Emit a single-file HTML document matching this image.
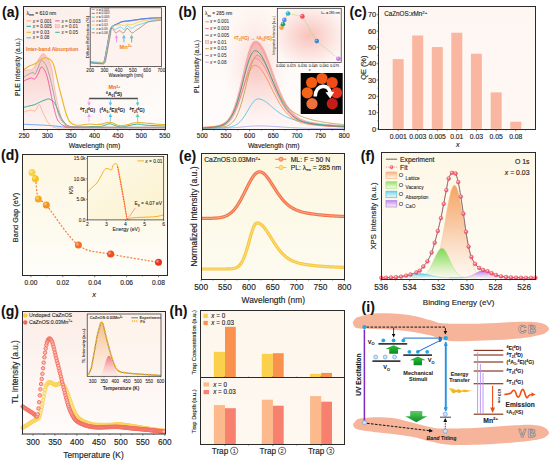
<!DOCTYPE html>
<html><head><meta charset="utf-8"><style>
html,body{margin:0;padding:0;background:#fff;width:550px;height:463px;overflow:hidden}
svg{display:block;font-family:"Liberation Sans", sans-serif}

</style></head><body>
<svg width="550" height="463" viewBox="0 0 550 463">
<defs><linearGradient id="ga_fill" x1="0" y1="0" x2="0" y2="1"><stop offset="0" stop-color="#f7b5b5" stop-opacity="0.75"/><stop offset="1" stop-color="#fbe3e0" stop-opacity="0.2"/></linearGradient><linearGradient id="ga_bg" x1="0" y1="0" x2="0.8" y2="1"><stop offset="0" stop-color="#fbece6"/><stop offset="0.55" stop-color="#fdf6f3"/><stop offset="1" stop-color="#fefbf9"/></linearGradient></defs>
<rect x="23.5" y="6.5" width="142" height="123" fill="url(#ga_bg)" stroke="none" stroke-width="1" />
<path d="M23.8,70.7 C24.5,70.58 26.47,70.3 28,70 C29.53,69.7 31.5,70.23 33,68.9 C34.5,67.57 35.47,64.45 37,62 C38.53,59.55 40.72,55.2 42.2,54.2 C43.68,53.2 44.37,53.87 45.9,56 C47.43,58.13 49.88,61.18 51.4,67 C52.92,72.82 53.48,82.95 55,90.9 C56.52,98.85 58.67,109.18 60.5,114.7 C62.33,120.22 64.08,122.03 66,124 C67.92,125.97 69.67,125.92 72,126.5 C74.33,127.08 78.67,127.33 80,127.5 L80,129 L23.8,129 Z" stroke="none" stroke-width="1" fill="url(#ga_fill)" />
<path d="M24,124.3 C26.67,124.42 35.43,124.77 40,125 C44.57,125.23 48.07,125.45 51.4,125.7 C54.73,125.95 56.65,126.15 60,126.5 C63.35,126.85 64.83,127.55 71.5,127.8 C78.17,128.05 84.42,127.97 100,128 C115.58,128.03 154.17,128 165,128" stroke="#6a9cf0" stroke-width="0.9" fill="none" />
<path d="M24,112 C24.58,111.8 26.3,111.12 27.5,110.8 C28.7,110.48 29.98,110.05 31.2,110.1 C32.42,110.15 33.83,111.45 34.8,111.1 C35.77,110.75 36.23,109.08 37,108 C37.77,106.92 38.53,104.08 39.4,104.6 C40.27,105.12 41.27,109.03 42.2,111.1 C43.13,113.17 44.08,115.17 45,117 C45.92,118.83 46.7,120.68 47.7,122.1 C48.7,123.52 49.78,124.58 51,125.5 C52.22,126.42 51.83,127.18 55,127.6 C58.17,128.02 51.67,127.93 70,128 C88.33,128.07 149.17,128 165,128" stroke="#f7ad85" stroke-width="0.8" fill="none" />
<path d="M24,107.4 C24.83,107.17 27.2,106.47 29,106 C30.8,105.53 32.92,105.28 34.8,104.6 C36.68,103.92 38.6,102.67 40.3,101.9 C42,101.13 43.47,100.47 45,100 C46.53,99.53 47.83,98.48 49.5,99.1 C51.17,99.72 53.17,100.78 55,103.7 C56.83,106.62 59,113.55 60.5,116.6 C62,119.65 62.77,120.48 64,122 C65.23,123.52 66.07,124.87 67.9,125.7 C69.73,126.53 72.15,126.78 75,127 C77.85,127.22 82.17,127.08 85,127 C87.83,126.92 89.5,126.57 92,126.5 C94.5,126.43 97.83,126.82 100,126.6 C102.17,126.38 103.33,125.67 105,125.2 C106.67,124.73 108.33,123.75 110,123.8 C111.67,123.85 113.17,124.97 115,125.5 C116.83,126.03 118.83,126.95 121,127 C123.17,127.05 125.83,126.22 128,125.8 C130.17,125.38 132.17,124.77 134,124.5 C135.83,124.23 137,124.08 139,124.2 C141,124.32 141.67,124.9 146,125.2 C150.33,125.5 161.83,125.87 165,126" stroke="#25a893" stroke-width="0.9" fill="none" />
<path d="M24,80.8 C24.5,80.58 25.8,79.97 27,79.5 C28.2,79.03 29.9,78.08 31.2,78 C32.5,77.92 33.67,79.67 34.8,79 C35.93,78.33 36.92,76 38,74 C39.08,72 40.15,67.55 41.3,67 C42.45,66.45 43.78,68.53 44.9,70.7 C46.02,72.87 46.92,75.72 48,80 C49.08,84.28 50.4,91.73 51.4,96.4 C52.4,101.07 53.08,104.33 54,108 C54.92,111.67 55.9,115.9 56.9,118.4 C57.9,120.9 58.78,121.78 60,123 C61.22,124.22 61.7,124.98 64.2,125.7 C66.7,126.42 58.2,127 75,127.3 C91.8,127.6 150,127.47 165,127.5" stroke="#f0559e" stroke-width="0.9" fill="none" />
<path d="M24,77.1 C24.67,76.67 26.5,75.27 28,74.5 C29.5,73.73 31.87,72.52 33,72.5 C34.13,72.48 33.97,75.15 34.8,74.4 C35.63,73.65 36.92,70.3 38,68 C39.08,65.7 39.98,61.07 41.3,60.6 C42.62,60.13 44.62,62.97 45.9,65.2 C47.18,67.43 47.93,70.33 49,74 C50.07,77.67 51.22,82.53 52.3,87.2 C53.38,91.87 54.43,97.42 55.5,102 C56.57,106.58 57.62,111.53 58.7,114.7 C59.78,117.87 60.78,119.32 62,121 C63.22,122.68 63.83,123.83 66,124.8 C68.17,125.77 58.5,126.4 75,126.8 C91.5,127.2 150,127.13 165,127.2" stroke="#9aa592" stroke-width="0.9" fill="none" />
<path d="M23.8,70.7 C24.5,70.58 26.47,70.3 28,70 C29.53,69.7 31.5,70.23 33,68.9 C34.5,67.57 35.47,64.45 37,62 C38.53,59.55 40.72,55.2 42.2,54.2 C43.68,53.2 44.37,53.87 45.9,56 C47.43,58.13 49.88,61.18 51.4,67 C52.92,72.82 53.48,82.95 55,90.9 C56.52,98.85 58.67,109.18 60.5,114.7 C62.33,120.22 63.58,121.95 66,124 C68.42,126.05 58.5,126.45 75,127 C91.5,127.55 150,127.25 165,127.3" stroke="#f28a8a" stroke-width="0.6" fill="none" opacity="0.8"/>
<path d="M23.8,69.8 C24.72,69.18 27.62,67.02 29.3,66.1 C30.98,65.18 32.62,64.9 33.9,64.3 C35.18,63.7 35.93,63.27 37,62.5 C38.07,61.73 38.82,60.48 40.3,59.7 C41.78,58.92 44.05,57.65 45.9,57.8 C47.75,57.95 50.05,59.23 51.4,60.6 C52.75,61.97 53.08,63.1 54,66 C54.92,68.9 55.98,74.17 56.9,78 C57.82,81.83 58.58,85.33 59.5,89 C60.42,92.67 61.48,96.5 62.4,100 C63.32,103.5 64.08,106.93 65,110 C65.92,113.07 66.9,116.23 67.9,118.4 C68.9,120.57 69.78,121.9 71,123 C72.22,124.1 73.37,124.67 75.2,125 C77.03,125.33 79.7,125.17 82,125 C84.3,124.83 86.83,124.08 89,124 C91.17,123.92 93.17,124.43 95,124.5 C96.83,124.57 98.5,124.55 100,124.4 C101.5,124.25 102.83,123.9 104,123.6 C105.17,123.3 106,122.82 107,122.6 C108,122.38 109,122.23 110,122.3 C111,122.37 111.83,122.55 113,123 C114.17,123.45 115.67,124.53 117,125 C118.33,125.47 119.33,125.83 121,125.8 C122.67,125.77 125,125.27 127,124.8 C129,124.33 131.17,123.38 133,123 C134.83,122.62 136,122.5 138,122.5 C140,122.5 142.17,122.75 145,123 C147.83,123.25 151.67,123.75 155,124 C158.33,124.25 163.33,124.42 165,124.5" stroke="#e8b626" stroke-width="1.1" fill="none" />
<rect x="23.5" y="6.5" width="142" height="123" fill="none" stroke="#2a2a2a" stroke-width="1" />
<line x1="24" y1="129.5" x2="24" y2="131.3" stroke="#333" stroke-width="0.6" />
<text x="24" y="137.8" font-size="6.6" text-anchor="middle" font-weight="normal" font-style="normal" fill="#222" stroke="#222" stroke-width="0.13" >250</text>
<line x1="47.47" y1="129.5" x2="47.47" y2="131.3" stroke="#333" stroke-width="0.6" />
<text x="47.47" y="137.8" font-size="6.6" text-anchor="middle" font-weight="normal" font-style="normal" fill="#222" stroke="#222" stroke-width="0.13" >300</text>
<line x1="70.93" y1="129.5" x2="70.93" y2="131.3" stroke="#333" stroke-width="0.6" />
<text x="70.93" y="137.8" font-size="6.6" text-anchor="middle" font-weight="normal" font-style="normal" fill="#222" stroke="#222" stroke-width="0.13" >350</text>
<line x1="94.4" y1="129.5" x2="94.4" y2="131.3" stroke="#333" stroke-width="0.6" />
<text x="94.4" y="137.8" font-size="6.6" text-anchor="middle" font-weight="normal" font-style="normal" fill="#222" stroke="#222" stroke-width="0.13" >400</text>
<line x1="117.87" y1="129.5" x2="117.87" y2="131.3" stroke="#333" stroke-width="0.6" />
<text x="117.87" y="137.8" font-size="6.6" text-anchor="middle" font-weight="normal" font-style="normal" fill="#222" stroke="#222" stroke-width="0.13" >450</text>
<line x1="141.33" y1="129.5" x2="141.33" y2="131.3" stroke="#333" stroke-width="0.6" />
<text x="141.33" y="137.8" font-size="6.6" text-anchor="middle" font-weight="normal" font-style="normal" fill="#222" stroke="#222" stroke-width="0.13" >500</text>
<line x1="164.8" y1="129.5" x2="164.8" y2="131.3" stroke="#333" stroke-width="0.6" />
<text x="164.8" y="137.8" font-size="6.6" text-anchor="middle" font-weight="normal" font-style="normal" fill="#222" stroke="#222" stroke-width="0.13" >550</text>
<line x1="35.73" y1="129.5" x2="35.73" y2="130.5" stroke="#333" stroke-width="0.6" />
<line x1="59.2" y1="129.5" x2="59.2" y2="130.5" stroke="#333" stroke-width="0.6" />
<line x1="82.67" y1="129.5" x2="82.67" y2="130.5" stroke="#333" stroke-width="0.6" />
<line x1="106.13" y1="129.5" x2="106.13" y2="130.5" stroke="#333" stroke-width="0.6" />
<line x1="129.6" y1="129.5" x2="129.6" y2="130.5" stroke="#333" stroke-width="0.6" />
<line x1="153.07" y1="129.5" x2="153.07" y2="130.5" stroke="#333" stroke-width="0.6" />
<text x="94.5" y="147.5" font-size="6.8" text-anchor="middle" font-weight="normal" font-style="normal" fill="#222" stroke="#222" stroke-width="0.13" >Wavelength (nm)</text>
<text x="19.8" y="67.2" font-size="6.8" text-anchor="middle" font-weight="normal" font-style="normal" fill="#222" stroke="#222" stroke-width="0.13" transform="rotate(-90 19.8 67.2)" >PLE Intensity (a.u.)</text>
<text x="2" y="16.5" font-size="14" text-anchor="start" font-weight="bold" font-style="normal" fill="#111" stroke="#111" stroke-width="0.1" >(a)</text>
<text x="26.5" y="14.8" font-size="5" text-anchor="start" font-weight="normal" font-style="normal" fill="#222" stroke="#222" stroke-width="0.07" >λ<tspan font-size="3.5" dy="1.2">em</tspan><tspan dy="-1.2"> = 610 nm</tspan></text>
<line x1="26.5" y1="20.9" x2="31" y2="20.9" stroke="#f7a878" stroke-width="1" />
<text x="32.8" y="22.5" font-size="4.6" text-anchor="start" font-weight="normal" font-style="normal" fill="#333" stroke="#333" stroke-width="0.06" ><tspan font-style="italic">x</tspan> = 0.001</text>
<line x1="55.2" y1="20.9" x2="59.7" y2="20.9" stroke="#ee4fa5" stroke-width="1" />
<text x="61.5" y="22.5" font-size="4.6" text-anchor="start" font-weight="normal" font-style="normal" fill="#333" stroke="#333" stroke-width="0.06" ><tspan font-style="italic">x</tspan> = 0.003</text>
<line x1="26.5" y1="26.3" x2="31" y2="26.3" stroke="#25a893" stroke-width="1" />
<text x="32.8" y="27.9" font-size="4.6" text-anchor="start" font-weight="normal" font-style="normal" fill="#333" stroke="#333" stroke-width="0.06" ><tspan font-style="italic">x</tspan> = 0.005</text>
<rect x="55.2" y="24.7" width="4.5" height="3.2" fill="#f9cfd0" stroke="#f4a0a8" stroke-width="0.4" />
<text x="61.5" y="27.9" font-size="4.6" text-anchor="start" font-weight="normal" font-style="normal" fill="#333" stroke="#333" stroke-width="0.06" ><tspan font-style="italic">x</tspan> = 0.01</text>
<line x1="26.5" y1="32.3" x2="31" y2="32.3" stroke="#e8b626" stroke-width="1" />
<text x="32.8" y="33.9" font-size="4.6" text-anchor="start" font-weight="normal" font-style="normal" fill="#333" stroke="#333" stroke-width="0.06" ><tspan font-style="italic">x</tspan> = 0.03</text>
<line x1="55.2" y1="32.3" x2="59.7" y2="32.3" stroke="#3fb0a0" stroke-width="1" />
<text x="61.5" y="33.9" font-size="4.6" text-anchor="start" font-weight="normal" font-style="normal" fill="#333" stroke="#333" stroke-width="0.06" ><tspan font-style="italic">x</tspan> = 0.05</text>
<line x1="26.5" y1="37.8" x2="31" y2="37.8" stroke="#6a9cf0" stroke-width="1" />
<text x="32.8" y="39.4" font-size="4.6" text-anchor="start" font-weight="normal" font-style="normal" fill="#333" stroke="#333" stroke-width="0.06" ><tspan font-style="italic">x</tspan> = 0.08</text>
<text x="26" y="51" font-size="5" text-anchor="start" font-weight="bold" font-style="normal" fill="#f07a28" stroke="#f07a28" stroke-width="0.05" >Inter-band Absorption</text>
<text x="114.5" y="89.3" font-size="5.4" text-anchor="middle" font-weight="bold" font-style="normal" fill="#f07020" stroke="#f07020" stroke-width="0.06" >Mn<tspan font-size="3.6" dy="-1.8">2+</tspan></text>
<text x="114" y="95.6" font-size="5" text-anchor="middle" font-weight="bold" font-style="normal" fill="#222" stroke="#222" stroke-width="0.05" ><tspan font-size="3.4" dy="-1.6">6</tspan><tspan dy="1.6">A</tspan><tspan font-size="3.4" dy="1">1</tspan><tspan dy="-1">(</tspan><tspan font-size="3.4" dy="-1.6">6</tspan><tspan dy="1.6">S)</tspan></text>
<line x1="89" y1="98.5" x2="138" y2="98.5" stroke="#505050" stroke-width="1.3" />
<line x1="89" y1="98.5" x2="89" y2="104.5" stroke="#f39af0" stroke-width="0.7" />
<path d="M89,106 L87.2,102.5 L90.8,102.5 Z" stroke="none" stroke-width="1" fill="#f39af0" />
<line x1="89" y1="121.8" x2="89" y2="115" stroke="#f39af0" stroke-width="0.7" />
<path d="M89,113.5 L87.2,117 L90.8,117 Z" stroke="none" stroke-width="1" fill="#f39af0" />
<line x1="110.4" y1="98.5" x2="110.4" y2="104.5" stroke="#52c3ef" stroke-width="0.7" />
<path d="M110.4,106 L108.6,102.5 L112.2,102.5 Z" stroke="none" stroke-width="1" fill="#52c3ef" />
<line x1="110.4" y1="121.8" x2="110.4" y2="115" stroke="#52c3ef" stroke-width="0.7" />
<path d="M110.4,113.5 L108.6,117 L112.2,117 Z" stroke="none" stroke-width="1" fill="#52c3ef" />
<line x1="137.6" y1="98.5" x2="137.6" y2="104.5" stroke="#4fd0b0" stroke-width="0.7" />
<path d="M137.6,106 L135.8,102.5 L139.4,102.5 Z" stroke="none" stroke-width="1" fill="#4fd0b0" />
<line x1="137.6" y1="121.8" x2="137.6" y2="115" stroke="#4fd0b0" stroke-width="0.7" />
<path d="M137.6,113.5 L135.8,117 L139.4,117 Z" stroke="none" stroke-width="1" fill="#4fd0b0" />
<text x="87.6" y="111.8" font-size="4.8" text-anchor="middle" font-weight="bold" font-style="normal" fill="#222" stroke="#222" stroke-width="0.04" ><tspan font-size="3.2" dy="-1.6">4</tspan><tspan dy="1.6">T</tspan><tspan font-size="3.2" dy="1">1</tspan><tspan dy="-1">(</tspan><tspan font-size="3.2" dy="-1.6">4</tspan><tspan dy="1.6">G)</tspan></text>
<text x="112.2" y="111.8" font-size="4.8" text-anchor="middle" font-weight="bold" font-style="normal" fill="#222" stroke="#222" stroke-width="0.04" >(<tspan font-size="3.2" dy="-1.6">4</tspan><tspan dy="1.6">A</tspan><tspan font-size="3.2" dy="1">1</tspan><tspan dy="-1">,</tspan><tspan font-size="3.2" dy="-1.6">4</tspan><tspan dy="1.6">E)(</tspan><tspan font-size="3.2" dy="-1.6">4</tspan><tspan dy="1.6">G)</tspan></text>
<text x="137" y="111.8" font-size="4.8" text-anchor="middle" font-weight="bold" font-style="normal" fill="#222" stroke="#222" stroke-width="0.04" ><tspan font-size="3.2" dy="-1.6">4</tspan><tspan dy="1.6">T</tspan><tspan font-size="3.2" dy="1">2</tspan><tspan dy="-1">(</tspan><tspan font-size="3.2" dy="-1.6">4</tspan><tspan dy="1.6">G)</tspan></text>
<rect x="90.2" y="7.8" width="71.2" height="58.7" fill="#fdf2ee" stroke="none" stroke-width="1" />
<path d="M90.5,62.5 C91.42,62.58 94.25,62.87 96,63 C97.75,63.13 99.67,63.38 101,63.3 C102.33,63.22 103.17,64.05 104,62.5 C104.83,60.95 105.33,57.25 106,54 C106.67,50.75 107.33,46.67 108,43 C108.67,39.33 109.27,34.75 110,32 C110.73,29.25 111.12,27.83 112.4,26.5 C113.68,25.17 116.12,24.75 117.7,24 C119.28,23.25 120.32,22.43 121.9,22 C123.48,21.57 125.33,21.63 127.2,21.4 C129.07,21.17 130.73,20.93 133.1,20.6 C135.47,20.27 138.45,19.75 141.4,19.4 C144.35,19.05 147.45,18.7 150.8,18.5 C154.15,18.3 159.72,18.25 161.5,18.2" stroke="#f08a8a" stroke-width="0.8" fill="none" />
<path d="M90.5,62 C91.42,62.08 94.25,62.37 96,62.5 C97.75,62.63 99.67,62.88 101,62.8 C102.33,62.72 103.17,63.55 104,62 C104.83,60.45 105.33,56.75 106,53.5 C106.67,50.25 107.33,46.17 108,42.5 C108.67,38.83 109.27,34.2 110,31.5 C110.73,28.8 111.12,27.62 112.4,26.3 C113.68,24.98 116.12,24.38 117.7,23.6 C119.28,22.82 120.32,22.03 121.9,21.6 C123.48,21.17 125.33,21.23 127.2,21 C129.07,20.77 130.73,20.53 133.1,20.2 C135.47,19.87 138.45,19.33 141.4,19 C144.35,18.67 147.45,18.38 150.8,18.2 C154.15,18.02 159.72,17.95 161.5,17.9" stroke="#30d090" stroke-width="0.8" fill="none" />
<path d="M90.5,62.5 C91.42,62.58 94.25,62.88 96,63 C97.75,63.12 99.67,63.32 101,63.2 C102.33,63.08 103.17,63.83 104,62.3 C104.83,60.77 105.33,57.22 106,54 C106.67,50.78 107.33,46.67 108,43 C108.67,39.33 109.27,34.75 110,32 C110.73,29.25 111.12,27.87 112.4,26.5 C113.68,25.13 116.12,24.58 117.7,23.8 C119.28,23.02 120.32,22.23 121.9,21.8 C123.48,21.37 125.33,21.43 127.2,21.2 C129.07,20.97 130.73,20.73 133.1,20.4 C135.47,20.07 138.45,19.55 141.4,19.2 C144.35,18.85 147.45,18.5 150.8,18.3 C154.15,18.1 159.72,18.05 161.5,18" stroke="#b58ef0" stroke-width="0.8" fill="none" />
<path d="M90.5,62 C91.42,62.1 94.25,62.43 96,62.6 C97.75,62.77 99.7,63.1 101,63 C102.3,62.9 103,63.67 103.8,62 C104.6,60.33 105.13,56.33 105.8,53 C106.47,49.67 107.13,45.67 107.8,42 C108.47,38.33 109.07,33.62 109.8,31 C110.53,28.38 110.88,27.5 112.2,26.3 C113.52,25.1 116.08,24.58 117.7,23.8 C119.32,23.02 120.32,22.07 121.9,21.6 C123.48,21.13 125.33,21.23 127.2,21 C129.07,20.77 130.73,20.53 133.1,20.2 C135.47,19.87 138.45,19.35 141.4,19 C144.35,18.65 147.45,18.3 150.8,18.1 C154.15,17.9 159.72,17.85 161.5,17.8" stroke="#3f7ef0" stroke-width="0.8" fill="none" />
<path d="M90.5,61.5 C91.42,61.58 94.25,61.87 96,62 C97.75,62.13 99.63,62.3 101,62.3 C102.37,62.3 103.37,63.38 104.2,62 C105.03,60.62 105.37,57.17 106,54 C106.63,50.83 107.33,46.67 108,43 C108.67,39.33 109.17,34.75 110,32 C110.83,29.25 111.52,27.7 113,26.5 C114.48,25.3 116.93,24.98 118.9,24.8 C120.87,24.62 123.42,25.53 124.8,25.4 C126.18,25.27 126.12,24.1 127.2,24 C128.28,23.9 129.53,25.07 131.3,24.8 C133.07,24.53 135.13,23.2 137.8,22.4 C140.47,21.6 143.35,20.65 147.3,20 C151.25,19.35 159.13,18.75 161.5,18.5" stroke="#f7c845" stroke-width="0.8" fill="none" />
<path d="M90.5,62.5 C91.42,62.58 94.25,62.87 96,63 C97.75,63.13 99.6,63.33 101,63.3 C102.4,63.27 103.52,64.18 104.4,62.8 C105.28,61.42 105.65,58.13 106.3,55 C106.95,51.87 107.63,47.67 108.3,44 C108.97,40.33 109.72,35.92 110.3,33 C110.88,30.08 111.05,27.08 111.8,26.5 C112.55,25.92 113.85,29.22 114.8,29.5 C115.75,29.78 116.52,28.6 117.5,28.2 C118.48,27.8 119.58,26.88 120.7,27.1 C121.82,27.32 123.12,29.78 124.2,29.5 C125.28,29.22 126.02,25.6 127.2,25.4 C128.38,25.2 129.73,28.3 131.3,28.3 C132.87,28.3 134.72,26.18 136.6,25.4 C138.48,24.62 140.43,24.3 142.6,23.6 C144.77,22.9 146.45,21.97 149.6,21.2 C152.75,20.43 159.52,19.37 161.5,19" stroke="#45d8f0" stroke-width="0.8" fill="none" />
<path d="M90.5,63 C91.42,63.08 94.25,63.37 96,63.5 C97.75,63.63 99.57,63.85 101,63.8 C102.43,63.75 103.68,64.5 104.6,63.2 C105.52,61.9 105.85,59.03 106.5,56 C107.15,52.97 107.83,48.67 108.5,45 C109.17,41.33 110.02,36.83 110.5,34 C110.98,31.17 110.78,28.55 111.4,28 C112.02,27.45 113.43,29.87 114.2,30.7 C114.97,31.53 115.12,33 116,33 C116.88,33 118.23,30.7 119.5,30.7 C120.77,30.7 122.32,33.4 123.6,33 C124.88,32.6 125.82,28.3 127.2,28.3 C128.58,28.3 130.52,32.6 131.9,33 C133.28,33.4 134.12,31.58 135.5,30.7 C136.88,29.82 138.23,29.08 140.2,27.7 C142.17,26.32 145.13,23.48 147.3,22.4 C149.47,21.32 150.83,21.6 153.2,21.2 C155.57,20.8 160.12,20.2 161.5,20" stroke="#b07a70" stroke-width="0.8" fill="none" />
<rect x="90.2" y="7.8" width="71.2" height="58.7" fill="none" stroke="#2a2a2a" stroke-width="0.7" />
<line x1="90.2" y1="66.5" x2="90.2" y2="67.7" stroke="#333" stroke-width="0.5" />
<text x="90.2" y="71.5" font-size="4.6" text-anchor="middle" font-weight="normal" font-style="normal" fill="#222" stroke="#222" stroke-width="0.06" >200</text>
<line x1="104.44" y1="66.5" x2="104.44" y2="67.7" stroke="#333" stroke-width="0.5" />
<text x="104.44" y="71.5" font-size="4.6" text-anchor="middle" font-weight="normal" font-style="normal" fill="#222" stroke="#222" stroke-width="0.06" >300</text>
<line x1="118.68" y1="66.5" x2="118.68" y2="67.7" stroke="#333" stroke-width="0.5" />
<text x="118.68" y="71.5" font-size="4.6" text-anchor="middle" font-weight="normal" font-style="normal" fill="#222" stroke="#222" stroke-width="0.06" >400</text>
<line x1="132.92" y1="66.5" x2="132.92" y2="67.7" stroke="#333" stroke-width="0.5" />
<text x="132.92" y="71.5" font-size="4.6" text-anchor="middle" font-weight="normal" font-style="normal" fill="#222" stroke="#222" stroke-width="0.06" >500</text>
<line x1="147.16" y1="66.5" x2="147.16" y2="67.7" stroke="#333" stroke-width="0.5" />
<text x="147.16" y="71.5" font-size="4.6" text-anchor="middle" font-weight="normal" font-style="normal" fill="#222" stroke="#222" stroke-width="0.06" >600</text>
<line x1="161.4" y1="66.5" x2="161.4" y2="67.7" stroke="#333" stroke-width="0.5" />
<text x="161.4" y="71.5" font-size="4.6" text-anchor="middle" font-weight="normal" font-style="normal" fill="#222" stroke="#222" stroke-width="0.06" >700</text>
<line x1="97.32" y1="66.5" x2="97.32" y2="67.2" stroke="#333" stroke-width="0.5" />
<line x1="111.56" y1="66.5" x2="111.56" y2="67.2" stroke="#333" stroke-width="0.5" />
<line x1="125.8" y1="66.5" x2="125.8" y2="67.2" stroke="#333" stroke-width="0.5" />
<line x1="140.04" y1="66.5" x2="140.04" y2="67.2" stroke="#333" stroke-width="0.5" />
<line x1="154.28" y1="66.5" x2="154.28" y2="67.2" stroke="#333" stroke-width="0.5" />
<text x="126" y="77" font-size="4.6" text-anchor="middle" font-weight="normal" font-style="normal" fill="#222" stroke="#222" stroke-width="0.06" >Wavelength (nm)</text>
<text x="88.8" y="37" font-size="4.4" text-anchor="middle" font-weight="normal" font-style="normal" fill="#222" stroke="#222" stroke-width="0.05" transform="rotate(-90 88.8 37)" >Diffuse Reflection (%)</text>
<line x1="91.8" y1="9.5" x2="94.8" y2="9.5" stroke="#f08a8a" stroke-width="0.9" />
<text x="96.3" y="10.6" font-size="3.2" text-anchor="start" font-weight="normal" font-style="normal" fill="#444" stroke="#444" stroke-width="0.03" ><tspan font-style="italic">x</tspan> = 0.001</text>
<line x1="91.8" y1="13.38" x2="94.8" y2="13.38" stroke="#3f7ef0" stroke-width="0.9" />
<text x="96.3" y="14.48" font-size="3.2" text-anchor="start" font-weight="normal" font-style="normal" fill="#444" stroke="#444" stroke-width="0.03" ><tspan font-style="italic">x</tspan> = 0.003</text>
<line x1="91.8" y1="17.26" x2="94.8" y2="17.26" stroke="#30d090" stroke-width="0.9" />
<text x="96.3" y="18.36" font-size="3.2" text-anchor="start" font-weight="normal" font-style="normal" fill="#444" stroke="#444" stroke-width="0.03" ><tspan font-style="italic">x</tspan> = 0.005</text>
<line x1="91.8" y1="21.14" x2="94.8" y2="21.14" stroke="#b58ef0" stroke-width="0.9" />
<text x="96.3" y="22.24" font-size="3.2" text-anchor="start" font-weight="normal" font-style="normal" fill="#444" stroke="#444" stroke-width="0.03" ><tspan font-style="italic">x</tspan> = 0.01</text>
<line x1="91.8" y1="25.02" x2="94.8" y2="25.02" stroke="#f7c845" stroke-width="0.9" />
<text x="96.3" y="26.12" font-size="3.2" text-anchor="start" font-weight="normal" font-style="normal" fill="#444" stroke="#444" stroke-width="0.03" ><tspan font-style="italic">x</tspan> = 0.03</text>
<line x1="91.8" y1="28.9" x2="94.8" y2="28.9" stroke="#45d8f0" stroke-width="0.9" />
<text x="96.3" y="30" font-size="3.2" text-anchor="start" font-weight="normal" font-style="normal" fill="#444" stroke="#444" stroke-width="0.03" ><tspan font-style="italic">x</tspan> = 0.05</text>
<line x1="91.8" y1="32.78" x2="94.8" y2="32.78" stroke="#b07a70" stroke-width="0.9" />
<text x="96.3" y="33.88" font-size="3.2" text-anchor="start" font-weight="normal" font-style="normal" fill="#444" stroke="#444" stroke-width="0.03" ><tspan font-style="italic">x</tspan> = 0.08</text>
<path d="M116.5,34.5 L114.7,38.2 L118.3,38.2 Z" stroke="none" stroke-width="1" fill="#ea9cf5" />
<line x1="116.5" y1="37.5" x2="116.5" y2="42.3" stroke="#ea9cf5" stroke-width="1.1" />
<path d="M123.9,34.5 L122.1,38.2 L125.7,38.2 Z" stroke="none" stroke-width="1" fill="#5bc3f0" />
<line x1="123.9" y1="37.5" x2="123.9" y2="42.3" stroke="#5bc3f0" stroke-width="1.1" />
<path d="M131.6,34.5 L129.8,38.2 L133.4,38.2 Z" stroke="none" stroke-width="1" fill="#4fcfb0" />
<line x1="131.6" y1="37.5" x2="131.6" y2="42.3" stroke="#4fcfb0" stroke-width="1.1" />
<text x="125.8" y="48.5" font-size="5.6" text-anchor="middle" font-weight="bold" font-style="normal" fill="#f08a2a" stroke="#f08a2a" stroke-width="0.06" >Mn<tspan font-size="3.8" dy="-1.9">2+</tspan></text>
<defs><linearGradient id="gb_bg" x1="0" y1="0" x2="0" y2="1"><stop offset="0" stop-color="#fef8f5"/><stop offset="1" stop-color="#fefcfb"/></linearGradient><radialGradient id="gb_glow" cx="0.5" cy="0.5" r="0.5"><stop offset="0" stop-color="#f9c8c0" stop-opacity="0.7"/><stop offset="1" stop-color="#fde8e4" stop-opacity="0"/></radialGradient><linearGradient id="gb_fill" x1="0" y1="0" x2="0" y2="1"><stop offset="0" stop-color="#f6a0a0" stop-opacity="0.75"/><stop offset="0.5" stop-color="#f9c8c4" stop-opacity="0.5"/><stop offset="1" stop-color="#fde8e4" stop-opacity="0.2"/></linearGradient><radialGradient id="gb_ins" cx="0.5" cy="0.5" r="0.6"><stop offset="0" stop-color="#f9c2bc"/><stop offset="0.6" stop-color="#fce4e0"/><stop offset="1" stop-color="#fef8f6"/></radialGradient></defs>
<rect x="202.5" y="6.5" width="142" height="123" fill="url(#gb_bg)" stroke="none" stroke-width="1" />
<ellipse cx="256" cy="62" rx="34" ry="62" fill="url(#gb_glow)"/>
<path d="M202.3,127.94 L203.25,127.89 L204.19,127.84 L205.14,127.79 L206.08,127.73 L207.03,127.67 L207.98,127.6 L208.92,127.53 L209.87,127.46 L210.81,127.38 L211.76,127.29 L212.71,127.2 L213.65,127.09 L214.6,126.97 L215.54,126.83 L216.49,126.68 L217.44,126.5 L218.38,126.3 L219.33,126.06 L220.27,125.78 L221.22,125.46 L222.17,125.07 L223.11,124.62 L224.06,124.09 L225,123.46 L225.95,122.73 L226.9,121.88 L227.84,120.9 L228.79,119.76 L229.73,118.46 L230.68,116.97 L231.63,115.28 L232.57,113.38 L233.52,111.26 L234.46,108.9 L235.41,106.31 L236.36,103.48 L237.3,100.42 L238.25,97.13 L239.19,93.63 L240.14,89.95 L241.09,86.1 L242.03,82.13 L242.98,78.08 L243.92,73.98 L244.87,69.9 L245.82,65.89 L246.76,62.01 L247.71,58.31 L248.65,54.86 L249.6,51.72 L250.55,48.93 L251.49,46.56 L252.44,44.64 L253.38,43.2 L254.33,42.29 L255.28,41.91 L256.22,41.98 L257.17,42.32 L258.11,42.92 L259.06,43.76 L260.01,44.84 L260.95,46.15 L261.9,47.67 L262.84,49.4 L263.79,51.3 L264.74,53.36 L265.68,55.56 L266.63,57.89 L267.57,60.32 L268.52,62.83 L269.47,65.4 L270.41,68.02 L271.36,70.66 L272.3,73.31 L273.25,75.95 L274.2,78.56 L275.14,81.14 L276.09,83.67 L277.03,86.14 L277.98,88.54 L278.93,90.86 L279.87,93.09 L280.82,95.24 L281.76,97.29 L282.71,99.25 L283.66,101.1 L284.6,102.86 L285.55,104.51 L286.49,106.07 L287.44,107.53 L288.39,108.89 L289.33,110.17 L290.28,111.35 L291.22,112.45 L292.17,113.47 L293.12,114.41 L294.06,115.28 L295.01,116.08 L295.95,116.81 L296.9,117.49 L297.85,118.11 L298.79,118.68 L299.74,119.21 L300.68,119.69 L301.63,120.13 L302.58,120.53 L303.52,120.91 L304.47,121.25 L305.41,121.57 L306.36,121.86 L307.31,122.13 L308.25,122.38 L309.2,122.61 L310.14,122.82 L311.09,123.02 L312.04,123.21 L312.98,123.39 L313.93,123.55 L314.87,123.71 L315.82,123.86 L316.77,124 L317.71,124.13 L318.66,124.25 L319.6,124.37 L320.55,124.49 L321.5,124.59 L322.44,124.7 L323.39,124.8 L324.33,124.89 L325.28,124.99 L326.23,125.08 L327.17,125.16 L328.12,125.24 L329.06,125.32 L330.01,125.4 L330.96,125.47 L331.9,125.54 L332.85,125.61 L333.79,125.68 L334.74,125.75 L335.69,125.81 L336.63,125.87 L337.58,125.93 L338.52,125.99 L339.47,126.04 L340.42,126.1 L341.36,126.15 L342.31,126.2 L343.25,126.25 L344.2,126.3 L344.2,128.7 L202.3,128.7 Z" stroke="none" stroke-width="1" fill="url(#gb_fill)" />
<path d="M202.3,127.94 L203.25,127.89 L204.19,127.84 L205.14,127.79 L206.08,127.73 L207.03,127.67 L207.98,127.6 L208.92,127.53 L209.87,127.46 L210.81,127.38 L211.76,127.29 L212.71,127.2 L213.65,127.09 L214.6,126.97 L215.54,126.83 L216.49,126.68 L217.44,126.5 L218.38,126.3 L219.33,126.06 L220.27,125.78 L221.22,125.46 L222.17,125.07 L223.11,124.62 L224.06,124.09 L225,123.46 L225.95,122.73 L226.9,121.88 L227.84,120.9 L228.79,119.76 L229.73,118.46 L230.68,116.97 L231.63,115.28 L232.57,113.38 L233.52,111.26 L234.46,108.9 L235.41,106.31 L236.36,103.48 L237.3,100.42 L238.25,97.13 L239.19,93.63 L240.14,89.95 L241.09,86.1 L242.03,82.13 L242.98,78.08 L243.92,73.98 L244.87,69.9 L245.82,65.89 L246.76,62.01 L247.71,58.31 L248.65,54.86 L249.6,51.72 L250.55,48.93 L251.49,46.56 L252.44,44.64 L253.38,43.2 L254.33,42.29 L255.28,41.91 L256.22,41.98 L257.17,42.32 L258.11,42.92 L259.06,43.76 L260.01,44.84 L260.95,46.15 L261.9,47.67 L262.84,49.4 L263.79,51.3 L264.74,53.36 L265.68,55.56 L266.63,57.89 L267.57,60.32 L268.52,62.83 L269.47,65.4 L270.41,68.02 L271.36,70.66 L272.3,73.31 L273.25,75.95 L274.2,78.56 L275.14,81.14 L276.09,83.67 L277.03,86.14 L277.98,88.54 L278.93,90.86 L279.87,93.09 L280.82,95.24 L281.76,97.29 L282.71,99.25 L283.66,101.1 L284.6,102.86 L285.55,104.51 L286.49,106.07 L287.44,107.53 L288.39,108.89 L289.33,110.17 L290.28,111.35 L291.22,112.45 L292.17,113.47 L293.12,114.41 L294.06,115.28 L295.01,116.08 L295.95,116.81 L296.9,117.49 L297.85,118.11 L298.79,118.68 L299.74,119.21 L300.68,119.69 L301.63,120.13 L302.58,120.53 L303.52,120.91 L304.47,121.25 L305.41,121.57 L306.36,121.86 L307.31,122.13 L308.25,122.38 L309.2,122.61 L310.14,122.82 L311.09,123.02 L312.04,123.21 L312.98,123.39 L313.93,123.55 L314.87,123.71 L315.82,123.86 L316.77,124 L317.71,124.13 L318.66,124.25 L319.6,124.37 L320.55,124.49 L321.5,124.59 L322.44,124.7 L323.39,124.8 L324.33,124.89 L325.28,124.99 L326.23,125.08 L327.17,125.16 L328.12,125.24 L329.06,125.32 L330.01,125.4 L330.96,125.47 L331.9,125.54 L332.85,125.61 L333.79,125.68 L334.74,125.75 L335.69,125.81 L336.63,125.87 L337.58,125.93 L338.52,125.99 L339.47,126.04 L340.42,126.1 L341.36,126.15 L342.31,126.2 L343.25,126.25 L344.2,126.3" stroke="#f4a0a0" stroke-width="2.4" fill="none" stroke-linejoin="round" opacity="0.85"/>
<path d="M202.3,128.58 L203.25,128.58 L204.19,128.57 L205.14,128.56 L206.08,128.55 L207.03,128.54 L207.98,128.53 L208.92,128.51 L209.87,128.5 L210.81,128.49 L211.76,128.48 L212.71,128.46 L213.65,128.44 L214.6,128.43 L215.54,128.41 L216.49,128.39 L217.44,128.37 L218.38,128.35 L219.33,128.32 L220.27,128.3 L221.22,128.27 L222.17,128.24 L223.11,128.21 L224.06,128.18 L225,128.14 L225.95,128.1 L226.9,128.06 L227.84,128.01 L228.79,127.96 L229.73,127.91 L230.68,127.86 L231.63,127.8 L232.57,127.74 L233.52,127.67 L234.46,127.61 L235.41,127.54 L236.36,127.46 L237.3,127.38 L238.25,127.3 L239.19,127.22 L240.14,127.14 L241.09,127.05 L242.03,126.96 L242.98,126.88 L243.92,126.79 L244.87,126.7 L245.82,126.62 L246.76,126.53 L247.71,126.45 L248.65,126.37 L249.6,126.3 L250.55,126.23 L251.49,126.16 L252.44,126.1 L253.38,126.05 L254.33,126.01 L255.28,125.97 L256.22,125.94 L257.17,125.92 L258.11,125.9 L259.06,125.9 L260.01,125.9 L260.95,125.91 L261.9,125.92 L262.84,125.94 L263.79,125.97 L264.74,126 L265.68,126.03 L266.63,126.07 L267.57,126.11 L268.52,126.16 L269.47,126.21 L270.41,126.26 L271.36,126.31 L272.3,126.37 L273.25,126.43 L274.2,126.49 L275.14,126.55 L276.09,126.62 L277.03,126.68 L277.98,126.75 L278.93,126.81 L279.87,126.88 L280.82,126.94 L281.76,127.01 L282.71,127.07 L283.66,127.13 L284.6,127.2 L285.55,127.26 L286.49,127.32 L287.44,127.38 L288.39,127.44 L289.33,127.49 L290.28,127.55 L291.22,127.6 L292.17,127.66 L293.12,127.71 L294.06,127.76 L295.01,127.8 L295.95,127.85 L296.9,127.89 L297.85,127.93 L298.79,127.97 L299.74,128.01 L300.68,128.05 L301.63,128.09 L302.58,128.12 L303.52,128.15 L304.47,128.18 L305.41,128.21 L306.36,128.24 L307.31,128.26 L308.25,128.29 L309.2,128.31 L310.14,128.33 L311.09,128.35 L312.04,128.37 L312.98,128.39 L313.93,128.4 L314.87,128.42 L315.82,128.43 L316.77,128.45 L317.71,128.46 L318.66,128.47 L319.6,128.48 L320.55,128.49 L321.5,128.5 L322.44,128.51 L323.39,128.52 L324.33,128.53 L325.28,128.54 L326.23,128.54 L327.17,128.55 L328.12,128.55 L329.06,128.56 L330.01,128.57 L330.96,128.57 L331.9,128.57 L332.85,128.58 L333.79,128.58 L334.74,128.59 L335.69,128.59 L336.63,128.59 L337.58,128.6 L338.52,128.6 L339.47,128.6 L340.42,128.6 L341.36,128.61 L342.31,128.61 L343.25,128.61 L344.2,128.61" stroke="#a9a3ef" stroke-width="0.8" fill="none" />
<path d="M202.3,128.44 L203.25,128.42 L204.19,128.4 L205.14,128.38 L206.08,128.36 L207.03,128.34 L207.98,128.32 L208.92,128.3 L209.87,128.28 L210.81,128.25 L211.76,128.23 L212.71,128.2 L213.65,128.17 L214.6,128.14 L215.54,128.11 L216.49,128.08 L217.44,128.05 L218.38,128.02 L219.33,127.98 L220.27,127.94 L221.22,127.9 L222.17,127.85 L223.11,127.8 L224.06,127.74 L225,127.67 L225.95,127.59 L226.9,127.5 L227.84,127.39 L228.79,127.26 L229.73,127.1 L230.68,126.91 L231.63,126.68 L232.57,126.41 L233.52,126.08 L234.46,125.69 L235.41,125.23 L236.36,124.7 L237.3,124.07 L238.25,123.35 L239.19,122.53 L240.14,121.61 L241.09,120.57 L242.03,119.42 L242.98,118.17 L243.92,116.82 L244.87,115.37 L245.82,113.85 L246.76,112.28 L247.71,110.67 L248.65,109.05 L249.6,107.45 L250.55,105.9 L251.49,104.43 L252.44,103.08 L253.38,101.87 L254.33,100.84 L255.28,100.01 L256.22,99.4 L257.17,99.03 L258.11,98.9 L259.06,98.95 L260.01,99.09 L260.95,99.33 L261.9,99.65 L262.84,100.06 L263.79,100.55 L264.74,101.11 L265.68,101.73 L266.63,102.41 L267.57,103.13 L268.52,103.89 L269.47,104.68 L270.41,105.49 L271.36,106.31 L272.3,107.13 L273.25,107.95 L274.2,108.75 L275.14,109.54 L276.09,110.32 L277.03,111.06 L277.98,111.78 L278.93,112.47 L279.87,113.13 L280.82,113.76 L281.76,114.36 L282.71,114.92 L283.66,115.46 L284.6,115.96 L285.55,116.44 L286.49,116.89 L287.44,117.31 L288.39,117.71 L289.33,118.08 L290.28,118.44 L291.22,118.78 L292.17,119.1 L293.12,119.4 L294.06,119.69 L295.01,119.96 L295.95,120.23 L296.9,120.48 L297.85,120.72 L298.79,120.95 L299.74,121.17 L300.68,121.38 L301.63,121.58 L302.58,121.78 L303.52,121.97 L304.47,122.15 L305.41,122.33 L306.36,122.49 L307.31,122.66 L308.25,122.82 L309.2,122.97 L310.14,123.12 L311.09,123.26 L312.04,123.4 L312.98,123.53 L313.93,123.66 L314.87,123.78 L315.82,123.9 L316.77,124.02 L317.71,124.13 L318.66,124.24 L319.6,124.35 L320.55,124.45 L321.5,124.55 L322.44,124.64 L323.39,124.74 L324.33,124.83 L325.28,124.91 L326.23,125 L327.17,125.08 L328.12,125.16 L329.06,125.24 L330.01,125.31 L330.96,125.38 L331.9,125.45 L332.85,125.52 L333.79,125.59 L334.74,125.65 L335.69,125.71 L336.63,125.78 L337.58,125.83 L338.52,125.89 L339.47,125.95 L340.42,126 L341.36,126.05 L342.31,126.11 L343.25,126.16 L344.2,126.2" stroke="#48c6e6" stroke-width="0.9" fill="none" />
<path d="M202.3,127.66 L203.25,127.6 L204.19,127.53 L205.14,127.45 L206.08,127.38 L207.03,127.3 L207.98,127.21 L208.92,127.12 L209.87,127.03 L210.81,126.93 L211.76,126.82 L212.71,126.71 L213.65,126.58 L214.6,126.45 L215.54,126.3 L216.49,126.13 L217.44,125.95 L218.38,125.74 L219.33,125.5 L220.27,125.23 L221.22,124.92 L222.17,124.57 L223.11,124.16 L224.06,123.69 L225,123.15 L225.95,122.53 L226.9,121.82 L227.84,121.01 L228.79,120.08 L229.73,119.02 L230.68,117.83 L231.63,116.5 L232.57,115.01 L233.52,113.37 L234.46,111.56 L235.41,109.58 L236.36,107.44 L237.3,105.15 L238.25,102.7 L239.19,100.12 L240.14,97.43 L241.09,94.64 L242.03,91.78 L242.98,88.89 L243.92,86 L244.87,83.15 L245.82,80.38 L246.76,77.73 L247.71,75.24 L248.65,72.95 L249.6,70.91 L250.55,69.15 L251.49,67.7 L252.44,66.58 L253.38,65.83 L254.33,65.45 L255.28,65.42 L256.22,65.61 L257.17,65.99 L258.11,66.55 L259.06,67.29 L260.01,68.2 L260.95,69.26 L261.9,70.48 L262.84,71.82 L263.79,73.29 L264.74,74.87 L265.68,76.54 L266.63,78.29 L267.57,80.11 L268.52,81.97 L269.47,83.87 L270.41,85.79 L271.36,87.72 L272.3,89.65 L273.25,91.57 L274.2,93.46 L275.14,95.31 L276.09,97.13 L277.03,98.89 L277.98,100.6 L278.93,102.25 L279.87,103.84 L280.82,105.35 L281.76,106.8 L282.71,108.18 L283.66,109.48 L284.6,110.71 L285.55,111.86 L286.49,112.95 L287.44,113.97 L288.39,114.91 L289.33,115.8 L290.28,116.62 L291.22,117.38 L292.17,118.08 L293.12,118.73 L294.06,119.32 L295.01,119.87 L295.95,120.38 L296.9,120.85 L297.85,121.27 L298.79,121.67 L299.74,122.03 L300.68,122.36 L301.63,122.66 L302.58,122.94 L303.52,123.19 L304.47,123.43 L305.41,123.65 L306.36,123.85 L307.31,124.04 L308.25,124.21 L309.2,124.37 L310.14,124.52 L311.09,124.66 L312.04,124.79 L312.98,124.91 L313.93,125.03 L314.87,125.14 L315.82,125.24 L316.77,125.34 L317.71,125.43 L318.66,125.52 L319.6,125.6 L320.55,125.68 L321.5,125.76 L322.44,125.83 L323.39,125.9 L324.33,125.97 L325.28,126.04 L326.23,126.1 L327.17,126.16 L328.12,126.22 L329.06,126.28 L330.01,126.33 L330.96,126.38 L331.9,126.43 L332.85,126.48 L333.79,126.53 L334.74,126.58 L335.69,126.62 L336.63,126.67 L337.58,126.71 L338.52,126.75 L339.47,126.79 L340.42,126.83 L341.36,126.86 L342.31,126.9 L343.25,126.94 L344.2,126.97" stroke="#f5903e" stroke-width="0.9" fill="none" />
<path d="M202.3,128.09 L203.25,128.05 L204.19,128 L205.14,127.96 L206.08,127.91 L207.03,127.87 L207.98,127.82 L208.92,127.76 L209.87,127.7 L210.81,127.64 L211.76,127.58 L212.71,127.51 L213.65,127.43 L214.6,127.34 L215.54,127.24 L216.49,127.13 L217.44,127.01 L218.38,126.87 L219.33,126.7 L220.27,126.5 L221.22,126.27 L222.17,126 L223.11,125.69 L224.06,125.31 L225,124.86 L225.95,124.34 L226.9,123.72 L227.84,123 L228.79,122.16 L229.73,121.18 L230.68,120.06 L231.63,118.78 L232.57,117.32 L233.52,115.68 L234.46,113.85 L235.41,111.81 L236.36,109.57 L237.3,107.12 L238.25,104.48 L239.19,101.65 L240.14,98.64 L241.09,95.49 L242.03,92.21 L242.98,88.85 L243.92,85.44 L244.87,82.02 L245.82,78.65 L246.76,75.37 L247.71,72.23 L248.65,69.3 L249.6,66.62 L250.55,64.23 L251.49,62.2 L252.44,60.55 L253.38,59.32 L254.33,58.54 L255.28,58.21 L256.22,58.27 L257.17,58.54 L258.11,59.02 L259.06,59.71 L260.01,60.59 L260.95,61.65 L261.9,62.89 L262.84,64.29 L263.79,65.83 L264.74,67.51 L265.68,69.3 L266.63,71.19 L267.57,73.16 L268.52,75.2 L269.47,77.29 L270.41,79.41 L271.36,81.56 L272.3,83.71 L273.25,85.85 L274.2,87.98 L275.14,90.07 L276.09,92.12 L277.03,94.13 L277.98,96.08 L278.93,97.96 L279.87,99.78 L280.82,101.52 L281.76,103.19 L282.71,104.78 L283.66,106.28 L284.6,107.71 L285.55,109.06 L286.49,110.32 L287.44,111.51 L288.39,112.61 L289.33,113.65 L290.28,114.61 L291.22,115.5 L292.17,116.33 L293.12,117.09 L294.06,117.8 L295.01,118.45 L295.95,119.05 L296.9,119.6 L297.85,120.1 L298.79,120.56 L299.74,120.99 L300.68,121.38 L301.63,121.74 L302.58,122.07 L303.52,122.37 L304.47,122.65 L305.41,122.91 L306.36,123.14 L307.31,123.36 L308.25,123.56 L309.2,123.75 L310.14,123.93 L311.09,124.09 L312.04,124.24 L312.98,124.39 L313.93,124.52 L314.87,124.65 L315.82,124.77 L316.77,124.88 L317.71,124.99 L318.66,125.09 L319.6,125.18 L320.55,125.28 L321.5,125.37 L322.44,125.45 L323.39,125.53 L324.33,125.61 L325.28,125.68 L326.23,125.76 L327.17,125.83 L328.12,125.89 L329.06,125.96 L330.01,126.02 L330.96,126.08 L331.9,126.14 L332.85,126.19 L333.79,126.25 L334.74,126.3 L335.69,126.35 L336.63,126.4 L337.58,126.45 L338.52,126.5 L339.47,126.54 L340.42,126.58 L341.36,126.63 L342.31,126.67 L343.25,126.71 L344.2,126.75" stroke="#f07aa6" stroke-width="0.8" fill="none" />
<path d="M202.3,128.24 L203.25,128.21 L204.19,128.18 L205.14,128.14 L206.08,128.11 L207.03,128.07 L207.98,128.04 L208.92,128 L209.87,127.96 L210.81,127.91 L211.76,127.87 L212.71,127.82 L213.65,127.77 L214.6,127.72 L215.54,127.66 L216.49,127.6 L217.44,127.54 L218.38,127.47 L219.33,127.39 L220.27,127.29 L221.22,127.19 L222.17,127.07 L223.11,126.92 L224.06,126.75 L225,126.54 L225.95,126.29 L226.9,125.98 L227.84,125.61 L228.79,125.17 L229.73,124.62 L230.68,123.97 L231.63,123.2 L232.57,122.27 L233.52,121.18 L234.46,119.91 L235.41,118.43 L236.36,116.73 L237.3,114.79 L238.25,112.6 L239.19,110.15 L240.14,107.45 L241.09,104.49 L242.03,101.29 L242.98,97.87 L243.92,94.26 L244.87,90.49 L245.82,86.63 L246.76,82.71 L247.71,78.81 L248.65,74.99 L249.6,71.32 L250.55,67.88 L251.49,64.74 L252.44,61.96 L253.38,59.62 L254.33,57.77 L255.28,56.45 L256.22,55.69 L257.17,55.5 L258.11,55.68 L259.06,56.1 L260.01,56.76 L260.95,57.65 L261.9,58.75 L262.84,60.07 L263.79,61.56 L264.74,63.23 L265.68,65.04 L266.63,66.98 L267.57,69.02 L268.52,71.13 L269.47,73.31 L270.41,75.53 L271.36,77.76 L272.3,79.98 L273.25,82.19 L274.2,84.37 L275.14,86.5 L276.09,88.56 L277.03,90.56 L277.98,92.48 L278.93,94.32 L279.87,96.07 L280.82,97.73 L281.76,99.29 L282.71,100.77 L283.66,102.16 L284.6,103.46 L285.55,104.67 L286.49,105.81 L287.44,106.87 L288.39,107.85 L289.33,108.77 L290.28,109.63 L291.22,110.42 L292.17,111.16 L293.12,111.86 L294.06,112.5 L295.01,113.11 L295.95,113.67 L296.9,114.21 L297.85,114.71 L298.79,115.18 L299.74,115.62 L300.68,116.04 L301.63,116.44 L302.58,116.82 L303.52,117.18 L304.47,117.53 L305.41,117.85 L306.36,118.17 L307.31,118.47 L308.25,118.75 L309.2,119.03 L310.14,119.3 L311.09,119.55 L312.04,119.8 L312.98,120.03 L313.93,120.26 L314.87,120.48 L315.82,120.69 L316.77,120.89 L317.71,121.09 L318.66,121.28 L319.6,121.46 L320.55,121.64 L321.5,121.81 L322.44,121.97 L323.39,122.13 L324.33,122.28 L325.28,122.43 L326.23,122.58 L327.17,122.72 L328.12,122.85 L329.06,122.98 L330.01,123.11 L330.96,123.23 L331.9,123.35 L332.85,123.47 L333.79,123.58 L334.74,123.69 L335.69,123.79 L336.63,123.89 L337.58,123.99 L338.52,124.09 L339.47,124.18 L340.42,124.27 L341.36,124.36 L342.31,124.45 L343.25,124.53 L344.2,124.61" stroke="#b8a848" stroke-width="0.9" fill="none" />
<path d="M202.3,128 L203.25,127.96 L204.19,127.91 L205.14,127.86 L206.08,127.81 L207.03,127.75 L207.98,127.69 L208.92,127.63 L209.87,127.56 L210.81,127.48 L211.76,127.4 L212.71,127.31 L213.65,127.21 L214.6,127.1 L215.54,126.97 L216.49,126.83 L217.44,126.66 L218.38,126.46 L219.33,126.23 L220.27,125.97 L221.22,125.65 L222.17,125.28 L223.11,124.85 L224.06,124.34 L225,123.74 L225.95,123.05 L226.9,122.24 L227.84,121.3 L228.79,120.22 L229.73,118.98 L230.68,117.57 L231.63,115.98 L232.57,114.19 L233.52,112.2 L234.46,110 L235.41,107.59 L236.36,104.96 L237.3,102.13 L238.25,99.09 L239.19,95.88 L240.14,92.51 L241.09,89 L242.03,85.4 L242.98,81.74 L243.92,78.06 L244.87,74.41 L245.82,70.85 L246.76,67.42 L247.71,64.18 L248.65,61.18 L249.6,58.48 L250.55,56.12 L251.49,54.14 L252.44,52.59 L253.38,51.49 L254.33,50.86 L255.28,50.7 L256.22,50.87 L257.17,51.26 L258.11,51.89 L259.06,52.73 L260.01,53.79 L260.95,55.04 L261.9,56.49 L262.84,58.1 L263.79,59.87 L264.74,61.78 L265.68,63.8 L266.63,65.93 L267.57,68.15 L268.52,70.43 L269.47,72.76 L270.41,75.12 L271.36,77.49 L272.3,79.87 L273.25,82.24 L274.2,84.58 L275.14,86.88 L276.09,89.13 L277.03,91.32 L277.98,93.45 L278.93,95.51 L279.87,97.48 L280.82,99.38 L281.76,101.19 L282.71,102.91 L283.66,104.54 L284.6,106.08 L285.55,107.54 L286.49,108.9 L287.44,110.18 L288.39,111.37 L289.33,112.48 L290.28,113.51 L291.22,114.47 L292.17,115.36 L293.12,116.18 L294.06,116.93 L295.01,117.63 L295.95,118.27 L296.9,118.86 L297.85,119.4 L298.79,119.89 L299.74,120.35 L300.68,120.76 L301.63,121.15 L302.58,121.5 L303.52,121.82 L304.47,122.12 L305.41,122.4 L306.36,122.65 L307.31,122.88 L308.25,123.1 L309.2,123.3 L310.14,123.49 L311.09,123.67 L312.04,123.83 L312.98,123.99 L313.93,124.13 L314.87,124.27 L315.82,124.4 L316.77,124.52 L317.71,124.64 L318.66,124.75 L319.6,124.85 L320.55,124.95 L321.5,125.05 L322.44,125.14 L323.39,125.23 L324.33,125.31 L325.28,125.4 L326.23,125.47 L327.17,125.55 L328.12,125.62 L329.06,125.69 L330.01,125.76 L330.96,125.83 L331.9,125.89 L332.85,125.95 L333.79,126.01 L334.74,126.07 L335.69,126.12 L336.63,126.18 L337.58,126.23 L338.52,126.28 L339.47,126.33 L340.42,126.38 L341.36,126.42 L342.31,126.47 L343.25,126.51 L344.2,126.56" stroke="#3a9a7e" stroke-width="0.9" fill="none" />
<rect x="202.5" y="6.5" width="142" height="123" fill="none" stroke="#2a2a2a" stroke-width="1" />
<line x1="202.3" y1="129.5" x2="202.3" y2="131.3" stroke="#333" stroke-width="0.6" />
<text x="202.3" y="137.8" font-size="6.6" text-anchor="middle" font-weight="normal" font-style="normal" fill="#222" stroke="#222" stroke-width="0.13" >500</text>
<line x1="225.95" y1="129.5" x2="225.95" y2="131.3" stroke="#333" stroke-width="0.6" />
<text x="225.95" y="137.8" font-size="6.6" text-anchor="middle" font-weight="normal" font-style="normal" fill="#222" stroke="#222" stroke-width="0.13" >550</text>
<line x1="249.6" y1="129.5" x2="249.6" y2="131.3" stroke="#333" stroke-width="0.6" />
<text x="249.6" y="137.8" font-size="6.6" text-anchor="middle" font-weight="normal" font-style="normal" fill="#222" stroke="#222" stroke-width="0.13" >600</text>
<line x1="273.25" y1="129.5" x2="273.25" y2="131.3" stroke="#333" stroke-width="0.6" />
<text x="273.25" y="137.8" font-size="6.6" text-anchor="middle" font-weight="normal" font-style="normal" fill="#222" stroke="#222" stroke-width="0.13" >650</text>
<line x1="296.9" y1="129.5" x2="296.9" y2="131.3" stroke="#333" stroke-width="0.6" />
<text x="296.9" y="137.8" font-size="6.6" text-anchor="middle" font-weight="normal" font-style="normal" fill="#222" stroke="#222" stroke-width="0.13" >700</text>
<line x1="320.55" y1="129.5" x2="320.55" y2="131.3" stroke="#333" stroke-width="0.6" />
<text x="320.55" y="137.8" font-size="6.6" text-anchor="middle" font-weight="normal" font-style="normal" fill="#222" stroke="#222" stroke-width="0.13" >750</text>
<line x1="344.2" y1="129.5" x2="344.2" y2="131.3" stroke="#333" stroke-width="0.6" />
<text x="344.2" y="137.8" font-size="6.6" text-anchor="middle" font-weight="normal" font-style="normal" fill="#222" stroke="#222" stroke-width="0.13" >800</text>
<line x1="214.12" y1="129.5" x2="214.12" y2="130.5" stroke="#333" stroke-width="0.6" />
<line x1="237.78" y1="129.5" x2="237.78" y2="130.5" stroke="#333" stroke-width="0.6" />
<line x1="261.43" y1="129.5" x2="261.43" y2="130.5" stroke="#333" stroke-width="0.6" />
<line x1="285.07" y1="129.5" x2="285.07" y2="130.5" stroke="#333" stroke-width="0.6" />
<line x1="308.72" y1="129.5" x2="308.72" y2="130.5" stroke="#333" stroke-width="0.6" />
<line x1="332.38" y1="129.5" x2="332.38" y2="130.5" stroke="#333" stroke-width="0.6" />
<text x="273.7" y="148" font-size="6.8" text-anchor="middle" font-weight="normal" font-style="normal" fill="#222" stroke="#222" stroke-width="0.13" >Wavelength (nm)</text>
<text x="199" y="66.4" font-size="6.8" text-anchor="middle" font-weight="normal" font-style="normal" fill="#222" stroke="#222" stroke-width="0.13" transform="rotate(-90 199 66.4)" >PL Intensity (a.u.)</text>
<text x="178.6" y="17.3" font-size="14" text-anchor="start" font-weight="bold" font-style="normal" fill="#111" stroke="#111" stroke-width="0.1" >(b)</text>
<text x="205" y="15.4" font-size="4.8" text-anchor="start" font-weight="normal" font-style="normal" fill="#222" stroke="#222" stroke-width="0.06" >λ<tspan font-size="3.3" dy="1.2">ex</tspan><tspan dy="-1.2"> = 285 nm</tspan></text>
<line x1="205.3" y1="21.8" x2="208.8" y2="21.8" stroke="#f5903e" stroke-width="1" />
<text x="210" y="23.45" font-size="4.6" text-anchor="start" font-weight="normal" font-style="normal" fill="#333" stroke="#333" stroke-width="0.06" ><tspan font-style="italic">x</tspan> = 0.001</text>
<line x1="205.3" y1="28.53" x2="208.8" y2="28.53" stroke="#f07aa6" stroke-width="1" />
<text x="210" y="30.18" font-size="4.6" text-anchor="start" font-weight="normal" font-style="normal" fill="#333" stroke="#333" stroke-width="0.06" ><tspan font-style="italic">x</tspan> = 0.003</text>
<line x1="205.3" y1="35.26" x2="208.8" y2="35.26" stroke="#3a9a7e" stroke-width="1" />
<text x="210" y="36.91" font-size="4.6" text-anchor="start" font-weight="normal" font-style="normal" fill="#333" stroke="#333" stroke-width="0.06" ><tspan font-style="italic">x</tspan> = 0.005</text>
<rect x="205.3" y="40.49" width="3.5" height="3" fill="#fbd0d0" stroke="#f08a8a" stroke-width="0.4" />
<text x="210" y="43.64" font-size="4.6" text-anchor="start" font-weight="normal" font-style="normal" fill="#333" stroke="#333" stroke-width="0.06" ><tspan font-style="italic">x</tspan> = 0.01</text>
<line x1="205.3" y1="48.72" x2="208.8" y2="48.72" stroke="#b8a848" stroke-width="1" />
<text x="210" y="50.37" font-size="4.6" text-anchor="start" font-weight="normal" font-style="normal" fill="#333" stroke="#333" stroke-width="0.06" ><tspan font-style="italic">x</tspan> = 0.03</text>
<line x1="205.3" y1="55.45" x2="208.8" y2="55.45" stroke="#48c6e6" stroke-width="1" />
<text x="210" y="57.1" font-size="4.6" text-anchor="start" font-weight="normal" font-style="normal" fill="#333" stroke="#333" stroke-width="0.06" ><tspan font-style="italic">x</tspan> = 0.05</text>
<line x1="205.3" y1="62.18" x2="208.8" y2="62.18" stroke="#a9a3ef" stroke-width="1" />
<text x="210" y="63.83" font-size="4.6" text-anchor="start" font-weight="normal" font-style="normal" fill="#333" stroke="#333" stroke-width="0.06" ><tspan font-style="italic">x</tspan> = 0.08</text>
<text x="234" y="40.2" font-size="4.8" text-anchor="start" font-weight="bold" font-style="normal" fill="#f08a30" stroke="#f08a30" stroke-width="0.04" ><tspan font-size="3.2" dy="-1.5">4</tspan><tspan dy="1.5">T</tspan><tspan font-size="3.2" dy="1">1</tspan><tspan dy="-1">(</tspan><tspan font-size="3.2" dy="-1.5">4</tspan><tspan dy="1.5">G) → </tspan><tspan font-size="3.2" dy="-1.5">6</tspan><tspan dy="1.5">A</tspan><tspan font-size="3.2" dy="1">1</tspan><tspan dy="-1">(</tspan><tspan font-size="3.2" dy="-1.5">6</tspan><tspan dy="1.5">S)</tspan></text>
<rect x="277.3" y="8.3" width="63.9" height="54.2" fill="url(#gb_ins)" stroke="none" stroke-width="1" />
<path d="M281.52,27.6 L282.96,24.2 L284.4,19.9 L288,13.5 L302.4,16.4 L316.8,41.1 L338.4,58.7" stroke="#9ad66a" stroke-width="0.7" fill="none" stroke-dasharray="1.2,1"/>
<circle cx="281.52" cy="27.6" r="2.3" fill="#f4a040" stroke="none" stroke-width="1" />
<circle cx="280.82" cy="26.8" r="0.8" fill="#fff" stroke="none" stroke-width="1" opacity="0.55"/>
<circle cx="282.96" cy="24.2" r="2.3" fill="#1fa070" stroke="none" stroke-width="1" />
<circle cx="282.26" cy="23.4" r="0.8" fill="#fff" stroke="none" stroke-width="1" opacity="0.55"/>
<circle cx="284.4" cy="19.9" r="2.3" fill="#5a86f0" stroke="none" stroke-width="1" />
<circle cx="283.7" cy="19.1" r="0.8" fill="#fff" stroke="none" stroke-width="1" opacity="0.55"/>
<circle cx="288" cy="13.5" r="2.3" fill="#25b5d0" stroke="none" stroke-width="1" />
<circle cx="287.3" cy="12.7" r="0.8" fill="#fff" stroke="none" stroke-width="1" opacity="0.55"/>
<circle cx="302.4" cy="16.4" r="2.3" fill="#f04a5a" stroke="none" stroke-width="1" />
<circle cx="301.7" cy="15.6" r="0.8" fill="#fff" stroke="none" stroke-width="1" opacity="0.55"/>
<circle cx="316.8" cy="41.1" r="2.3" fill="#3a88d8" stroke="none" stroke-width="1" />
<circle cx="316.1" cy="40.3" r="0.8" fill="#fff" stroke="none" stroke-width="1" opacity="0.55"/>
<circle cx="338.4" cy="58.7" r="2.3" fill="#c878e8" stroke="none" stroke-width="1" />
<circle cx="337.7" cy="57.9" r="0.8" fill="#fff" stroke="none" stroke-width="1" opacity="0.55"/>
<rect x="277.3" y="8.3" width="63.9" height="54.2" fill="none" stroke="#2a2a2a" stroke-width="0.7" />
<line x1="280.8" y1="62.5" x2="280.8" y2="63.5" stroke="#333" stroke-width="0.5" />
<text x="280.8" y="66.9" font-size="3.6" text-anchor="middle" font-weight="normal" font-style="normal" fill="#222" stroke="#222" stroke-width="0.03" >0.000</text>
<line x1="291.6" y1="62.5" x2="291.6" y2="63.5" stroke="#333" stroke-width="0.5" />
<text x="291.6" y="66.9" font-size="3.6" text-anchor="middle" font-weight="normal" font-style="normal" fill="#222" stroke="#222" stroke-width="0.03" >0.015</text>
<line x1="302.4" y1="62.5" x2="302.4" y2="63.5" stroke="#333" stroke-width="0.5" />
<text x="302.4" y="66.9" font-size="3.6" text-anchor="middle" font-weight="normal" font-style="normal" fill="#222" stroke="#222" stroke-width="0.03" >0.030</text>
<line x1="313.2" y1="62.5" x2="313.2" y2="63.5" stroke="#333" stroke-width="0.5" />
<text x="313.2" y="66.9" font-size="3.6" text-anchor="middle" font-weight="normal" font-style="normal" fill="#222" stroke="#222" stroke-width="0.03" >0.045</text>
<line x1="324" y1="62.5" x2="324" y2="63.5" stroke="#333" stroke-width="0.5" />
<text x="324" y="66.9" font-size="3.6" text-anchor="middle" font-weight="normal" font-style="normal" fill="#222" stroke="#222" stroke-width="0.03" >0.060</text>
<line x1="334.8" y1="62.5" x2="334.8" y2="63.5" stroke="#333" stroke-width="0.5" />
<text x="334.8" y="66.9" font-size="3.6" text-anchor="middle" font-weight="normal" font-style="normal" fill="#222" stroke="#222" stroke-width="0.03" >0.075</text>
<text x="309.7" y="70.5" font-size="3.8" text-anchor="middle" font-weight="normal" font-style="italic" fill="#222" stroke="#222" stroke-width="0.03" >x</text>
<text x="275.3" y="35.5" font-size="3.5" text-anchor="middle" font-weight="normal" font-style="normal" fill="#222" stroke="#222" stroke-width="0.03" transform="rotate(-90 275.3 35.5)" >Integrated Intensity (a.u.)</text>
<text x="340" y="13.5" font-size="3.3" text-anchor="end" font-weight="normal" font-style="normal" fill="#222" stroke="#222" stroke-width="0.03" >λ<tspan font-size="2.4" dy="0.8">ex</tspan><tspan dy="-0.8"> = 285 nm</tspan></text>
<rect x="300.7" y="73" width="42" height="41" fill="#050505" stroke="none" stroke-width="1" />
<circle cx="312" cy="103.7" r="5.6" fill="#f2703a" stroke="none" stroke-width="1" />
<circle cx="307.3" cy="92.8" r="5.6" fill="#f56418" stroke="none" stroke-width="1" />
<circle cx="311.6" cy="82.5" r="5.6" fill="#f55c14" stroke="none" stroke-width="1" />
<circle cx="322" cy="78.5" r="5.6" fill="#f25a18" stroke="none" stroke-width="1" />
<circle cx="332.2" cy="82.5" r="5.6" fill="#f24c16" stroke="none" stroke-width="1" />
<circle cx="336.5" cy="92.8" r="5.6" fill="#e83418" stroke="none" stroke-width="1" />
<circle cx="332.3" cy="103.7" r="5.6" fill="#c41c16" stroke="none" stroke-width="1" />
<path d="M315.2,96.5 C315.3,83.5 330,83.5 330,93.5" stroke="#fff" stroke-width="3.6" fill="none" stroke-linecap="butt"/>
<path d="M325.5,92.2 L334.3,91.8 L330.2,98.5 Z" stroke="none" stroke-width="1" fill="#fff" />
<defs><linearGradient id="gc_bg" x1="0" y1="0" x2="0" y2="1"><stop offset="0" stop-color="#fef6f2"/><stop offset="1" stop-color="#fef8f5"/></linearGradient></defs>
<rect x="378.5" y="6.5" width="157" height="123" fill="url(#gc_bg)" stroke="none" stroke-width="1" />
<rect x="392.7" y="59.14" width="11" height="69.76" fill="#f9b6a0" stroke="none" stroke-width="1" />
<rect x="412.2" y="35.5" width="11" height="93.4" fill="#f9b6a0" stroke="none" stroke-width="1" />
<rect x="431.8" y="47.07" width="11" height="81.83" fill="#f9b6a0" stroke="none" stroke-width="1" />
<rect x="451.3" y="32.73" width="11" height="96.17" fill="#f9b6a0" stroke="none" stroke-width="1" />
<rect x="470.9" y="53.76" width="11" height="75.14" fill="#f9b6a0" stroke="none" stroke-width="1" />
<rect x="490.7" y="92.39" width="11" height="36.51" fill="#f9b6a0" stroke="none" stroke-width="1" />
<rect x="510.3" y="121.73" width="11" height="7.17" fill="#f9b6a0" stroke="none" stroke-width="1" />
<rect x="378.5" y="6.5" width="157" height="123" fill="none" stroke="#2a2a2a" stroke-width="1" />
<line x1="378.5" y1="128.9" x2="376.7" y2="128.9" stroke="#333" stroke-width="0.6" />
<text x="376.2" y="131.56" font-size="7.4" text-anchor="end" font-weight="normal" font-style="normal" fill="#222" stroke="#222" stroke-width="0.14" >0</text>
<line x1="378.5" y1="112.6" x2="376.7" y2="112.6" stroke="#333" stroke-width="0.6" />
<text x="376.2" y="115.26" font-size="7.4" text-anchor="end" font-weight="normal" font-style="normal" fill="#222" stroke="#222" stroke-width="0.14" >10</text>
<line x1="378.5" y1="96.3" x2="376.7" y2="96.3" stroke="#333" stroke-width="0.6" />
<text x="376.2" y="98.96" font-size="7.4" text-anchor="end" font-weight="normal" font-style="normal" fill="#222" stroke="#222" stroke-width="0.14" >20</text>
<line x1="378.5" y1="80" x2="376.7" y2="80" stroke="#333" stroke-width="0.6" />
<text x="376.2" y="82.66" font-size="7.4" text-anchor="end" font-weight="normal" font-style="normal" fill="#222" stroke="#222" stroke-width="0.14" >30</text>
<line x1="378.5" y1="63.7" x2="376.7" y2="63.7" stroke="#333" stroke-width="0.6" />
<text x="376.2" y="66.36" font-size="7.4" text-anchor="end" font-weight="normal" font-style="normal" fill="#222" stroke="#222" stroke-width="0.14" >40</text>
<line x1="378.5" y1="47.4" x2="376.7" y2="47.4" stroke="#333" stroke-width="0.6" />
<text x="376.2" y="50.06" font-size="7.4" text-anchor="end" font-weight="normal" font-style="normal" fill="#222" stroke="#222" stroke-width="0.14" >50</text>
<line x1="378.5" y1="31.1" x2="376.7" y2="31.1" stroke="#333" stroke-width="0.6" />
<text x="376.2" y="33.76" font-size="7.4" text-anchor="end" font-weight="normal" font-style="normal" fill="#222" stroke="#222" stroke-width="0.14" >60</text>
<line x1="378.5" y1="14.8" x2="376.7" y2="14.8" stroke="#333" stroke-width="0.6" />
<text x="376.2" y="17.46" font-size="7.4" text-anchor="end" font-weight="normal" font-style="normal" fill="#222" stroke="#222" stroke-width="0.14" >70</text>
<line x1="378.5" y1="120.75" x2="377.5" y2="120.75" stroke="#333" stroke-width="0.6" />
<line x1="378.5" y1="104.45" x2="377.5" y2="104.45" stroke="#333" stroke-width="0.6" />
<line x1="378.5" y1="88.15" x2="377.5" y2="88.15" stroke="#333" stroke-width="0.6" />
<line x1="378.5" y1="71.85" x2="377.5" y2="71.85" stroke="#333" stroke-width="0.6" />
<line x1="378.5" y1="55.55" x2="377.5" y2="55.55" stroke="#333" stroke-width="0.6" />
<line x1="378.5" y1="39.25" x2="377.5" y2="39.25" stroke="#333" stroke-width="0.6" />
<line x1="378.5" y1="22.95" x2="377.5" y2="22.95" stroke="#333" stroke-width="0.6" />
<line x1="398.2" y1="129.5" x2="398.2" y2="131.3" stroke="#333" stroke-width="0.6" />
<text x="398.2" y="139.1" font-size="6.8" text-anchor="middle" font-weight="normal" font-style="normal" fill="#222" stroke="#222" stroke-width="0.13" >0.001</text>
<line x1="417.7" y1="129.5" x2="417.7" y2="131.3" stroke="#333" stroke-width="0.6" />
<text x="417.7" y="139.1" font-size="6.8" text-anchor="middle" font-weight="normal" font-style="normal" fill="#222" stroke="#222" stroke-width="0.13" >0.003</text>
<line x1="437.3" y1="129.5" x2="437.3" y2="131.3" stroke="#333" stroke-width="0.6" />
<text x="437.3" y="139.1" font-size="6.8" text-anchor="middle" font-weight="normal" font-style="normal" fill="#222" stroke="#222" stroke-width="0.13" >0.005</text>
<line x1="456.8" y1="129.5" x2="456.8" y2="131.3" stroke="#333" stroke-width="0.6" />
<text x="456.8" y="139.1" font-size="6.8" text-anchor="middle" font-weight="normal" font-style="normal" fill="#222" stroke="#222" stroke-width="0.13" >0.01</text>
<line x1="476.4" y1="129.5" x2="476.4" y2="131.3" stroke="#333" stroke-width="0.6" />
<text x="476.4" y="139.1" font-size="6.8" text-anchor="middle" font-weight="normal" font-style="normal" fill="#222" stroke="#222" stroke-width="0.13" >0.03</text>
<line x1="496.2" y1="129.5" x2="496.2" y2="131.3" stroke="#333" stroke-width="0.6" />
<text x="496.2" y="139.1" font-size="6.8" text-anchor="middle" font-weight="normal" font-style="normal" fill="#222" stroke="#222" stroke-width="0.13" >0.05</text>
<line x1="515.8" y1="129.5" x2="515.8" y2="131.3" stroke="#333" stroke-width="0.6" />
<text x="515.8" y="139.1" font-size="6.8" text-anchor="middle" font-weight="normal" font-style="normal" fill="#222" stroke="#222" stroke-width="0.13" >0.08</text>
<line x1="408" y1="129.5" x2="408" y2="130.5" stroke="#333" stroke-width="0.6" />
<line x1="427.5" y1="129.5" x2="427.5" y2="130.5" stroke="#333" stroke-width="0.6" />
<line x1="447.1" y1="129.5" x2="447.1" y2="130.5" stroke="#333" stroke-width="0.6" />
<line x1="466.6" y1="129.5" x2="466.6" y2="130.5" stroke="#333" stroke-width="0.6" />
<line x1="486.2" y1="129.5" x2="486.2" y2="130.5" stroke="#333" stroke-width="0.6" />
<line x1="506" y1="129.5" x2="506" y2="130.5" stroke="#333" stroke-width="0.6" />
<line x1="525.6" y1="129.5" x2="525.6" y2="130.5" stroke="#333" stroke-width="0.6" />
<text x="457.7" y="147" font-size="7.2" text-anchor="middle" font-weight="normal" font-style="italic" fill="#222" stroke="#222" stroke-width="0.14" >x</text>
<text x="366.2" y="67.7" font-size="7.4" text-anchor="middle" font-weight="normal" font-style="normal" fill="#222" stroke="#222" stroke-width="0.14" transform="rotate(-90 366.2 67.7)" >QE (%)</text>
<text x="349.5" y="16.5" font-size="14" text-anchor="start" font-weight="bold" font-style="normal" fill="#111" stroke="#111" stroke-width="0.1" >(c)</text>
<text x="384.2" y="16" font-size="6.3" text-anchor="start" font-weight="normal" font-style="normal" fill="#222" stroke="#222" stroke-width="0.12" >CaZnOS:<tspan font-style="italic">x</tspan>Mn<tspan font-size="4.2" dy="-2.3">2+</tspan></text>
<defs><linearGradient id="gd_bg" x1="0" y1="0" x2="0" y2="1"><stop offset="0" stop-color="#fdf7e2"/><stop offset="0.6" stop-color="#fdfaee"/><stop offset="1" stop-color="#fefdf9"/></linearGradient><linearGradient id="gd_ins" x1="0" y1="0" x2="1" y2="1"><stop offset="0" stop-color="#fdfaec"/><stop offset="1" stop-color="#fcf1cc"/></linearGradient><radialGradient id="ball" cx="0.35" cy="0.35" r="0.65"><stop offset="0" stop-color="#fff" stop-opacity="0.55"/><stop offset="0.5" stop-color="#fff" stop-opacity="0"/></radialGradient></defs>
<rect x="22.5" y="154.5" width="145" height="121" fill="url(#gd_bg)" stroke="none" stroke-width="1" />
<path d="M32,172.6 C32.57,173.62 34.35,174.3 35.4,178.7 C36.45,183.1 36.48,194.62 38.3,199 C40.12,203.38 39.62,197.32 46.3,205 C52.98,212.68 67.68,236.92 78.4,245.1 C89.12,253.28 97.25,251.23 110.6,254.1 C123.95,256.97 150.52,260.93 158.5,262.3" stroke="#f5823a" stroke-width="1.2" fill="none" stroke-dasharray="2,1.5"/>
<circle cx="32" cy="172.6" r="3.5" fill="#f8d048" stroke="none" stroke-width="1" />
<circle cx="32" cy="172.6" r="3.5" fill="url(#ball)" stroke="none" stroke-width="1" />
<circle cx="35.4" cy="178.7" r="3.5" fill="#f5c41a" stroke="none" stroke-width="1" />
<circle cx="35.4" cy="178.7" r="3.5" fill="url(#ball)" stroke="none" stroke-width="1" />
<circle cx="38.3" cy="199" r="3.5" fill="#f5a81a" stroke="none" stroke-width="1" />
<circle cx="38.3" cy="199" r="3.5" fill="url(#ball)" stroke="none" stroke-width="1" />
<circle cx="46.3" cy="205" r="3.5" fill="#f4901e" stroke="none" stroke-width="1" />
<circle cx="46.3" cy="205" r="3.5" fill="url(#ball)" stroke="none" stroke-width="1" />
<circle cx="78.4" cy="245.1" r="3.5" fill="#f07020" stroke="none" stroke-width="1" />
<circle cx="78.4" cy="245.1" r="3.5" fill="url(#ball)" stroke="none" stroke-width="1" />
<circle cx="110.6" cy="254.1" r="3.5" fill="#ee4a1e" stroke="none" stroke-width="1" />
<circle cx="110.6" cy="254.1" r="3.5" fill="url(#ball)" stroke="none" stroke-width="1" />
<circle cx="158.5" cy="262.3" r="3.5" fill="#e8301e" stroke="none" stroke-width="1" />
<circle cx="158.5" cy="262.3" r="3.5" fill="url(#ball)" stroke="none" stroke-width="1" />
<rect x="22.5" y="154.5" width="145" height="121" fill="none" stroke="#2a2a2a" stroke-width="1" />
<line x1="30.9" y1="275.5" x2="30.9" y2="277.3" stroke="#333" stroke-width="0.6" />
<text x="30.9" y="284.5" font-size="6.6" text-anchor="middle" font-weight="normal" font-style="normal" fill="#222" stroke="#222" stroke-width="0.13" >0.00</text>
<line x1="62.8" y1="275.5" x2="62.8" y2="277.3" stroke="#333" stroke-width="0.6" />
<text x="62.8" y="284.5" font-size="6.6" text-anchor="middle" font-weight="normal" font-style="normal" fill="#222" stroke="#222" stroke-width="0.13" >0.02</text>
<line x1="94.7" y1="275.5" x2="94.7" y2="277.3" stroke="#333" stroke-width="0.6" />
<text x="94.7" y="284.5" font-size="6.6" text-anchor="middle" font-weight="normal" font-style="normal" fill="#222" stroke="#222" stroke-width="0.13" >0.04</text>
<line x1="126.6" y1="275.5" x2="126.6" y2="277.3" stroke="#333" stroke-width="0.6" />
<text x="126.6" y="284.5" font-size="6.6" text-anchor="middle" font-weight="normal" font-style="normal" fill="#222" stroke="#222" stroke-width="0.13" >0.06</text>
<line x1="158.5" y1="275.5" x2="158.5" y2="277.3" stroke="#333" stroke-width="0.6" />
<text x="158.5" y="284.5" font-size="6.6" text-anchor="middle" font-weight="normal" font-style="normal" fill="#222" stroke="#222" stroke-width="0.13" >0.08</text>
<line x1="46.85" y1="275.5" x2="46.85" y2="276.5" stroke="#333" stroke-width="0.6" />
<line x1="78.75" y1="275.5" x2="78.75" y2="276.5" stroke="#333" stroke-width="0.6" />
<line x1="110.65" y1="275.5" x2="110.65" y2="276.5" stroke="#333" stroke-width="0.6" />
<line x1="142.55" y1="275.5" x2="142.55" y2="276.5" stroke="#333" stroke-width="0.6" />
<text x="94" y="297" font-size="7.4" text-anchor="middle" font-weight="normal" font-style="italic" fill="#222" stroke="#222" stroke-width="0.14" >x</text>
<text x="17.5" y="217.5" font-size="7.4" text-anchor="middle" font-weight="normal" font-style="normal" fill="#222" stroke="#222" stroke-width="0.14" transform="rotate(-90 17.5 217.5)" >Band Gap (eV)</text>
<text x="1" y="159.8" font-size="14" text-anchor="start" font-weight="bold" font-style="normal" fill="#111" stroke="#111" stroke-width="0.1" >(d)</text>
<rect x="87.3" y="156.5" width="76.4" height="63.4" fill="url(#gd_ins)" stroke="none" stroke-width="1" />
<path d="M87.5,192.6 C88.25,191.75 90.4,189.13 92,187.5 C93.6,185.87 95.6,184.72 97.1,182.8 C98.6,180.88 99.85,178.05 101,176 C102.15,173.95 103.18,171.73 104,170.5 C104.82,169.27 105.15,168.88 105.9,168.6 C106.65,168.32 107.6,168.57 108.5,168.8 C109.4,169.03 110.63,170.3 111.3,170 C111.97,169.7 112.13,167.87 112.5,167 C112.87,166.13 112.97,165.38 113.5,164.8 C114.03,164.22 115.08,163.47 115.7,163.5 C116.32,163.53 116.73,163.92 117.2,165 C117.67,166.08 117.87,167 118.5,170 C119.13,173 120.08,178 121,183 C121.92,188 122.97,193.95 124,200 C125.03,206.05 126.2,216.25 127.2,219.3 C128.2,222.35 128.83,218.57 130,218.3 C131.17,218.03 131.7,217.88 134.2,217.7 C136.7,217.52 141.37,217.38 145,217.2 C148.63,217.02 152.92,216.97 156,216.6 C159.08,216.23 162.25,215.27 163.5,215" stroke="#f5b020" stroke-width="1" fill="none" />
<line x1="117.5" y1="166.5" x2="127.2" y2="219.5" stroke="#f0405a" stroke-width="0.9" stroke-dasharray="1.5,1"/>
<line x1="127.4" y1="219.3" x2="135.3" y2="207.9" stroke="#f0607a" stroke-width="0.6" />
<rect x="87.3" y="156.5" width="76.4" height="63.4" fill="none" stroke="#2a2a2a" stroke-width="0.7" />
<line x1="87.3" y1="219.9" x2="87.3" y2="221.1" stroke="#333" stroke-width="0.5" />
<text x="87.3" y="225.7" font-size="5" text-anchor="middle" font-weight="normal" font-style="normal" fill="#222" stroke="#222" stroke-width="0.07" >2</text>
<line x1="106.4" y1="219.9" x2="106.4" y2="221.1" stroke="#333" stroke-width="0.5" />
<text x="106.4" y="225.7" font-size="5" text-anchor="middle" font-weight="normal" font-style="normal" fill="#222" stroke="#222" stroke-width="0.07" >3</text>
<line x1="125.5" y1="219.9" x2="125.5" y2="221.1" stroke="#333" stroke-width="0.5" />
<text x="125.5" y="225.7" font-size="5" text-anchor="middle" font-weight="normal" font-style="normal" fill="#222" stroke="#222" stroke-width="0.07" >4</text>
<line x1="144.6" y1="219.9" x2="144.6" y2="221.1" stroke="#333" stroke-width="0.5" />
<text x="144.6" y="225.7" font-size="5" text-anchor="middle" font-weight="normal" font-style="normal" fill="#222" stroke="#222" stroke-width="0.07" >5</text>
<line x1="163.7" y1="219.9" x2="163.7" y2="221.1" stroke="#333" stroke-width="0.5" />
<text x="163.7" y="225.7" font-size="5" text-anchor="middle" font-weight="normal" font-style="normal" fill="#222" stroke="#222" stroke-width="0.07" >6</text>
<line x1="87.3" y1="219.9" x2="86.1" y2="219.9" stroke="#333" stroke-width="0.5" />
<text x="85.5" y="221.6" font-size="4.8" text-anchor="end" font-weight="normal" font-style="normal" fill="#222" stroke="#222" stroke-width="0.06" >0.0</text>
<line x1="87.3" y1="199.43" x2="86.1" y2="199.43" stroke="#333" stroke-width="0.5" />
<text x="85.5" y="201.13" font-size="4.8" text-anchor="end" font-weight="normal" font-style="normal" fill="#222" stroke="#222" stroke-width="0.06" >5.0k</text>
<line x1="87.3" y1="178.97" x2="86.1" y2="178.97" stroke="#333" stroke-width="0.5" />
<text x="85.5" y="180.67" font-size="4.8" text-anchor="end" font-weight="normal" font-style="normal" fill="#222" stroke="#222" stroke-width="0.06" >10.0k</text>
<line x1="87.3" y1="158.5" x2="86.1" y2="158.5" stroke="#333" stroke-width="0.5" />
<text x="85.5" y="160.2" font-size="4.8" text-anchor="end" font-weight="normal" font-style="normal" fill="#222" stroke="#222" stroke-width="0.06" >15.0k</text>
<text x="126" y="231.2" font-size="5.1" text-anchor="middle" font-weight="normal" font-style="normal" fill="#222" stroke="#222" stroke-width="0.07" >Energy (eV)</text>
<text x="72.5" y="190" font-size="5" text-anchor="middle" font-weight="normal" font-style="normal" fill="#222" stroke="#222" stroke-width="0.07" transform="rotate(-90 72.5 190)" >K/S</text>
<line x1="137.5" y1="160.9" x2="144" y2="160.9" stroke="#f5b020" stroke-width="1" />
<text x="145.3" y="162.6" font-size="4.8" text-anchor="start" font-weight="normal" font-style="normal" fill="#222" stroke="#222" stroke-width="0.06" ><tspan font-style="italic">x</tspan> = 0.01</text>
<text x="134.5" y="205.3" font-size="4.9" text-anchor="start" font-weight="normal" font-style="normal" fill="#222" stroke="#222" stroke-width="0.07" >E<tspan font-size="3.3" dy="1.1">g</tspan><tspan dy="-1.1"> = 4.07 eV</tspan></text>
<defs><linearGradient id="ge_bg" x1="0" y1="0" x2="0" y2="1"><stop offset="0" stop-color="#fcf7e0"/><stop offset="1" stop-color="#fdfbf0"/></linearGradient></defs>
<rect x="201.5" y="153.5" width="143" height="126" fill="url(#ge_bg)" stroke="none" stroke-width="1" />
<path d="M201.1,218.39 L202.06,218.39 L203.01,218.39 L203.97,218.39 L204.92,218.38 L205.88,218.37 L206.83,218.37 L207.79,218.36 L208.74,218.34 L209.7,218.33 L210.65,218.31 L211.61,218.28 L212.56,218.25 L213.52,218.21 L214.47,218.17 L215.43,218.11 L216.39,218.04 L217.34,217.95 L218.3,217.85 L219.25,217.72 L220.21,217.57 L221.16,217.39 L222.12,217.19 L223.07,216.94 L224.03,216.65 L224.98,216.32 L225.94,215.94 L226.89,215.49 L227.85,214.99 L228.8,214.42 L229.76,213.77 L230.72,213.04 L231.67,212.23 L232.63,211.33 L233.58,210.33 L234.54,209.24 L235.49,208.06 L236.45,206.77 L237.4,205.38 L238.36,203.9 L239.31,202.33 L240.27,200.67 L241.22,198.93 L242.18,197.12 L243.13,195.26 L244.09,193.35 L245.05,191.41 L246,189.46 L246.96,187.52 L247.91,185.6 L248.87,183.73 L249.82,181.93 L250.78,180.22 L251.73,178.61 L252.69,177.14 L253.64,175.81 L254.6,174.65 L255.55,173.67 L256.51,172.89 L257.46,172.31 L258.42,171.95 L259.38,171.8 L260.33,171.87 L261.29,172.11 L262.24,172.53 L263.2,173.12 L264.15,173.87 L265.11,174.76 L266.06,175.79 L267.02,176.93 L267.97,178.18 L268.93,179.51 L269.88,180.91 L270.84,182.36 L271.79,183.85 L272.75,185.36 L273.71,186.88 L274.66,188.39 L275.62,189.88 L276.57,191.35 L277.53,192.78 L278.48,194.17 L279.44,195.51 L280.39,196.8 L281.35,198.03 L282.3,199.2 L283.26,200.31 L284.21,201.36 L285.17,202.35 L286.12,203.27 L287.08,204.14 L288.04,204.95 L288.99,205.7 L289.95,206.41 L290.9,207.06 L291.86,207.66 L292.81,208.22 L293.77,208.74 L294.72,209.22 L295.68,209.66 L296.63,210.07 L297.59,210.45 L298.54,210.8 L299.5,211.13 L300.45,211.43 L301.41,211.72 L302.37,211.98 L303.32,212.23 L304.28,212.46 L305.23,212.68 L306.19,212.88 L307.14,213.07 L308.1,213.25 L309.05,213.42 L310.01,213.59 L310.96,213.74 L311.92,213.89 L312.87,214.03 L313.83,214.16 L314.78,214.28 L315.74,214.41 L316.7,214.52 L317.65,214.63 L318.61,214.74 L319.56,214.84 L320.52,214.94 L321.47,215.03 L322.43,215.12 L323.38,215.21 L324.34,215.29 L325.29,215.37 L326.25,215.45 L327.2,215.52 L328.16,215.59 L329.11,215.66 L330.07,215.73 L331.03,215.79 L331.98,215.86 L332.94,215.92 L333.89,215.97 L334.85,216.03 L335.8,216.08 L336.76,216.14 L337.71,216.19 L338.67,216.24 L339.62,216.28 L340.58,216.33 L341.53,216.37 L342.49,216.42 L343.44,216.46 L344.4,216.5" stroke="#f4744a" stroke-width="3.2" fill="none" stroke-linejoin="round"/>
<path d="M201.1,218.39 L202.06,218.39 L203.01,218.39 L203.97,218.39 L204.92,218.38 L205.88,218.37 L206.83,218.37 L207.79,218.36 L208.74,218.34 L209.7,218.33 L210.65,218.31 L211.61,218.28 L212.56,218.25 L213.52,218.21 L214.47,218.17 L215.43,218.11 L216.39,218.04 L217.34,217.95 L218.3,217.85 L219.25,217.72 L220.21,217.57 L221.16,217.39 L222.12,217.19 L223.07,216.94 L224.03,216.65 L224.98,216.32 L225.94,215.94 L226.89,215.49 L227.85,214.99 L228.8,214.42 L229.76,213.77 L230.72,213.04 L231.67,212.23 L232.63,211.33 L233.58,210.33 L234.54,209.24 L235.49,208.06 L236.45,206.77 L237.4,205.38 L238.36,203.9 L239.31,202.33 L240.27,200.67 L241.22,198.93 L242.18,197.12 L243.13,195.26 L244.09,193.35 L245.05,191.41 L246,189.46 L246.96,187.52 L247.91,185.6 L248.87,183.73 L249.82,181.93 L250.78,180.22 L251.73,178.61 L252.69,177.14 L253.64,175.81 L254.6,174.65 L255.55,173.67 L256.51,172.89 L257.46,172.31 L258.42,171.95 L259.38,171.8 L260.33,171.87 L261.29,172.11 L262.24,172.53 L263.2,173.12 L264.15,173.87 L265.11,174.76 L266.06,175.79 L267.02,176.93 L267.97,178.18 L268.93,179.51 L269.88,180.91 L270.84,182.36 L271.79,183.85 L272.75,185.36 L273.71,186.88 L274.66,188.39 L275.62,189.88 L276.57,191.35 L277.53,192.78 L278.48,194.17 L279.44,195.51 L280.39,196.8 L281.35,198.03 L282.3,199.2 L283.26,200.31 L284.21,201.36 L285.17,202.35 L286.12,203.27 L287.08,204.14 L288.04,204.95 L288.99,205.7 L289.95,206.41 L290.9,207.06 L291.86,207.66 L292.81,208.22 L293.77,208.74 L294.72,209.22 L295.68,209.66 L296.63,210.07 L297.59,210.45 L298.54,210.8 L299.5,211.13 L300.45,211.43 L301.41,211.72 L302.37,211.98 L303.32,212.23 L304.28,212.46 L305.23,212.68 L306.19,212.88 L307.14,213.07 L308.1,213.25 L309.05,213.42 L310.01,213.59 L310.96,213.74 L311.92,213.89 L312.87,214.03 L313.83,214.16 L314.78,214.28 L315.74,214.41 L316.7,214.52 L317.65,214.63 L318.61,214.74 L319.56,214.84 L320.52,214.94 L321.47,215.03 L322.43,215.12 L323.38,215.21 L324.34,215.29 L325.29,215.37 L326.25,215.45 L327.2,215.52 L328.16,215.59 L329.11,215.66 L330.07,215.73 L331.03,215.79 L331.98,215.86 L332.94,215.92 L333.89,215.97 L334.85,216.03 L335.8,216.08 L336.76,216.14 L337.71,216.19 L338.67,216.24 L339.62,216.28 L340.58,216.33 L341.53,216.37 L342.49,216.42 L343.44,216.46 L344.4,216.5" stroke="#fcd8c4" stroke-width="1" fill="none" opacity="0.55"/>
<path d="M201.1,269 L202.06,269 L203.01,269 L203.97,269 L204.92,269 L205.88,269 L206.83,269 L207.79,269 L208.74,269 L209.7,269 L210.65,269 L211.61,269 L212.56,269 L213.52,269 L214.47,269 L215.43,269 L216.39,269 L217.34,269 L218.3,269 L219.25,269 L220.21,269 L221.16,269 L222.12,269 L223.07,269 L224.03,268.99 L224.98,268.99 L225.94,268.98 L226.89,268.97 L227.85,268.96 L228.8,268.94 L229.76,268.9 L230.72,268.85 L231.67,268.77 L232.63,268.66 L233.58,268.51 L234.54,268.29 L235.49,268 L236.45,267.6 L237.4,267.08 L238.36,266.4 L239.31,265.53 L240.27,264.45 L241.22,263.12 L242.18,261.51 L243.13,259.6 L244.09,257.38 L245.05,254.86 L246,252.04 L246.96,248.97 L247.91,245.7 L248.87,242.3 L249.82,238.87 L250.78,235.51 L251.73,232.33 L252.69,229.44 L253.64,226.98 L254.6,225.03 L255.55,223.68 L256.51,222.99 L257.46,222.92 L258.42,223.1 L259.38,223.45 L260.33,223.97 L261.29,224.66 L262.24,225.49 L263.2,226.47 L264.15,227.56 L265.11,228.77 L266.06,230.07 L267.02,231.45 L267.97,232.9 L268.93,234.39 L269.88,235.91 L270.84,237.44 L271.79,238.98 L272.75,240.51 L273.71,242.02 L274.66,243.5 L275.62,244.94 L276.57,246.33 L277.53,247.67 L278.48,248.95 L279.44,250.17 L280.39,251.33 L281.35,252.43 L282.3,253.46 L283.26,254.42 L284.21,255.32 L285.17,256.16 L286.12,256.94 L287.08,257.66 L288.04,258.33 L288.99,258.95 L289.95,259.51 L290.9,260.04 L291.86,260.52 L292.81,260.96 L293.77,261.36 L294.72,261.74 L295.68,262.08 L296.63,262.4 L297.59,262.69 L298.54,262.96 L299.5,263.21 L300.45,263.44 L301.41,263.66 L302.37,263.86 L303.32,264.05 L304.28,264.23 L305.23,264.39 L306.19,264.55 L307.14,264.69 L308.1,264.83 L309.05,264.97 L310.01,265.09 L310.96,265.21 L311.92,265.32 L312.87,265.43 L313.83,265.53 L314.78,265.63 L315.74,265.73 L316.7,265.82 L317.65,265.9 L318.61,265.99 L319.56,266.07 L320.52,266.14 L321.47,266.22 L322.43,266.29 L323.38,266.36 L324.34,266.42 L325.29,266.49 L326.25,266.55 L327.2,266.61 L328.16,266.67 L329.11,266.72 L330.07,266.78 L331.03,266.83 L331.98,266.88 L332.94,266.93 L333.89,266.97 L334.85,267.02 L335.8,267.06 L336.76,267.1 L337.71,267.14 L338.67,267.18 L339.62,267.22 L340.58,267.26 L341.53,267.3 L342.49,267.33 L343.44,267.37 L344.4,267.4" stroke="#f7c840" stroke-width="3.2" fill="none" stroke-linejoin="round"/>
<path d="M201.1,269 L202.06,269 L203.01,269 L203.97,269 L204.92,269 L205.88,269 L206.83,269 L207.79,269 L208.74,269 L209.7,269 L210.65,269 L211.61,269 L212.56,269 L213.52,269 L214.47,269 L215.43,269 L216.39,269 L217.34,269 L218.3,269 L219.25,269 L220.21,269 L221.16,269 L222.12,269 L223.07,269 L224.03,268.99 L224.98,268.99 L225.94,268.98 L226.89,268.97 L227.85,268.96 L228.8,268.94 L229.76,268.9 L230.72,268.85 L231.67,268.77 L232.63,268.66 L233.58,268.51 L234.54,268.29 L235.49,268 L236.45,267.6 L237.4,267.08 L238.36,266.4 L239.31,265.53 L240.27,264.45 L241.22,263.12 L242.18,261.51 L243.13,259.6 L244.09,257.38 L245.05,254.86 L246,252.04 L246.96,248.97 L247.91,245.7 L248.87,242.3 L249.82,238.87 L250.78,235.51 L251.73,232.33 L252.69,229.44 L253.64,226.98 L254.6,225.03 L255.55,223.68 L256.51,222.99 L257.46,222.92 L258.42,223.1 L259.38,223.45 L260.33,223.97 L261.29,224.66 L262.24,225.49 L263.2,226.47 L264.15,227.56 L265.11,228.77 L266.06,230.07 L267.02,231.45 L267.97,232.9 L268.93,234.39 L269.88,235.91 L270.84,237.44 L271.79,238.98 L272.75,240.51 L273.71,242.02 L274.66,243.5 L275.62,244.94 L276.57,246.33 L277.53,247.67 L278.48,248.95 L279.44,250.17 L280.39,251.33 L281.35,252.43 L282.3,253.46 L283.26,254.42 L284.21,255.32 L285.17,256.16 L286.12,256.94 L287.08,257.66 L288.04,258.33 L288.99,258.95 L289.95,259.51 L290.9,260.04 L291.86,260.52 L292.81,260.96 L293.77,261.36 L294.72,261.74 L295.68,262.08 L296.63,262.4 L297.59,262.69 L298.54,262.96 L299.5,263.21 L300.45,263.44 L301.41,263.66 L302.37,263.86 L303.32,264.05 L304.28,264.23 L305.23,264.39 L306.19,264.55 L307.14,264.69 L308.1,264.83 L309.05,264.97 L310.01,265.09 L310.96,265.21 L311.92,265.32 L312.87,265.43 L313.83,265.53 L314.78,265.63 L315.74,265.73 L316.7,265.82 L317.65,265.9 L318.61,265.99 L319.56,266.07 L320.52,266.14 L321.47,266.22 L322.43,266.29 L323.38,266.36 L324.34,266.42 L325.29,266.49 L326.25,266.55 L327.2,266.61 L328.16,266.67 L329.11,266.72 L330.07,266.78 L331.03,266.83 L331.98,266.88 L332.94,266.93 L333.89,266.97 L334.85,267.02 L335.8,267.06 L336.76,267.1 L337.71,267.14 L338.67,267.18 L339.62,267.22 L340.58,267.26 L341.53,267.3 L342.49,267.33 L343.44,267.37 L344.4,267.4" stroke="#fdf0c0" stroke-width="1" fill="none" opacity="0.55"/>
<rect x="201.5" y="153.5" width="143" height="126" fill="none" stroke="#2a2a2a" stroke-width="1" />
<line x1="201.1" y1="279.5" x2="201.1" y2="281.3" stroke="#333" stroke-width="0.6" />
<text x="201.1" y="290.1" font-size="8.3" text-anchor="middle" font-weight="normal" font-style="normal" fill="#222" stroke="#222" stroke-width="0.14" >500</text>
<line x1="224.98" y1="279.5" x2="224.98" y2="281.3" stroke="#333" stroke-width="0.6" />
<text x="224.98" y="290.1" font-size="8.3" text-anchor="middle" font-weight="normal" font-style="normal" fill="#222" stroke="#222" stroke-width="0.14" >550</text>
<line x1="248.87" y1="279.5" x2="248.87" y2="281.3" stroke="#333" stroke-width="0.6" />
<text x="248.87" y="290.1" font-size="8.3" text-anchor="middle" font-weight="normal" font-style="normal" fill="#222" stroke="#222" stroke-width="0.14" >600</text>
<line x1="272.75" y1="279.5" x2="272.75" y2="281.3" stroke="#333" stroke-width="0.6" />
<text x="272.75" y="290.1" font-size="8.3" text-anchor="middle" font-weight="normal" font-style="normal" fill="#222" stroke="#222" stroke-width="0.14" >650</text>
<line x1="296.63" y1="279.5" x2="296.63" y2="281.3" stroke="#333" stroke-width="0.6" />
<text x="296.63" y="290.1" font-size="8.3" text-anchor="middle" font-weight="normal" font-style="normal" fill="#222" stroke="#222" stroke-width="0.14" >700</text>
<line x1="320.52" y1="279.5" x2="320.52" y2="281.3" stroke="#333" stroke-width="0.6" />
<text x="320.52" y="290.1" font-size="8.3" text-anchor="middle" font-weight="normal" font-style="normal" fill="#222" stroke="#222" stroke-width="0.14" >750</text>
<line x1="344.4" y1="279.5" x2="344.4" y2="281.3" stroke="#333" stroke-width="0.6" />
<text x="344.4" y="290.1" font-size="8.3" text-anchor="middle" font-weight="normal" font-style="normal" fill="#222" stroke="#222" stroke-width="0.14" >800</text>
<line x1="213.04" y1="279.5" x2="213.04" y2="280.5" stroke="#333" stroke-width="0.6" />
<line x1="236.92" y1="279.5" x2="236.92" y2="280.5" stroke="#333" stroke-width="0.6" />
<line x1="260.81" y1="279.5" x2="260.81" y2="280.5" stroke="#333" stroke-width="0.6" />
<line x1="284.69" y1="279.5" x2="284.69" y2="280.5" stroke="#333" stroke-width="0.6" />
<line x1="308.57" y1="279.5" x2="308.57" y2="280.5" stroke="#333" stroke-width="0.6" />
<line x1="332.46" y1="279.5" x2="332.46" y2="280.5" stroke="#333" stroke-width="0.6" />
<text x="273.3" y="302.5" font-size="8.4" text-anchor="middle" font-weight="normal" font-style="normal" fill="#222" stroke="#222" stroke-width="0.14" >Wavelength (nm)</text>
<text x="197.2" y="216.5" font-size="8.6" text-anchor="middle" font-weight="normal" font-style="normal" fill="#222" stroke="#222" stroke-width="0.14" transform="rotate(-90 197.2 216.5)" >Normalized Intensity (a.u.)</text>
<text x="179" y="160.7" font-size="14" text-anchor="start" font-weight="bold" font-style="normal" fill="#111" stroke="#111" stroke-width="0.1" >(e)</text>
<text x="204.2" y="162.3" font-size="6.8" text-anchor="start" font-weight="normal" font-style="normal" fill="#222" stroke="#222" stroke-width="0.13" >CaZnOS:0.03Mn<tspan font-size="4.4" dy="-2.4">2+</tspan></text>
<line x1="275.2" y1="159.2" x2="286.4" y2="159.2" stroke="#f47040" stroke-width="1" />
<circle cx="281" cy="159.2" r="2" fill="#fab090" stroke="#f47040" stroke-width="0.9" />
<text x="290.7" y="161.7" font-size="6.8" text-anchor="start" font-weight="normal" font-style="normal" fill="#222" stroke="#222" stroke-width="0.13" >ML: F = 50 N</text>
<line x1="275.2" y1="167.5" x2="286.4" y2="167.5" stroke="#f6c23c" stroke-width="1" />
<circle cx="281" cy="167.5" r="2" fill="#fde49a" stroke="#f6c23c" stroke-width="0.9" />
<text x="290.7" y="170" font-size="6.8" text-anchor="start" font-weight="normal" font-style="normal" fill="#222" stroke="#222" stroke-width="0.13" >PL: λ<tspan font-size="4.4" dy="1.4">ex</tspan><tspan dy="-1.4"> = 285 nm</tspan></text>
<defs><linearGradient id="gf_bg" x1="0" y1="0" x2="0" y2="1"><stop offset="0" stop-color="#fdf7e6"/><stop offset="1" stop-color="#fefcf6"/></linearGradient><linearGradient id="gf_lat" x1="0" y1="0" x2="0" y2="1"><stop offset="0" stop-color="#f5a462"/><stop offset="0.45" stop-color="#f9cba8"/><stop offset="1" stop-color="#fff6ee" stop-opacity="0.7"/></linearGradient><linearGradient id="gf_vac" x1="0" y1="0" x2="0" y2="1"><stop offset="0" stop-color="#80d858"/><stop offset="0.5" stop-color="#c0eaa0"/><stop offset="1" stop-color="#f4fbe8" stop-opacity="0.6"/></linearGradient><linearGradient id="gf_abs" x1="0" y1="0" x2="0" y2="1"><stop offset="0" stop-color="#50c8f0"/><stop offset="1" stop-color="#d0f0fa" stop-opacity="0.5"/></linearGradient><linearGradient id="gf_cao" x1="0" y1="0" x2="0" y2="1"><stop offset="0" stop-color="#b070e8"/><stop offset="1" stop-color="#ecd8fa" stop-opacity="0.5"/></linearGradient><radialGradient id="gf_dot" cx="0.4" cy="0.35" r="0.7"><stop offset="0" stop-color="#fde0e4"/><stop offset="0.5" stop-color="#f46a7a"/><stop offset="1" stop-color="#e0405a"/></radialGradient></defs>
<rect x="381.5" y="152.5" width="154" height="127" fill="url(#gf_bg)" stroke="none" stroke-width="1" />
<path d="M412.56,277.8 L413.28,277.79 L413.99,277.79 L414.71,277.79 L415.42,277.79 L416.14,277.78 L416.85,277.77 L417.56,277.76 L418.28,277.75 L418.99,277.74 L419.71,277.71 L420.43,277.69 L421.14,277.65 L421.86,277.6 L422.57,277.54 L423.29,277.46 L424,277.36 L424.71,277.24 L425.43,277.09 L426.14,276.9 L426.86,276.66 L427.57,276.38 L428.29,276.03 L429.01,275.61 L429.72,275.1 L430.44,274.5 L431.15,273.79 L431.86,272.95 L432.58,271.97 L433.29,270.84 L434.01,269.53 L434.73,268.04 L435.44,266.35 L436.16,264.44 L436.87,262.3 L437.59,259.93 L438.3,257.32 L439.01,254.46 L439.73,251.36 L440.44,248.03 L441.16,244.47 L441.88,240.71 L442.59,236.77 L443.31,232.67 L444.02,228.46 L444.74,224.18 L445.45,219.86 L446.16,215.57 L446.88,211.35 L447.59,207.27 L448.31,203.37 L449.02,199.72 L449.74,196.38 L450.46,193.39 L451.17,190.81 L451.89,188.68 L452.6,187.03 L453.31,185.9 L454.03,185.3 L454.74,185.24 L455.46,185.73 L456.18,186.76 L456.89,188.31 L457.61,190.35 L458.32,192.84 L459.04,195.75 L459.75,199.03 L460.46,202.62 L461.18,206.47 L461.89,210.52 L462.61,214.72 L463.32,219 L464.04,223.32 L464.76,227.61 L465.47,231.84 L466.19,235.96 L466.9,239.93 L467.61,243.73 L468.33,247.33 L469.04,250.71 L469.76,253.86 L470.48,256.76 L471.19,259.43 L471.91,261.84 L472.62,264.03 L473.34,265.98 L474.05,267.72 L474.76,269.25 L475.48,270.59 L476.19,271.76 L476.91,272.77 L477.62,273.63 L478.34,274.37 L479.06,274.99 L479.77,275.51 L480.49,275.95 L481.2,276.31 L481.91,276.61 L482.63,276.86 L483.34,277.05 L484.06,277.21 L484.77,277.34 L485.49,277.44 L486.21,277.53 L486.92,277.59 L487.64,277.64 L488.35,277.68 L489.06,277.71 L489.78,277.73 L490.49,277.75 L491.21,277.76 L491.92,277.77 L492.64,277.78 L493.36,277.79 L494.07,277.79 L494.79,277.79 L495.5,277.79 L496.21,277.8 L496.21,277.8 L412.56,277.8 Z" stroke="none" stroke-width="1" fill="url(#gf_lat)" />
<path d="M412.56,277.8 L413.28,277.79 L413.99,277.79 L414.71,277.79 L415.42,277.79 L416.14,277.78 L416.85,277.77 L417.56,277.76 L418.28,277.75 L418.99,277.74 L419.71,277.71 L420.43,277.69 L421.14,277.65 L421.86,277.6 L422.57,277.54 L423.29,277.46 L424,277.36 L424.71,277.24 L425.43,277.09 L426.14,276.9 L426.86,276.66 L427.57,276.38 L428.29,276.03 L429.01,275.61 L429.72,275.1 L430.44,274.5 L431.15,273.79 L431.86,272.95 L432.58,271.97 L433.29,270.84 L434.01,269.53 L434.73,268.04 L435.44,266.35 L436.16,264.44 L436.87,262.3 L437.59,259.93 L438.3,257.32 L439.01,254.46 L439.73,251.36 L440.44,248.03 L441.16,244.47 L441.88,240.71 L442.59,236.77 L443.31,232.67 L444.02,228.46 L444.74,224.18 L445.45,219.86 L446.16,215.57 L446.88,211.35 L447.59,207.27 L448.31,203.37 L449.02,199.72 L449.74,196.38 L450.46,193.39 L451.17,190.81 L451.89,188.68 L452.6,187.03 L453.31,185.9 L454.03,185.3 L454.74,185.24 L455.46,185.73 L456.18,186.76 L456.89,188.31 L457.61,190.35 L458.32,192.84 L459.04,195.75 L459.75,199.03 L460.46,202.62 L461.18,206.47 L461.89,210.52 L462.61,214.72 L463.32,219 L464.04,223.32 L464.76,227.61 L465.47,231.84 L466.19,235.96 L466.9,239.93 L467.61,243.73 L468.33,247.33 L469.04,250.71 L469.76,253.86 L470.48,256.76 L471.19,259.43 L471.91,261.84 L472.62,264.03 L473.34,265.98 L474.05,267.72 L474.76,269.25 L475.48,270.59 L476.19,271.76 L476.91,272.77 L477.62,273.63 L478.34,274.37 L479.06,274.99 L479.77,275.51 L480.49,275.95 L481.2,276.31 L481.91,276.61 L482.63,276.86 L483.34,277.05 L484.06,277.21 L484.77,277.34 L485.49,277.44 L486.21,277.53 L486.92,277.59 L487.64,277.64 L488.35,277.68 L489.06,277.71 L489.78,277.73 L490.49,277.75 L491.21,277.76 L491.92,277.77 L492.64,277.78 L493.36,277.79 L494.07,277.79 L494.79,277.79 L495.5,277.79 L496.21,277.8" stroke="#f0b888" stroke-width="0.4" fill="none" />
<path d="M406.84,277.8 L407.56,277.8 L408.27,277.8 L408.99,277.8 L409.7,277.79 L410.41,277.79 L411.13,277.79 L411.84,277.78 L412.56,277.77 L413.28,277.76 L413.99,277.74 L414.71,277.72 L415.42,277.69 L416.14,277.66 L416.85,277.61 L417.56,277.54 L418.28,277.46 L418.99,277.36 L419.71,277.23 L420.43,277.07 L421.14,276.87 L421.86,276.62 L422.57,276.32 L423.29,275.97 L424,275.54 L424.71,275.03 L425.43,274.44 L426.14,273.76 L426.86,272.98 L427.57,272.1 L428.29,271.11 L429.01,270.01 L429.72,268.8 L430.44,267.5 L431.15,266.1 L431.86,264.62 L432.58,263.07 L433.29,261.48 L434.01,259.86 L434.73,258.24 L435.44,256.65 L436.16,255.12 L436.87,253.68 L437.59,252.36 L438.3,251.18 L439.01,250.18 L439.73,249.37 L440.44,248.78 L441.16,248.42 L441.88,248.3 L442.59,248.42 L443.31,248.78 L444.02,249.37 L444.74,250.18 L445.45,251.18 L446.16,252.36 L446.88,253.68 L447.59,255.12 L448.31,256.65 L449.02,258.24 L449.74,259.86 L450.46,261.48 L451.17,263.07 L451.89,264.62 L452.6,266.1 L453.31,267.5 L454.03,268.8 L454.74,270.01 L455.46,271.11 L456.18,272.1 L456.89,272.98 L457.61,273.76 L458.32,274.44 L459.04,275.03 L459.75,275.54 L460.46,275.97 L461.18,276.32 L461.89,276.62 L462.61,276.87 L463.32,277.07 L464.04,277.23 L464.76,277.36 L465.47,277.46 L466.19,277.54 L466.9,277.61 L467.61,277.66 L468.33,277.69 L469.04,277.72 L469.76,277.74 L470.48,277.76 L471.19,277.77 L471.91,277.78 L472.62,277.79 L473.34,277.79 L474.05,277.79 L474.76,277.8 L475.48,277.8 L476.19,277.8 L476.91,277.8 L476.91,277.8 L406.84,277.8 Z" stroke="none" stroke-width="1" fill="url(#gf_vac)" />
<path d="M406.84,277.8 L407.56,277.8 L408.27,277.8 L408.99,277.8 L409.7,277.79 L410.41,277.79 L411.13,277.79 L411.84,277.78 L412.56,277.77 L413.28,277.76 L413.99,277.74 L414.71,277.72 L415.42,277.69 L416.14,277.66 L416.85,277.61 L417.56,277.54 L418.28,277.46 L418.99,277.36 L419.71,277.23 L420.43,277.07 L421.14,276.87 L421.86,276.62 L422.57,276.32 L423.29,275.97 L424,275.54 L424.71,275.03 L425.43,274.44 L426.14,273.76 L426.86,272.98 L427.57,272.1 L428.29,271.11 L429.01,270.01 L429.72,268.8 L430.44,267.5 L431.15,266.1 L431.86,264.62 L432.58,263.07 L433.29,261.48 L434.01,259.86 L434.73,258.24 L435.44,256.65 L436.16,255.12 L436.87,253.68 L437.59,252.36 L438.3,251.18 L439.01,250.18 L439.73,249.37 L440.44,248.78 L441.16,248.42 L441.88,248.3 L442.59,248.42 L443.31,248.78 L444.02,249.37 L444.74,250.18 L445.45,251.18 L446.16,252.36 L446.88,253.68 L447.59,255.12 L448.31,256.65 L449.02,258.24 L449.74,259.86 L450.46,261.48 L451.17,263.07 L451.89,264.62 L452.6,266.1 L453.31,267.5 L454.03,268.8 L454.74,270.01 L455.46,271.11 L456.18,272.1 L456.89,272.98 L457.61,273.76 L458.32,274.44 L459.04,275.03 L459.75,275.54 L460.46,275.97 L461.18,276.32 L461.89,276.62 L462.61,276.87 L463.32,277.07 L464.04,277.23 L464.76,277.36 L465.47,277.46 L466.19,277.54 L466.9,277.61 L467.61,277.66 L468.33,277.69 L469.04,277.72 L469.76,277.74 L470.48,277.76 L471.19,277.77 L471.91,277.78 L472.62,277.79 L473.34,277.79 L474.05,277.79 L474.76,277.8 L475.48,277.8 L476.19,277.8 L476.91,277.8" stroke="#a8d878" stroke-width="0.4" fill="none" />
<path d="M381.1,277.8 L381.81,277.8 L382.53,277.8 L383.24,277.8 L383.96,277.8 L384.68,277.8 L385.39,277.79 L386.11,277.79 L386.82,277.79 L387.54,277.79 L388.25,277.78 L388.96,277.78 L389.68,277.77 L390.39,277.77 L391.11,277.76 L391.83,277.75 L392.54,277.74 L393.26,277.72 L393.97,277.71 L394.69,277.68 L395.4,277.66 L396.11,277.63 L396.83,277.59 L397.54,277.55 L398.26,277.51 L398.98,277.45 L399.69,277.39 L400.41,277.32 L401.12,277.24 L401.84,277.15 L402.55,277.06 L403.26,276.95 L403.98,276.83 L404.69,276.7 L405.41,276.56 L406.12,276.41 L406.84,276.25 L407.56,276.09 L408.27,275.91 L408.99,275.73 L409.7,275.55 L410.41,275.36 L411.13,275.17 L411.84,274.98 L412.56,274.8 L413.28,274.62 L413.99,274.44 L414.71,274.28 L415.42,274.13 L416.14,274 L416.85,273.88 L417.56,273.78 L418.28,273.7 L418.99,273.65 L419.71,273.61 L420.43,273.6 L421.14,273.61 L421.86,273.65 L422.57,273.7 L423.29,273.78 L424,273.88 L424.71,274 L425.43,274.13 L426.14,274.28 L426.86,274.44 L427.57,274.62 L428.29,274.8 L429.01,274.98 L429.72,275.17 L430.44,275.36 L431.15,275.55 L431.86,275.73 L432.58,275.91 L433.29,276.09 L434.01,276.25 L434.73,276.41 L435.44,276.56 L436.16,276.7 L436.87,276.83 L437.59,276.95 L438.3,277.06 L439.01,277.15 L439.73,277.24 L440.44,277.32 L441.16,277.39 L441.88,277.45 L442.59,277.51 L443.31,277.55 L444.02,277.59 L444.74,277.63 L445.45,277.66 L446.16,277.68 L446.88,277.71 L447.59,277.72 L448.31,277.74 L449.02,277.75 L449.74,277.76 L450.46,277.77 L451.17,277.77 L451.89,277.78 L452.6,277.78 L453.31,277.79 L454.03,277.79 L454.74,277.79 L455.46,277.79 L456.18,277.8 L456.89,277.8 L457.61,277.8 L458.32,277.8 L459.04,277.8 L459.75,277.8 L460.46,277.8 L461.18,277.8 L461.89,277.8 L462.61,277.8 L463.32,277.8 L463.32,277.8 L381.1,277.8 Z" stroke="none" stroke-width="1" fill="url(#gf_abs)" />
<path d="M381.1,277.8 L381.81,277.8 L382.53,277.8 L383.24,277.8 L383.96,277.8 L384.68,277.8 L385.39,277.79 L386.11,277.79 L386.82,277.79 L387.54,277.79 L388.25,277.78 L388.96,277.78 L389.68,277.77 L390.39,277.77 L391.11,277.76 L391.83,277.75 L392.54,277.74 L393.26,277.72 L393.97,277.71 L394.69,277.68 L395.4,277.66 L396.11,277.63 L396.83,277.59 L397.54,277.55 L398.26,277.51 L398.98,277.45 L399.69,277.39 L400.41,277.32 L401.12,277.24 L401.84,277.15 L402.55,277.06 L403.26,276.95 L403.98,276.83 L404.69,276.7 L405.41,276.56 L406.12,276.41 L406.84,276.25 L407.56,276.09 L408.27,275.91 L408.99,275.73 L409.7,275.55 L410.41,275.36 L411.13,275.17 L411.84,274.98 L412.56,274.8 L413.28,274.62 L413.99,274.44 L414.71,274.28 L415.42,274.13 L416.14,274 L416.85,273.88 L417.56,273.78 L418.28,273.7 L418.99,273.65 L419.71,273.61 L420.43,273.6 L421.14,273.61 L421.86,273.65 L422.57,273.7 L423.29,273.78 L424,273.88 L424.71,274 L425.43,274.13 L426.14,274.28 L426.86,274.44 L427.57,274.62 L428.29,274.8 L429.01,274.98 L429.72,275.17 L430.44,275.36 L431.15,275.55 L431.86,275.73 L432.58,275.91 L433.29,276.09 L434.01,276.25 L434.73,276.41 L435.44,276.56 L436.16,276.7 L436.87,276.83 L437.59,276.95 L438.3,277.06 L439.01,277.15 L439.73,277.24 L440.44,277.32 L441.16,277.39 L441.88,277.45 L442.59,277.51 L443.31,277.55 L444.02,277.59 L444.74,277.63 L445.45,277.66 L446.16,277.68 L446.88,277.71 L447.59,277.72 L448.31,277.74 L449.02,277.75 L449.74,277.76 L450.46,277.77 L451.17,277.77 L451.89,277.78 L452.6,277.78 L453.31,277.79 L454.03,277.79 L454.74,277.79 L455.46,277.79 L456.18,277.8 L456.89,277.8 L457.61,277.8 L458.32,277.8 L459.04,277.8 L459.75,277.8 L460.46,277.8 L461.18,277.8 L461.89,277.8 L462.61,277.8 L463.32,277.8" stroke="#40c0e8" stroke-width="0.4" fill="none" />
<path d="M449.02,277.8 L449.74,277.8 L450.46,277.8 L451.17,277.8 L451.89,277.8 L452.6,277.8 L453.31,277.8 L454.03,277.8 L454.74,277.79 L455.46,277.79 L456.18,277.79 L456.89,277.78 L457.61,277.78 L458.32,277.77 L459.04,277.76 L459.75,277.74 L460.46,277.72 L461.18,277.69 L461.89,277.66 L462.61,277.62 L463.32,277.57 L464.04,277.5 L464.76,277.43 L465.47,277.33 L466.19,277.22 L466.9,277.09 L467.61,276.93 L468.33,276.75 L469.04,276.54 L469.76,276.3 L470.48,276.04 L471.19,275.75 L471.91,275.43 L472.62,275.08 L473.34,274.71 L474.05,274.32 L474.76,273.92 L475.48,273.51 L476.19,273.1 L476.91,272.7 L477.62,272.31 L478.34,271.94 L479.06,271.6 L479.77,271.3 L480.49,271.05 L481.2,270.85 L481.91,270.7 L482.63,270.62 L483.34,270.6 L484.06,270.65 L484.77,270.75 L485.49,270.92 L486.21,271.14 L486.92,271.42 L487.64,271.73 L488.35,272.08 L489.06,272.46 L489.78,272.86 L490.49,273.27 L491.21,273.68 L491.92,274.08 L492.64,274.48 L493.36,274.86 L494.07,275.22 L494.79,275.56 L495.5,275.87 L496.21,276.15 L496.93,276.4 L497.64,276.63 L498.36,276.82 L499.07,276.99 L499.79,277.14 L500.51,277.27 L501.22,277.37 L501.94,277.46 L502.65,277.53 L503.36,277.59 L504.08,277.64 L504.79,277.67 L505.51,277.7 L506.22,277.73 L506.94,277.75 L507.66,277.76 L508.37,277.77 L509.09,277.78 L509.8,277.78 L510.51,277.79 L511.23,277.79 L511.94,277.79 L512.66,277.8 L513.38,277.8 L514.09,277.8 L514.81,277.8 L515.52,277.8 L516.24,277.8 L516.95,277.8 L516.95,277.8 L449.02,277.8 Z" stroke="none" stroke-width="1" fill="url(#gf_cao)" />
<path d="M449.02,277.8 L449.74,277.8 L450.46,277.8 L451.17,277.8 L451.89,277.8 L452.6,277.8 L453.31,277.8 L454.03,277.8 L454.74,277.79 L455.46,277.79 L456.18,277.79 L456.89,277.78 L457.61,277.78 L458.32,277.77 L459.04,277.76 L459.75,277.74 L460.46,277.72 L461.18,277.69 L461.89,277.66 L462.61,277.62 L463.32,277.57 L464.04,277.5 L464.76,277.43 L465.47,277.33 L466.19,277.22 L466.9,277.09 L467.61,276.93 L468.33,276.75 L469.04,276.54 L469.76,276.3 L470.48,276.04 L471.19,275.75 L471.91,275.43 L472.62,275.08 L473.34,274.71 L474.05,274.32 L474.76,273.92 L475.48,273.51 L476.19,273.1 L476.91,272.7 L477.62,272.31 L478.34,271.94 L479.06,271.6 L479.77,271.3 L480.49,271.05 L481.2,270.85 L481.91,270.7 L482.63,270.62 L483.34,270.6 L484.06,270.65 L484.77,270.75 L485.49,270.92 L486.21,271.14 L486.92,271.42 L487.64,271.73 L488.35,272.08 L489.06,272.46 L489.78,272.86 L490.49,273.27 L491.21,273.68 L491.92,274.08 L492.64,274.48 L493.36,274.86 L494.07,275.22 L494.79,275.56 L495.5,275.87 L496.21,276.15 L496.93,276.4 L497.64,276.63 L498.36,276.82 L499.07,276.99 L499.79,277.14 L500.51,277.27 L501.22,277.37 L501.94,277.46 L502.65,277.53 L503.36,277.59 L504.08,277.64 L504.79,277.67 L505.51,277.7 L506.22,277.73 L506.94,277.75 L507.66,277.76 L508.37,277.77 L509.09,277.78 L509.8,277.78 L510.51,277.79 L511.23,277.79 L511.94,277.79 L512.66,277.8 L513.38,277.8 L514.09,277.8 L514.81,277.8 L515.52,277.8 L516.24,277.8 L516.95,277.8" stroke="#b080e0" stroke-width="0.4" fill="none" />
<path d="M381.3,277.8 C382.08,277.78 384.38,277.75 386,277.7 C387.62,277.65 389.33,277.58 391,277.5 C392.67,277.42 394.33,277.35 396,277.2 C397.67,277.05 399.33,276.87 401,276.6 C402.67,276.33 404.42,275.95 406,275.6 C407.58,275.25 408.78,275.03 410.5,274.5 C412.22,273.97 414.77,273.05 416.3,272.4 C417.83,271.75 418.53,271.58 419.7,270.6 C420.87,269.62 422.02,268.05 423.3,266.5 C424.58,264.95 426.02,263.63 427.4,261.3 C428.78,258.97 430.38,255.6 431.6,252.5 C432.82,249.4 433.67,246.28 434.7,242.7 C435.73,239.12 436.77,235.1 437.8,231 C438.83,226.9 439.92,222.63 440.9,218.1 C441.88,213.57 442.8,208.47 443.7,203.8 C444.6,199.13 445.47,194.32 446.3,190.1 C447.13,185.88 447.75,181.38 448.7,178.5 C449.65,175.62 450.85,173.63 452,172.8 C453.15,171.97 454.57,171.95 455.6,173.5 C456.63,175.05 457.33,178.25 458.2,182.1 C459.07,185.95 459.93,191.33 460.8,196.6 C461.67,201.87 462.53,207.83 463.4,213.7 C464.27,219.57 465.13,226.32 466,231.8 C466.87,237.28 467.7,242.42 468.6,246.6 C469.5,250.78 470.32,254.02 471.4,256.9 C472.48,259.78 473.8,262.05 475.1,263.9 C476.4,265.75 477.87,267 479.2,268 C480.53,269 481.72,269.38 483.1,269.9 C484.48,270.42 486.08,270.55 487.5,271.1 C488.92,271.65 490.18,272.55 491.6,273.2 C493.02,273.85 494.43,274.48 496,275 C497.57,275.52 499.33,275.97 501,276.3 C502.67,276.63 504.33,276.82 506,277 C507.67,277.18 509.33,277.3 511,277.4 C512.67,277.5 514.33,277.55 516,277.6 C517.67,277.65 519.33,277.67 521,277.7 C522.67,277.73 524.33,277.78 526,277.8 C527.67,277.82 529.42,277.8 531,277.8 C532.58,277.8 534.75,277.8 535.5,277.8" stroke="#555" stroke-width="0.8" fill="none" />
<path d="M381.3,277.8 C382.08,277.78 384.38,277.75 386,277.7 C387.62,277.65 389.33,277.58 391,277.5 C392.67,277.42 394.33,277.35 396,277.2 C397.67,277.05 399.33,276.87 401,276.6 C402.67,276.33 404.42,275.95 406,275.6 C407.58,275.25 408.78,275.03 410.5,274.5 C412.22,273.97 414.77,273.05 416.3,272.4 C417.83,271.75 418.53,271.58 419.7,270.6 C420.87,269.62 422.02,268.05 423.3,266.5 C424.58,264.95 426.02,263.63 427.4,261.3 C428.78,258.97 430.38,255.6 431.6,252.5 C432.82,249.4 433.67,246.28 434.7,242.7 C435.73,239.12 436.77,235.1 437.8,231 C438.83,226.9 439.92,222.63 440.9,218.1 C441.88,213.57 442.8,208.47 443.7,203.8 C444.6,199.13 445.47,194.32 446.3,190.1 C447.13,185.88 447.75,181.38 448.7,178.5 C449.65,175.62 450.85,173.63 452,172.8 C453.15,171.97 454.57,171.95 455.6,173.5 C456.63,175.05 457.33,178.25 458.2,182.1 C459.07,185.95 459.93,191.33 460.8,196.6 C461.67,201.87 462.53,207.83 463.4,213.7 C464.27,219.57 465.13,226.32 466,231.8 C466.87,237.28 467.7,242.42 468.6,246.6 C469.5,250.78 470.32,254.02 471.4,256.9 C472.48,259.78 473.8,262.05 475.1,263.9 C476.4,265.75 477.87,267 479.2,268 C480.53,269 481.72,269.38 483.1,269.9 C484.48,270.42 486.08,270.55 487.5,271.1 C488.92,271.65 490.18,272.55 491.6,273.2 C493.02,273.85 494.43,274.48 496,275 C497.57,275.52 499.33,275.97 501,276.3 C502.67,276.63 504.33,276.82 506,277 C507.67,277.18 509.33,277.3 511,277.4 C512.67,277.5 514.33,277.55 516,277.6 C517.67,277.65 519.33,277.67 521,277.7 C522.67,277.73 524.33,277.78 526,277.8 C527.67,277.82 529.42,277.8 531,277.8 C532.58,277.8 534.75,277.8 535.5,277.8" stroke="#e05060" stroke-width="0.5" fill="none" stroke-dasharray="1,1"/>
<circle cx="381.3" cy="277.8" r="1.9" fill="url(#gf_dot)" stroke="#e04a5a" stroke-width="0.4" />
<circle cx="386" cy="277.7" r="1.9" fill="url(#gf_dot)" stroke="#e04a5a" stroke-width="0.4" />
<circle cx="391" cy="277.5" r="1.9" fill="url(#gf_dot)" stroke="#e04a5a" stroke-width="0.4" />
<circle cx="396" cy="277.2" r="1.9" fill="url(#gf_dot)" stroke="#e04a5a" stroke-width="0.4" />
<circle cx="401" cy="276.6" r="1.9" fill="url(#gf_dot)" stroke="#e04a5a" stroke-width="0.4" />
<circle cx="406" cy="275.6" r="1.9" fill="url(#gf_dot)" stroke="#e04a5a" stroke-width="0.4" />
<circle cx="410.5" cy="274.5" r="1.9" fill="url(#gf_dot)" stroke="#e04a5a" stroke-width="0.4" />
<circle cx="416.3" cy="272.4" r="1.9" fill="url(#gf_dot)" stroke="#e04a5a" stroke-width="0.4" />
<circle cx="419.7" cy="270.6" r="1.9" fill="url(#gf_dot)" stroke="#e04a5a" stroke-width="0.4" />
<circle cx="423.3" cy="266.5" r="1.9" fill="url(#gf_dot)" stroke="#e04a5a" stroke-width="0.4" />
<circle cx="427.4" cy="261.3" r="1.9" fill="url(#gf_dot)" stroke="#e04a5a" stroke-width="0.4" />
<circle cx="431.6" cy="252.5" r="1.9" fill="url(#gf_dot)" stroke="#e04a5a" stroke-width="0.4" />
<circle cx="434.7" cy="242.7" r="1.9" fill="url(#gf_dot)" stroke="#e04a5a" stroke-width="0.4" />
<circle cx="437.8" cy="231" r="1.9" fill="url(#gf_dot)" stroke="#e04a5a" stroke-width="0.4" />
<circle cx="440.9" cy="218.1" r="1.9" fill="url(#gf_dot)" stroke="#e04a5a" stroke-width="0.4" />
<circle cx="443.7" cy="203.8" r="1.9" fill="url(#gf_dot)" stroke="#e04a5a" stroke-width="0.4" />
<circle cx="446.3" cy="190.1" r="1.9" fill="url(#gf_dot)" stroke="#e04a5a" stroke-width="0.4" />
<circle cx="448.7" cy="178.5" r="1.9" fill="url(#gf_dot)" stroke="#e04a5a" stroke-width="0.4" />
<circle cx="452" cy="172.8" r="1.9" fill="url(#gf_dot)" stroke="#e04a5a" stroke-width="0.4" />
<circle cx="455.6" cy="173.5" r="1.9" fill="url(#gf_dot)" stroke="#e04a5a" stroke-width="0.4" />
<circle cx="458.2" cy="182.1" r="1.9" fill="url(#gf_dot)" stroke="#e04a5a" stroke-width="0.4" />
<circle cx="460.8" cy="196.6" r="1.9" fill="url(#gf_dot)" stroke="#e04a5a" stroke-width="0.4" />
<circle cx="463.4" cy="213.7" r="1.9" fill="url(#gf_dot)" stroke="#e04a5a" stroke-width="0.4" />
<circle cx="466" cy="231.8" r="1.9" fill="url(#gf_dot)" stroke="#e04a5a" stroke-width="0.4" />
<circle cx="468.6" cy="246.6" r="1.9" fill="url(#gf_dot)" stroke="#e04a5a" stroke-width="0.4" />
<circle cx="471.4" cy="256.9" r="1.9" fill="url(#gf_dot)" stroke="#e04a5a" stroke-width="0.4" />
<circle cx="475.1" cy="263.9" r="1.9" fill="url(#gf_dot)" stroke="#e04a5a" stroke-width="0.4" />
<circle cx="479.2" cy="268" r="1.9" fill="url(#gf_dot)" stroke="#e04a5a" stroke-width="0.4" />
<circle cx="483.1" cy="269.9" r="1.9" fill="url(#gf_dot)" stroke="#e04a5a" stroke-width="0.4" />
<circle cx="487.5" cy="271.1" r="1.9" fill="url(#gf_dot)" stroke="#e04a5a" stroke-width="0.4" />
<circle cx="491.6" cy="273.2" r="1.9" fill="url(#gf_dot)" stroke="#e04a5a" stroke-width="0.4" />
<circle cx="496" cy="275" r="1.9" fill="url(#gf_dot)" stroke="#e04a5a" stroke-width="0.4" />
<circle cx="501" cy="276.3" r="1.9" fill="url(#gf_dot)" stroke="#e04a5a" stroke-width="0.4" />
<circle cx="506" cy="277" r="1.9" fill="url(#gf_dot)" stroke="#e04a5a" stroke-width="0.4" />
<circle cx="511" cy="277.4" r="1.9" fill="url(#gf_dot)" stroke="#e04a5a" stroke-width="0.4" />
<circle cx="516" cy="277.6" r="1.9" fill="url(#gf_dot)" stroke="#e04a5a" stroke-width="0.4" />
<circle cx="521" cy="277.7" r="1.9" fill="url(#gf_dot)" stroke="#e04a5a" stroke-width="0.4" />
<circle cx="526" cy="277.8" r="1.9" fill="url(#gf_dot)" stroke="#e04a5a" stroke-width="0.4" />
<circle cx="531" cy="277.8" r="1.9" fill="url(#gf_dot)" stroke="#e04a5a" stroke-width="0.4" />
<circle cx="535.5" cy="277.8" r="1.9" fill="url(#gf_dot)" stroke="#e04a5a" stroke-width="0.4" />
<rect x="381.5" y="152.5" width="154" height="127" fill="none" stroke="#2a2a2a" stroke-width="1" />
<line x1="381.1" y1="279.5" x2="381.1" y2="281.3" stroke="#333" stroke-width="0.6" />
<text x="381.1" y="290.1" font-size="8.3" text-anchor="middle" font-weight="normal" font-style="normal" fill="#222" stroke="#222" stroke-width="0.14" >536</text>
<line x1="409.7" y1="279.5" x2="409.7" y2="281.3" stroke="#333" stroke-width="0.6" />
<text x="409.7" y="290.1" font-size="8.3" text-anchor="middle" font-weight="normal" font-style="normal" fill="#222" stroke="#222" stroke-width="0.14" >534</text>
<line x1="438.3" y1="279.5" x2="438.3" y2="281.3" stroke="#333" stroke-width="0.6" />
<text x="438.3" y="290.1" font-size="8.3" text-anchor="middle" font-weight="normal" font-style="normal" fill="#222" stroke="#222" stroke-width="0.14" >532</text>
<line x1="466.9" y1="279.5" x2="466.9" y2="281.3" stroke="#333" stroke-width="0.6" />
<text x="466.9" y="290.1" font-size="8.3" text-anchor="middle" font-weight="normal" font-style="normal" fill="#222" stroke="#222" stroke-width="0.14" >530</text>
<line x1="495.5" y1="279.5" x2="495.5" y2="281.3" stroke="#333" stroke-width="0.6" />
<text x="495.5" y="290.1" font-size="8.3" text-anchor="middle" font-weight="normal" font-style="normal" fill="#222" stroke="#222" stroke-width="0.14" >528</text>
<line x1="524.1" y1="279.5" x2="524.1" y2="281.3" stroke="#333" stroke-width="0.6" />
<text x="524.1" y="290.1" font-size="8.3" text-anchor="middle" font-weight="normal" font-style="normal" fill="#222" stroke="#222" stroke-width="0.14" >526</text>
<line x1="395.4" y1="279.5" x2="395.4" y2="280.5" stroke="#333" stroke-width="0.6" />
<line x1="424" y1="279.5" x2="424" y2="280.5" stroke="#333" stroke-width="0.6" />
<line x1="452.6" y1="279.5" x2="452.6" y2="280.5" stroke="#333" stroke-width="0.6" />
<line x1="481.2" y1="279.5" x2="481.2" y2="280.5" stroke="#333" stroke-width="0.6" />
<line x1="509.8" y1="279.5" x2="509.8" y2="280.5" stroke="#333" stroke-width="0.6" />
<text x="458.6" y="304.5" font-size="8" text-anchor="middle" font-weight="normal" font-style="normal" fill="#222" stroke="#222" stroke-width="0.14" >Binding Energy (eV)</text>
<text x="375.5" y="216" font-size="7.8" text-anchor="middle" font-weight="normal" font-style="normal" fill="#222" stroke="#222" stroke-width="0.14" transform="rotate(-90 375.5 216)" >XPS Intensity (a.u.)</text>
<text x="360.8" y="160.5" font-size="14" text-anchor="start" font-weight="bold" font-style="normal" fill="#111" stroke="#111" stroke-width="0.1" >(f)</text>
<line x1="385.9" y1="159.2" x2="397.1" y2="159.2" stroke="#555" stroke-width="0.9" />
<text x="400" y="161.8" font-size="6.8" text-anchor="start" font-weight="normal" font-style="normal" fill="#222" stroke="#222" stroke-width="0.13" >Experiment</text>
<line x1="385.9" y1="167.1" x2="397.1" y2="167.1" stroke="#e05060" stroke-width="0.6" stroke-dasharray="1,1"/>
<circle cx="391.5" cy="167.1" r="1.7" fill="url(#gf_dot)" stroke="#e04a5a" stroke-width="0.4" />
<text x="400" y="169.7" font-size="6.8" text-anchor="start" font-weight="normal" font-style="normal" fill="#222" stroke="#222" stroke-width="0.13" >Fit</text>
<rect x="386" y="172" width="10.8" height="6.5" fill="url(#gf_lat)" stroke="#f5b080" stroke-width="0.7" opacity="0.85"/>
<text x="398.8" y="177.3" font-size="5.6" text-anchor="start" font-weight="normal" font-style="normal" fill="#222" stroke="#222" stroke-width="0.09" >O</text>
<text x="405.6" y="179.7" font-size="4.8" text-anchor="start" font-weight="normal" font-style="normal" fill="#222" stroke="#222" stroke-width="0.06" >Lattice</text>
<rect x="386" y="181.7" width="10.8" height="6.5" fill="url(#gf_vac)" stroke="#98e070" stroke-width="0.7" opacity="0.85"/>
<text x="398.8" y="186.8" font-size="5.6" text-anchor="start" font-weight="normal" font-style="normal" fill="#222" stroke="#222" stroke-width="0.09" >O</text>
<text x="405.6" y="189.2" font-size="4.8" text-anchor="start" font-weight="normal" font-style="normal" fill="#222" stroke="#222" stroke-width="0.06" >Vacancy</text>
<rect x="386" y="191.2" width="10.8" height="6.5" fill="url(#gf_abs)" stroke="#30c0e0" stroke-width="0.7" opacity="0.85"/>
<text x="398.8" y="196.3" font-size="5.6" text-anchor="start" font-weight="normal" font-style="normal" fill="#222" stroke="#222" stroke-width="0.09" >O</text>
<text x="405.6" y="198.7" font-size="4.8" text-anchor="start" font-weight="normal" font-style="normal" fill="#222" stroke="#222" stroke-width="0.06" >Absorption</text>
<rect x="386" y="200.5" width="10.8" height="6.5" fill="url(#gf_cao)" stroke="#b070e8" stroke-width="0.7" opacity="0.85"/>
<text x="398.8" y="205.6" font-size="5.6" text-anchor="start" font-weight="normal" font-style="normal" fill="#222" stroke="#222" stroke-width="0.09" >O</text>
<text x="405.6" y="208" font-size="4.8" text-anchor="start" font-weight="normal" font-style="normal" fill="#222" stroke="#222" stroke-width="0.06" >CaO</text>
<text x="529.5" y="163.9" font-size="6.9" text-anchor="end" font-weight="normal" font-style="normal" fill="#222" stroke="#222" stroke-width="0.14" >O 1s</text>
<text x="529.5" y="174.5" font-size="6.9" text-anchor="end" font-weight="normal" font-style="normal" fill="#222" stroke="#222" stroke-width="0.14" ><tspan font-style="italic">x</tspan> = 0.03</text>
<defs><linearGradient id="gg_bg" x1="0" y1="0" x2="0" y2="1"><stop offset="0" stop-color="#fcece6"/><stop offset="0.5" stop-color="#fdf5f2"/><stop offset="1" stop-color="#fefbfa"/></linearGradient><linearGradient id="gg_ins" x1="0" y1="0" x2="0" y2="1"><stop offset="0" stop-color="#fdf3ea"/><stop offset="1" stop-color="#fdf6f0"/></linearGradient><linearGradient id="gg_c1" x1="0" y1="0" x2="0" y2="1"><stop offset="0" stop-color="#f0b070" stop-opacity="0.8"/><stop offset="1" stop-color="#fbe8d8" stop-opacity="0.3"/></linearGradient><linearGradient id="gg_c2" x1="0" y1="0" x2="0" y2="1"><stop offset="0" stop-color="#f06070" stop-opacity="0.85"/><stop offset="1" stop-color="#fbd8dc" stop-opacity="0.3"/></linearGradient></defs>
<rect x="22.5" y="311.5" width="143" height="122.5" fill="url(#gg_bg)" stroke="none" stroke-width="1" />
<circle cx="22.6" cy="427.77" r="1.75" fill="#fdeeb0" stroke="#f8d050" stroke-width="0.9" />
<circle cx="23.26" cy="427.4" r="1.75" fill="#fdeeb0" stroke="#f8d050" stroke-width="0.9" />
<circle cx="23.92" cy="427.02" r="1.75" fill="#fdeeb0" stroke="#f8d050" stroke-width="0.9" />
<circle cx="24.58" cy="426.64" r="1.75" fill="#fdeeb0" stroke="#f8d050" stroke-width="0.9" />
<circle cx="25.24" cy="426.26" r="1.75" fill="#fdeeb0" stroke="#f8d050" stroke-width="0.9" />
<circle cx="25.9" cy="425.86" r="1.75" fill="#fdeeb0" stroke="#f8d050" stroke-width="0.9" />
<circle cx="26.56" cy="425.45" r="1.75" fill="#fdeeb0" stroke="#f8d050" stroke-width="0.9" />
<circle cx="27.22" cy="425.03" r="1.75" fill="#fdeeb0" stroke="#f8d050" stroke-width="0.9" />
<circle cx="27.88" cy="424.6" r="1.75" fill="#fdeeb0" stroke="#f8d050" stroke-width="0.9" />
<circle cx="28.54" cy="424.16" r="1.75" fill="#fdeeb0" stroke="#f8d050" stroke-width="0.9" />
<circle cx="29.2" cy="423.72" r="1.75" fill="#fdeeb0" stroke="#f8d050" stroke-width="0.9" />
<circle cx="29.86" cy="423.29" r="1.75" fill="#fdeeb0" stroke="#f8d050" stroke-width="0.9" />
<circle cx="30.52" cy="422.86" r="1.75" fill="#fdeeb0" stroke="#f8d050" stroke-width="0.9" />
<circle cx="31.18" cy="422.42" r="1.75" fill="#fdeeb0" stroke="#f8d050" stroke-width="0.9" />
<circle cx="31.84" cy="421.98" r="1.75" fill="#fdeeb0" stroke="#f8d050" stroke-width="0.9" />
<circle cx="32.5" cy="421.55" r="1.75" fill="#fdeeb0" stroke="#f8d050" stroke-width="0.9" />
<circle cx="33.16" cy="421.12" r="1.75" fill="#fdeeb0" stroke="#f8d050" stroke-width="0.9" />
<circle cx="33.82" cy="420.71" r="1.75" fill="#fdeeb0" stroke="#f8d050" stroke-width="0.9" />
<circle cx="34.48" cy="420.32" r="1.75" fill="#fdeeb0" stroke="#f8d050" stroke-width="0.9" />
<circle cx="35.14" cy="419.97" r="1.75" fill="#fdeeb0" stroke="#f8d050" stroke-width="0.9" />
<circle cx="35.8" cy="419.64" r="1.75" fill="#fdeeb0" stroke="#f8d050" stroke-width="0.9" />
<circle cx="36.46" cy="419.3" r="1.75" fill="#fdeeb0" stroke="#f8d050" stroke-width="0.9" />
<circle cx="37.12" cy="418.93" r="1.75" fill="#fdeeb0" stroke="#f8d050" stroke-width="0.9" />
<circle cx="37.78" cy="418.72" r="1.75" fill="#fdeeb0" stroke="#f8d050" stroke-width="0.9" />
<circle cx="38.44" cy="418.42" r="1.75" fill="#fdeeb0" stroke="#f8d050" stroke-width="0.9" />
<circle cx="39.1" cy="417.38" r="1.75" fill="#fdeeb0" stroke="#f8d050" stroke-width="0.9" />
<circle cx="39.76" cy="415.45" r="1.75" fill="#fdeeb0" stroke="#f8d050" stroke-width="0.9" />
<circle cx="40.42" cy="412.94" r="1.75" fill="#fdeeb0" stroke="#f8d050" stroke-width="0.9" />
<circle cx="41.08" cy="410.15" r="1.75" fill="#fdeeb0" stroke="#f8d050" stroke-width="0.9" />
<circle cx="41.74" cy="407.01" r="1.75" fill="#fdeeb0" stroke="#f8d050" stroke-width="0.9" />
<circle cx="42.4" cy="403.58" r="1.75" fill="#fdeeb0" stroke="#f8d050" stroke-width="0.9" />
<circle cx="43.06" cy="400.2" r="1.75" fill="#fdeeb0" stroke="#f8d050" stroke-width="0.9" />
<circle cx="43.72" cy="396.73" r="1.75" fill="#fdeeb0" stroke="#f8d050" stroke-width="0.9" />
<circle cx="44.38" cy="393.22" r="1.75" fill="#fdeeb0" stroke="#f8d050" stroke-width="0.9" />
<circle cx="45.04" cy="389.95" r="1.75" fill="#fdeeb0" stroke="#f8d050" stroke-width="0.9" />
<circle cx="45.7" cy="387.28" r="1.75" fill="#fdeeb0" stroke="#f8d050" stroke-width="0.9" />
<circle cx="46.36" cy="385.43" r="1.75" fill="#fdeeb0" stroke="#f8d050" stroke-width="0.9" />
<circle cx="47.02" cy="384.25" r="1.75" fill="#fdeeb0" stroke="#f8d050" stroke-width="0.9" />
<circle cx="47.68" cy="383.37" r="1.75" fill="#fdeeb0" stroke="#f8d050" stroke-width="0.9" />
<circle cx="48.34" cy="382.78" r="1.75" fill="#fdeeb0" stroke="#f8d050" stroke-width="0.9" />
<circle cx="49" cy="382.49" r="1.75" fill="#fdeeb0" stroke="#f8d050" stroke-width="0.9" />
<circle cx="49.66" cy="382.4" r="1.75" fill="#fdeeb0" stroke="#f8d050" stroke-width="0.9" />
<circle cx="50.32" cy="382.5" r="1.75" fill="#fdeeb0" stroke="#f8d050" stroke-width="0.9" />
<circle cx="50.98" cy="382.75" r="1.75" fill="#fdeeb0" stroke="#f8d050" stroke-width="0.9" />
<circle cx="51.64" cy="383.08" r="1.75" fill="#fdeeb0" stroke="#f8d050" stroke-width="0.9" />
<circle cx="52.3" cy="383.41" r="1.75" fill="#fdeeb0" stroke="#f8d050" stroke-width="0.9" />
<circle cx="52.96" cy="383.73" r="1.75" fill="#fdeeb0" stroke="#f8d050" stroke-width="0.9" />
<circle cx="53.62" cy="384.13" r="1.75" fill="#fdeeb0" stroke="#f8d050" stroke-width="0.9" />
<circle cx="54.28" cy="384.52" r="1.75" fill="#fdeeb0" stroke="#f8d050" stroke-width="0.9" />
<circle cx="54.94" cy="384.83" r="1.75" fill="#fdeeb0" stroke="#f8d050" stroke-width="0.9" />
<circle cx="55.6" cy="385" r="1.75" fill="#fdeeb0" stroke="#f8d050" stroke-width="0.9" />
<circle cx="56.26" cy="384.94" r="1.75" fill="#fdeeb0" stroke="#f8d050" stroke-width="0.9" />
<circle cx="56.92" cy="384.69" r="1.75" fill="#fdeeb0" stroke="#f8d050" stroke-width="0.9" />
<circle cx="57.58" cy="384.37" r="1.75" fill="#fdeeb0" stroke="#f8d050" stroke-width="0.9" />
<circle cx="58.24" cy="384.08" r="1.75" fill="#fdeeb0" stroke="#f8d050" stroke-width="0.9" />
<circle cx="58.9" cy="383.88" r="1.75" fill="#fdeeb0" stroke="#f8d050" stroke-width="0.9" />
<circle cx="59.56" cy="383.66" r="1.75" fill="#fdeeb0" stroke="#f8d050" stroke-width="0.9" />
<circle cx="60.22" cy="383.45" r="1.75" fill="#fdeeb0" stroke="#f8d050" stroke-width="0.9" />
<circle cx="60.88" cy="383.32" r="1.75" fill="#fdeeb0" stroke="#f8d050" stroke-width="0.9" />
<circle cx="61.54" cy="383.35" r="1.75" fill="#fdeeb0" stroke="#f8d050" stroke-width="0.9" />
<circle cx="62.2" cy="383.68" r="1.75" fill="#fdeeb0" stroke="#f8d050" stroke-width="0.9" />
<circle cx="62.86" cy="384.35" r="1.75" fill="#fdeeb0" stroke="#f8d050" stroke-width="0.9" />
<circle cx="63.52" cy="385.28" r="1.75" fill="#fdeeb0" stroke="#f8d050" stroke-width="0.9" />
<circle cx="64.18" cy="386.27" r="1.75" fill="#fdeeb0" stroke="#f8d050" stroke-width="0.9" />
<circle cx="64.84" cy="387.33" r="1.75" fill="#fdeeb0" stroke="#f8d050" stroke-width="0.9" />
<circle cx="65.5" cy="388.54" r="1.75" fill="#fdeeb0" stroke="#f8d050" stroke-width="0.9" />
<circle cx="66.16" cy="389.91" r="1.75" fill="#fdeeb0" stroke="#f8d050" stroke-width="0.9" />
<circle cx="66.82" cy="391.48" r="1.75" fill="#fdeeb0" stroke="#f8d050" stroke-width="0.9" />
<circle cx="67.48" cy="393.21" r="1.75" fill="#fdeeb0" stroke="#f8d050" stroke-width="0.9" />
<circle cx="68.14" cy="395.02" r="1.75" fill="#fdeeb0" stroke="#f8d050" stroke-width="0.9" />
<circle cx="68.8" cy="396.82" r="1.75" fill="#fdeeb0" stroke="#f8d050" stroke-width="0.9" />
<circle cx="69.46" cy="398.69" r="1.75" fill="#fdeeb0" stroke="#f8d050" stroke-width="0.9" />
<circle cx="70.12" cy="400.58" r="1.75" fill="#fdeeb0" stroke="#f8d050" stroke-width="0.9" />
<circle cx="70.78" cy="402.44" r="1.75" fill="#fdeeb0" stroke="#f8d050" stroke-width="0.9" />
<circle cx="71.44" cy="404.29" r="1.75" fill="#fdeeb0" stroke="#f8d050" stroke-width="0.9" />
<circle cx="72.1" cy="406.13" r="1.75" fill="#fdeeb0" stroke="#f8d050" stroke-width="0.9" />
<circle cx="72.76" cy="407.89" r="1.75" fill="#fdeeb0" stroke="#f8d050" stroke-width="0.9" />
<circle cx="73.42" cy="409.58" r="1.75" fill="#fdeeb0" stroke="#f8d050" stroke-width="0.9" />
<circle cx="74.08" cy="411.26" r="1.75" fill="#fdeeb0" stroke="#f8d050" stroke-width="0.9" />
<circle cx="74.74" cy="412.75" r="1.75" fill="#fdeeb0" stroke="#f8d050" stroke-width="0.9" />
<circle cx="75.4" cy="413.97" r="1.75" fill="#fdeeb0" stroke="#f8d050" stroke-width="0.9" />
<circle cx="76.06" cy="414.97" r="1.75" fill="#fdeeb0" stroke="#f8d050" stroke-width="0.9" />
<circle cx="76.72" cy="415.83" r="1.75" fill="#fdeeb0" stroke="#f8d050" stroke-width="0.9" />
<circle cx="77.38" cy="416.61" r="1.75" fill="#fdeeb0" stroke="#f8d050" stroke-width="0.9" />
<circle cx="78.04" cy="417.33" r="1.75" fill="#fdeeb0" stroke="#f8d050" stroke-width="0.9" />
<circle cx="78.7" cy="418" r="1.75" fill="#fdeeb0" stroke="#f8d050" stroke-width="0.9" />
<circle cx="79.36" cy="418.61" r="1.75" fill="#fdeeb0" stroke="#f8d050" stroke-width="0.9" />
<circle cx="80.02" cy="419.17" r="1.75" fill="#fdeeb0" stroke="#f8d050" stroke-width="0.9" />
<circle cx="80.68" cy="419.68" r="1.75" fill="#fdeeb0" stroke="#f8d050" stroke-width="0.9" />
<circle cx="81.34" cy="420.13" r="1.75" fill="#fdeeb0" stroke="#f8d050" stroke-width="0.9" />
<circle cx="82" cy="420.54" r="1.75" fill="#fdeeb0" stroke="#f8d050" stroke-width="0.9" />
<circle cx="82.66" cy="420.92" r="1.75" fill="#fdeeb0" stroke="#f8d050" stroke-width="0.9" />
<circle cx="83.32" cy="421.26" r="1.75" fill="#fdeeb0" stroke="#f8d050" stroke-width="0.9" />
<circle cx="83.98" cy="421.58" r="1.75" fill="#fdeeb0" stroke="#f8d050" stroke-width="0.9" />
<circle cx="84.64" cy="421.87" r="1.75" fill="#fdeeb0" stroke="#f8d050" stroke-width="0.9" />
<circle cx="85.3" cy="422.15" r="1.75" fill="#fdeeb0" stroke="#f8d050" stroke-width="0.9" />
<circle cx="85.96" cy="422.41" r="1.75" fill="#fdeeb0" stroke="#f8d050" stroke-width="0.9" />
<circle cx="86.62" cy="422.66" r="1.75" fill="#fdeeb0" stroke="#f8d050" stroke-width="0.9" />
<circle cx="87.28" cy="422.9" r="1.75" fill="#fdeeb0" stroke="#f8d050" stroke-width="0.9" />
<circle cx="87.94" cy="423.14" r="1.75" fill="#fdeeb0" stroke="#f8d050" stroke-width="0.9" />
<circle cx="88.6" cy="423.37" r="1.75" fill="#fdeeb0" stroke="#f8d050" stroke-width="0.9" />
<circle cx="89.26" cy="423.6" r="1.75" fill="#fdeeb0" stroke="#f8d050" stroke-width="0.9" />
<circle cx="89.92" cy="423.81" r="1.75" fill="#fdeeb0" stroke="#f8d050" stroke-width="0.9" />
<circle cx="90.58" cy="424.02" r="1.75" fill="#fdeeb0" stroke="#f8d050" stroke-width="0.9" />
<circle cx="91.24" cy="424.21" r="1.75" fill="#fdeeb0" stroke="#f8d050" stroke-width="0.9" />
<circle cx="91.9" cy="424.38" r="1.75" fill="#fdeeb0" stroke="#f8d050" stroke-width="0.9" />
<circle cx="92.56" cy="424.54" r="1.75" fill="#fdeeb0" stroke="#f8d050" stroke-width="0.9" />
<circle cx="93.22" cy="424.67" r="1.75" fill="#fdeeb0" stroke="#f8d050" stroke-width="0.9" />
<circle cx="93.88" cy="424.77" r="1.75" fill="#fdeeb0" stroke="#f8d050" stroke-width="0.9" />
<circle cx="94.54" cy="424.86" r="1.75" fill="#fdeeb0" stroke="#f8d050" stroke-width="0.9" />
<circle cx="95.2" cy="424.91" r="1.75" fill="#fdeeb0" stroke="#f8d050" stroke-width="0.9" />
<circle cx="95.86" cy="424.95" r="1.75" fill="#fdeeb0" stroke="#f8d050" stroke-width="0.9" />
<circle cx="96.52" cy="424.97" r="1.75" fill="#fdeeb0" stroke="#f8d050" stroke-width="0.9" />
<circle cx="97.18" cy="424.98" r="1.75" fill="#fdeeb0" stroke="#f8d050" stroke-width="0.9" />
<circle cx="97.84" cy="424.98" r="1.75" fill="#fdeeb0" stroke="#f8d050" stroke-width="0.9" />
<circle cx="98.5" cy="424.99" r="1.75" fill="#fdeeb0" stroke="#f8d050" stroke-width="0.9" />
<circle cx="99.16" cy="424.99" r="1.75" fill="#fdeeb0" stroke="#f8d050" stroke-width="0.9" />
<circle cx="99.82" cy="425" r="1.75" fill="#fdeeb0" stroke="#f8d050" stroke-width="0.9" />
<circle cx="100.48" cy="425.01" r="1.75" fill="#fdeeb0" stroke="#f8d050" stroke-width="0.9" />
<circle cx="101.14" cy="425.02" r="1.75" fill="#fdeeb0" stroke="#f8d050" stroke-width="0.9" />
<circle cx="101.8" cy="425.03" r="1.75" fill="#fdeeb0" stroke="#f8d050" stroke-width="0.9" />
<circle cx="102.46" cy="425.03" r="1.75" fill="#fdeeb0" stroke="#f8d050" stroke-width="0.9" />
<circle cx="103.12" cy="425.04" r="1.75" fill="#fdeeb0" stroke="#f8d050" stroke-width="0.9" />
<circle cx="103.78" cy="425.05" r="1.75" fill="#fdeeb0" stroke="#f8d050" stroke-width="0.9" />
<circle cx="104.44" cy="425.05" r="1.75" fill="#fdeeb0" stroke="#f8d050" stroke-width="0.9" />
<circle cx="105.1" cy="425.05" r="1.75" fill="#fdeeb0" stroke="#f8d050" stroke-width="0.9" />
<circle cx="105.76" cy="425.05" r="1.75" fill="#fdeeb0" stroke="#f8d050" stroke-width="0.9" />
<circle cx="106.42" cy="425.05" r="1.75" fill="#fdeeb0" stroke="#f8d050" stroke-width="0.9" />
<circle cx="107.08" cy="425.05" r="1.75" fill="#fdeeb0" stroke="#f8d050" stroke-width="0.9" />
<circle cx="107.74" cy="425.04" r="1.75" fill="#fdeeb0" stroke="#f8d050" stroke-width="0.9" />
<circle cx="108.4" cy="425.03" r="1.75" fill="#fdeeb0" stroke="#f8d050" stroke-width="0.9" />
<circle cx="109.06" cy="425.02" r="1.75" fill="#fdeeb0" stroke="#f8d050" stroke-width="0.9" />
<circle cx="109.72" cy="425.01" r="1.75" fill="#fdeeb0" stroke="#f8d050" stroke-width="0.9" />
<circle cx="110.38" cy="424.99" r="1.75" fill="#fdeeb0" stroke="#f8d050" stroke-width="0.9" />
<circle cx="111.04" cy="424.96" r="1.75" fill="#fdeeb0" stroke="#f8d050" stroke-width="0.9" />
<circle cx="111.7" cy="424.92" r="1.75" fill="#fdeeb0" stroke="#f8d050" stroke-width="0.9" />
<circle cx="112.36" cy="424.87" r="1.75" fill="#fdeeb0" stroke="#f8d050" stroke-width="0.9" />
<circle cx="113.02" cy="424.82" r="1.75" fill="#fdeeb0" stroke="#f8d050" stroke-width="0.9" />
<circle cx="113.68" cy="424.77" r="1.75" fill="#fdeeb0" stroke="#f8d050" stroke-width="0.9" />
<circle cx="114.34" cy="424.71" r="1.75" fill="#fdeeb0" stroke="#f8d050" stroke-width="0.9" />
<circle cx="115" cy="424.66" r="1.75" fill="#fdeeb0" stroke="#f8d050" stroke-width="0.9" />
<circle cx="115.66" cy="424.6" r="1.75" fill="#fdeeb0" stroke="#f8d050" stroke-width="0.9" />
<circle cx="116.32" cy="424.56" r="1.75" fill="#fdeeb0" stroke="#f8d050" stroke-width="0.9" />
<circle cx="116.98" cy="424.52" r="1.75" fill="#fdeeb0" stroke="#f8d050" stroke-width="0.9" />
<circle cx="117.64" cy="424.5" r="1.75" fill="#fdeeb0" stroke="#f8d050" stroke-width="0.9" />
<circle cx="118.3" cy="424.48" r="1.75" fill="#fdeeb0" stroke="#f8d050" stroke-width="0.9" />
<circle cx="118.96" cy="424.48" r="1.75" fill="#fdeeb0" stroke="#f8d050" stroke-width="0.9" />
<circle cx="119.62" cy="424.5" r="1.75" fill="#fdeeb0" stroke="#f8d050" stroke-width="0.9" />
<circle cx="120.28" cy="424.53" r="1.75" fill="#fdeeb0" stroke="#f8d050" stroke-width="0.9" />
<circle cx="120.94" cy="424.57" r="1.75" fill="#fdeeb0" stroke="#f8d050" stroke-width="0.9" />
<circle cx="121.6" cy="424.62" r="1.75" fill="#fdeeb0" stroke="#f8d050" stroke-width="0.9" />
<circle cx="122.26" cy="424.68" r="1.75" fill="#fdeeb0" stroke="#f8d050" stroke-width="0.9" />
<circle cx="122.92" cy="424.76" r="1.75" fill="#fdeeb0" stroke="#f8d050" stroke-width="0.9" />
<circle cx="123.58" cy="424.84" r="1.75" fill="#fdeeb0" stroke="#f8d050" stroke-width="0.9" />
<circle cx="124.24" cy="424.93" r="1.75" fill="#fdeeb0" stroke="#f8d050" stroke-width="0.9" />
<circle cx="124.9" cy="425.02" r="1.75" fill="#fdeeb0" stroke="#f8d050" stroke-width="0.9" />
<circle cx="125.56" cy="425.12" r="1.75" fill="#fdeeb0" stroke="#f8d050" stroke-width="0.9" />
<circle cx="126.22" cy="425.22" r="1.75" fill="#fdeeb0" stroke="#f8d050" stroke-width="0.9" />
<circle cx="126.88" cy="425.32" r="1.75" fill="#fdeeb0" stroke="#f8d050" stroke-width="0.9" />
<circle cx="127.54" cy="425.42" r="1.75" fill="#fdeeb0" stroke="#f8d050" stroke-width="0.9" />
<circle cx="128.2" cy="425.53" r="1.75" fill="#fdeeb0" stroke="#f8d050" stroke-width="0.9" />
<circle cx="128.86" cy="425.63" r="1.75" fill="#fdeeb0" stroke="#f8d050" stroke-width="0.9" />
<circle cx="129.52" cy="425.73" r="1.75" fill="#fdeeb0" stroke="#f8d050" stroke-width="0.9" />
<circle cx="130.18" cy="425.83" r="1.75" fill="#fdeeb0" stroke="#f8d050" stroke-width="0.9" />
<circle cx="130.84" cy="425.93" r="1.75" fill="#fdeeb0" stroke="#f8d050" stroke-width="0.9" />
<circle cx="131.5" cy="426.03" r="1.75" fill="#fdeeb0" stroke="#f8d050" stroke-width="0.9" />
<circle cx="132.16" cy="426.13" r="1.75" fill="#fdeeb0" stroke="#f8d050" stroke-width="0.9" />
<circle cx="132.82" cy="426.24" r="1.75" fill="#fdeeb0" stroke="#f8d050" stroke-width="0.9" />
<circle cx="133.48" cy="426.34" r="1.75" fill="#fdeeb0" stroke="#f8d050" stroke-width="0.9" />
<circle cx="134.14" cy="426.45" r="1.75" fill="#fdeeb0" stroke="#f8d050" stroke-width="0.9" />
<circle cx="134.8" cy="426.56" r="1.75" fill="#fdeeb0" stroke="#f8d050" stroke-width="0.9" />
<circle cx="135.46" cy="426.67" r="1.75" fill="#fdeeb0" stroke="#f8d050" stroke-width="0.9" />
<circle cx="136.12" cy="426.78" r="1.75" fill="#fdeeb0" stroke="#f8d050" stroke-width="0.9" />
<circle cx="136.78" cy="426.89" r="1.75" fill="#fdeeb0" stroke="#f8d050" stroke-width="0.9" />
<circle cx="137.44" cy="427" r="1.75" fill="#fdeeb0" stroke="#f8d050" stroke-width="0.9" />
<circle cx="138.1" cy="427.11" r="1.75" fill="#fdeeb0" stroke="#f8d050" stroke-width="0.9" />
<circle cx="138.76" cy="427.22" r="1.75" fill="#fdeeb0" stroke="#f8d050" stroke-width="0.9" />
<circle cx="139.42" cy="427.33" r="1.75" fill="#fdeeb0" stroke="#f8d050" stroke-width="0.9" />
<circle cx="140.08" cy="427.44" r="1.75" fill="#fdeeb0" stroke="#f8d050" stroke-width="0.9" />
<circle cx="140.74" cy="427.55" r="1.75" fill="#fdeeb0" stroke="#f8d050" stroke-width="0.9" />
<circle cx="141.4" cy="427.66" r="1.75" fill="#fdeeb0" stroke="#f8d050" stroke-width="0.9" />
<circle cx="142.06" cy="427.77" r="1.75" fill="#fdeeb0" stroke="#f8d050" stroke-width="0.9" />
<circle cx="142.72" cy="427.88" r="1.75" fill="#fdeeb0" stroke="#f8d050" stroke-width="0.9" />
<circle cx="143.38" cy="427.99" r="1.75" fill="#fdeeb0" stroke="#f8d050" stroke-width="0.9" />
<circle cx="144.04" cy="428.1" r="1.75" fill="#fdeeb0" stroke="#f8d050" stroke-width="0.9" />
<circle cx="144.7" cy="428.21" r="1.75" fill="#fdeeb0" stroke="#f8d050" stroke-width="0.9" />
<circle cx="145.36" cy="428.31" r="1.75" fill="#fdeeb0" stroke="#f8d050" stroke-width="0.9" />
<circle cx="146.02" cy="428.42" r="1.75" fill="#fdeeb0" stroke="#f8d050" stroke-width="0.9" />
<circle cx="146.68" cy="428.53" r="1.75" fill="#fdeeb0" stroke="#f8d050" stroke-width="0.9" />
<circle cx="147.34" cy="428.63" r="1.75" fill="#fdeeb0" stroke="#f8d050" stroke-width="0.9" />
<circle cx="148" cy="428.74" r="1.75" fill="#fdeeb0" stroke="#f8d050" stroke-width="0.9" />
<circle cx="148.66" cy="428.85" r="1.75" fill="#fdeeb0" stroke="#f8d050" stroke-width="0.9" />
<circle cx="149.32" cy="428.95" r="1.75" fill="#fdeeb0" stroke="#f8d050" stroke-width="0.9" />
<circle cx="149.98" cy="429.06" r="1.75" fill="#fdeeb0" stroke="#f8d050" stroke-width="0.9" />
<circle cx="150.64" cy="429.17" r="1.75" fill="#fdeeb0" stroke="#f8d050" stroke-width="0.9" />
<circle cx="151.3" cy="429.27" r="1.75" fill="#fdeeb0" stroke="#f8d050" stroke-width="0.9" />
<circle cx="151.96" cy="429.37" r="1.75" fill="#fdeeb0" stroke="#f8d050" stroke-width="0.9" />
<circle cx="152.62" cy="429.47" r="1.75" fill="#fdeeb0" stroke="#f8d050" stroke-width="0.9" />
<circle cx="153.28" cy="429.56" r="1.75" fill="#fdeeb0" stroke="#f8d050" stroke-width="0.9" />
<circle cx="153.94" cy="429.66" r="1.75" fill="#fdeeb0" stroke="#f8d050" stroke-width="0.9" />
<circle cx="154.6" cy="429.75" r="1.75" fill="#fdeeb0" stroke="#f8d050" stroke-width="0.9" />
<circle cx="155.26" cy="429.83" r="1.75" fill="#fdeeb0" stroke="#f8d050" stroke-width="0.9" />
<circle cx="155.92" cy="429.92" r="1.75" fill="#fdeeb0" stroke="#f8d050" stroke-width="0.9" />
<circle cx="156.58" cy="430" r="1.75" fill="#fdeeb0" stroke="#f8d050" stroke-width="0.9" />
<circle cx="157.24" cy="430.08" r="1.75" fill="#fdeeb0" stroke="#f8d050" stroke-width="0.9" />
<circle cx="157.9" cy="430.15" r="1.75" fill="#fdeeb0" stroke="#f8d050" stroke-width="0.9" />
<circle cx="158.56" cy="430.23" r="1.75" fill="#fdeeb0" stroke="#f8d050" stroke-width="0.9" />
<circle cx="159.22" cy="430.3" r="1.75" fill="#fdeeb0" stroke="#f8d050" stroke-width="0.9" />
<circle cx="159.88" cy="430.38" r="1.75" fill="#fdeeb0" stroke="#f8d050" stroke-width="0.9" />
<circle cx="160.54" cy="430.45" r="1.75" fill="#fdeeb0" stroke="#f8d050" stroke-width="0.9" />
<circle cx="161.2" cy="430.52" r="1.75" fill="#fdeeb0" stroke="#f8d050" stroke-width="0.9" />
<circle cx="161.86" cy="430.6" r="1.75" fill="#fdeeb0" stroke="#f8d050" stroke-width="0.9" />
<circle cx="162.52" cy="430.67" r="1.75" fill="#fdeeb0" stroke="#f8d050" stroke-width="0.9" />
<circle cx="163.18" cy="430.74" r="1.75" fill="#fdeeb0" stroke="#f8d050" stroke-width="0.9" />
<circle cx="163.84" cy="430.81" r="1.75" fill="#fdeeb0" stroke="#f8d050" stroke-width="0.9" />
<circle cx="22.6" cy="406.48" r="1.75" fill="#fbc0b4" stroke="#f26a5e" stroke-width="0.9" />
<circle cx="23.26" cy="406.93" r="1.75" fill="#fbc0b4" stroke="#f26a5e" stroke-width="0.9" />
<circle cx="23.92" cy="407.39" r="1.75" fill="#fbc0b4" stroke="#f26a5e" stroke-width="0.9" />
<circle cx="24.58" cy="407.84" r="1.75" fill="#fbc0b4" stroke="#f26a5e" stroke-width="0.9" />
<circle cx="25.24" cy="408.29" r="1.75" fill="#fbc0b4" stroke="#f26a5e" stroke-width="0.9" />
<circle cx="25.9" cy="408.73" r="1.75" fill="#fbc0b4" stroke="#f26a5e" stroke-width="0.9" />
<circle cx="26.56" cy="409.17" r="1.75" fill="#fbc0b4" stroke="#f26a5e" stroke-width="0.9" />
<circle cx="27.22" cy="409.6" r="1.75" fill="#fbc0b4" stroke="#f26a5e" stroke-width="0.9" />
<circle cx="27.88" cy="410.03" r="1.75" fill="#fbc0b4" stroke="#f26a5e" stroke-width="0.9" />
<circle cx="28.54" cy="410.46" r="1.75" fill="#fbc0b4" stroke="#f26a5e" stroke-width="0.9" />
<circle cx="29.2" cy="410.88" r="1.75" fill="#fbc0b4" stroke="#f26a5e" stroke-width="0.9" />
<circle cx="29.86" cy="411.31" r="1.75" fill="#fbc0b4" stroke="#f26a5e" stroke-width="0.9" />
<circle cx="30.52" cy="411.74" r="1.75" fill="#fbc0b4" stroke="#f26a5e" stroke-width="0.9" />
<circle cx="31.18" cy="412.16" r="1.75" fill="#fbc0b4" stroke="#f26a5e" stroke-width="0.9" />
<circle cx="31.84" cy="412.59" r="1.75" fill="#fbc0b4" stroke="#f26a5e" stroke-width="0.9" />
<circle cx="32.5" cy="413.02" r="1.75" fill="#fbc0b4" stroke="#f26a5e" stroke-width="0.9" />
<circle cx="33.16" cy="413.45" r="1.75" fill="#fbc0b4" stroke="#f26a5e" stroke-width="0.9" />
<circle cx="33.82" cy="413.88" r="1.75" fill="#fbc0b4" stroke="#f26a5e" stroke-width="0.9" />
<circle cx="34.48" cy="414.4" r="1.75" fill="#fbc0b4" stroke="#f26a5e" stroke-width="0.9" />
<circle cx="35.14" cy="415.12" r="1.75" fill="#fbc0b4" stroke="#f26a5e" stroke-width="0.9" />
<circle cx="35.8" cy="415.88" r="1.75" fill="#fbc0b4" stroke="#f26a5e" stroke-width="0.9" />
<circle cx="36.46" cy="416.42" r="1.75" fill="#fbc0b4" stroke="#f26a5e" stroke-width="0.9" />
<circle cx="37.12" cy="416.3" r="1.75" fill="#fbc0b4" stroke="#f26a5e" stroke-width="0.9" />
<circle cx="37.78" cy="414.29" r="1.75" fill="#fbc0b4" stroke="#f26a5e" stroke-width="0.9" />
<circle cx="38.44" cy="408.43" r="1.75" fill="#fbc0b4" stroke="#f26a5e" stroke-width="0.9" />
<circle cx="39.1" cy="402.23" r="1.75" fill="#fbc0b4" stroke="#f26a5e" stroke-width="0.9" />
<circle cx="39.76" cy="395.33" r="1.75" fill="#fbc0b4" stroke="#f26a5e" stroke-width="0.9" />
<circle cx="40.42" cy="389.33" r="1.75" fill="#fbc0b4" stroke="#f26a5e" stroke-width="0.9" />
<circle cx="41.08" cy="384.04" r="1.75" fill="#fbc0b4" stroke="#f26a5e" stroke-width="0.9" />
<circle cx="41.74" cy="378.95" r="1.75" fill="#fbc0b4" stroke="#f26a5e" stroke-width="0.9" />
<circle cx="42.4" cy="373.8" r="1.75" fill="#fbc0b4" stroke="#f26a5e" stroke-width="0.9" />
<circle cx="43.06" cy="368.31" r="1.75" fill="#fbc0b4" stroke="#f26a5e" stroke-width="0.9" />
<circle cx="43.72" cy="362.62" r="1.75" fill="#fbc0b4" stroke="#f26a5e" stroke-width="0.9" />
<circle cx="44.38" cy="357.29" r="1.75" fill="#fbc0b4" stroke="#f26a5e" stroke-width="0.9" />
<circle cx="45.04" cy="352.72" r="1.75" fill="#fbc0b4" stroke="#f26a5e" stroke-width="0.9" />
<circle cx="45.7" cy="348.56" r="1.75" fill="#fbc0b4" stroke="#f26a5e" stroke-width="0.9" />
<circle cx="46.36" cy="345.05" r="1.75" fill="#fbc0b4" stroke="#f26a5e" stroke-width="0.9" />
<circle cx="47.02" cy="342.44" r="1.75" fill="#fbc0b4" stroke="#f26a5e" stroke-width="0.9" />
<circle cx="47.68" cy="340.62" r="1.75" fill="#fbc0b4" stroke="#f26a5e" stroke-width="0.9" />
<circle cx="48.34" cy="339.41" r="1.75" fill="#fbc0b4" stroke="#f26a5e" stroke-width="0.9" />
<circle cx="49" cy="338.74" r="1.75" fill="#fbc0b4" stroke="#f26a5e" stroke-width="0.9" />
<circle cx="49.66" cy="338.59" r="1.75" fill="#fbc0b4" stroke="#f26a5e" stroke-width="0.9" />
<circle cx="50.32" cy="338.93" r="1.75" fill="#fbc0b4" stroke="#f26a5e" stroke-width="0.9" />
<circle cx="50.98" cy="339.72" r="1.75" fill="#fbc0b4" stroke="#f26a5e" stroke-width="0.9" />
<circle cx="51.64" cy="340.91" r="1.75" fill="#fbc0b4" stroke="#f26a5e" stroke-width="0.9" />
<circle cx="52.3" cy="342.48" r="1.75" fill="#fbc0b4" stroke="#f26a5e" stroke-width="0.9" />
<circle cx="52.96" cy="344.42" r="1.75" fill="#fbc0b4" stroke="#f26a5e" stroke-width="0.9" />
<circle cx="53.62" cy="346.88" r="1.75" fill="#fbc0b4" stroke="#f26a5e" stroke-width="0.9" />
<circle cx="54.28" cy="349.69" r="1.75" fill="#fbc0b4" stroke="#f26a5e" stroke-width="0.9" />
<circle cx="54.94" cy="352.64" r="1.75" fill="#fbc0b4" stroke="#f26a5e" stroke-width="0.9" />
<circle cx="55.6" cy="355.54" r="1.75" fill="#fbc0b4" stroke="#f26a5e" stroke-width="0.9" />
<circle cx="56.26" cy="358.23" r="1.75" fill="#fbc0b4" stroke="#f26a5e" stroke-width="0.9" />
<circle cx="56.92" cy="360.81" r="1.75" fill="#fbc0b4" stroke="#f26a5e" stroke-width="0.9" />
<circle cx="57.58" cy="363.35" r="1.75" fill="#fbc0b4" stroke="#f26a5e" stroke-width="0.9" />
<circle cx="58.24" cy="365.88" r="1.75" fill="#fbc0b4" stroke="#f26a5e" stroke-width="0.9" />
<circle cx="58.9" cy="368.43" r="1.75" fill="#fbc0b4" stroke="#f26a5e" stroke-width="0.9" />
<circle cx="59.56" cy="371.04" r="1.75" fill="#fbc0b4" stroke="#f26a5e" stroke-width="0.9" />
<circle cx="60.22" cy="373.72" r="1.75" fill="#fbc0b4" stroke="#f26a5e" stroke-width="0.9" />
<circle cx="60.88" cy="376.45" r="1.75" fill="#fbc0b4" stroke="#f26a5e" stroke-width="0.9" />
<circle cx="61.54" cy="379.2" r="1.75" fill="#fbc0b4" stroke="#f26a5e" stroke-width="0.9" />
<circle cx="62.2" cy="381.94" r="1.75" fill="#fbc0b4" stroke="#f26a5e" stroke-width="0.9" />
<circle cx="62.86" cy="384.64" r="1.75" fill="#fbc0b4" stroke="#f26a5e" stroke-width="0.9" />
<circle cx="63.52" cy="387.35" r="1.75" fill="#fbc0b4" stroke="#f26a5e" stroke-width="0.9" />
<circle cx="64.18" cy="390.06" r="1.75" fill="#fbc0b4" stroke="#f26a5e" stroke-width="0.9" />
<circle cx="64.84" cy="392.74" r="1.75" fill="#fbc0b4" stroke="#f26a5e" stroke-width="0.9" />
<circle cx="65.5" cy="395.36" r="1.75" fill="#fbc0b4" stroke="#f26a5e" stroke-width="0.9" />
<circle cx="66.16" cy="397.85" r="1.75" fill="#fbc0b4" stroke="#f26a5e" stroke-width="0.9" />
<circle cx="66.82" cy="400.29" r="1.75" fill="#fbc0b4" stroke="#f26a5e" stroke-width="0.9" />
<circle cx="67.48" cy="402.71" r="1.75" fill="#fbc0b4" stroke="#f26a5e" stroke-width="0.9" />
<circle cx="68.14" cy="405" r="1.75" fill="#fbc0b4" stroke="#f26a5e" stroke-width="0.9" />
<circle cx="68.8" cy="407.09" r="1.75" fill="#fbc0b4" stroke="#f26a5e" stroke-width="0.9" />
<circle cx="69.46" cy="408.94" r="1.75" fill="#fbc0b4" stroke="#f26a5e" stroke-width="0.9" />
<circle cx="70.12" cy="410.57" r="1.75" fill="#fbc0b4" stroke="#f26a5e" stroke-width="0.9" />
<circle cx="70.78" cy="412.07" r="1.75" fill="#fbc0b4" stroke="#f26a5e" stroke-width="0.9" />
<circle cx="71.44" cy="413.46" r="1.75" fill="#fbc0b4" stroke="#f26a5e" stroke-width="0.9" />
<circle cx="72.1" cy="414.77" r="1.75" fill="#fbc0b4" stroke="#f26a5e" stroke-width="0.9" />
<circle cx="72.76" cy="416" r="1.75" fill="#fbc0b4" stroke="#f26a5e" stroke-width="0.9" />
<circle cx="73.42" cy="417.15" r="1.75" fill="#fbc0b4" stroke="#f26a5e" stroke-width="0.9" />
<circle cx="74.08" cy="418.22" r="1.75" fill="#fbc0b4" stroke="#f26a5e" stroke-width="0.9" />
<circle cx="74.74" cy="419.16" r="1.75" fill="#fbc0b4" stroke="#f26a5e" stroke-width="0.9" />
<circle cx="75.4" cy="419.95" r="1.75" fill="#fbc0b4" stroke="#f26a5e" stroke-width="0.9" />
<circle cx="76.06" cy="420.58" r="1.75" fill="#fbc0b4" stroke="#f26a5e" stroke-width="0.9" />
<circle cx="76.72" cy="421.11" r="1.75" fill="#fbc0b4" stroke="#f26a5e" stroke-width="0.9" />
<circle cx="77.38" cy="421.57" r="1.75" fill="#fbc0b4" stroke="#f26a5e" stroke-width="0.9" />
<circle cx="78.04" cy="422.03" r="1.75" fill="#fbc0b4" stroke="#f26a5e" stroke-width="0.9" />
<circle cx="78.7" cy="422.45" r="1.75" fill="#fbc0b4" stroke="#f26a5e" stroke-width="0.9" />
<circle cx="79.36" cy="422.82" r="1.75" fill="#fbc0b4" stroke="#f26a5e" stroke-width="0.9" />
<circle cx="80.02" cy="423.13" r="1.75" fill="#fbc0b4" stroke="#f26a5e" stroke-width="0.9" />
<circle cx="80.68" cy="423.41" r="1.75" fill="#fbc0b4" stroke="#f26a5e" stroke-width="0.9" />
<circle cx="81.34" cy="423.69" r="1.75" fill="#fbc0b4" stroke="#f26a5e" stroke-width="0.9" />
<circle cx="82" cy="423.96" r="1.75" fill="#fbc0b4" stroke="#f26a5e" stroke-width="0.9" />
<circle cx="82.66" cy="424.24" r="1.75" fill="#fbc0b4" stroke="#f26a5e" stroke-width="0.9" />
<circle cx="83.32" cy="424.51" r="1.75" fill="#fbc0b4" stroke="#f26a5e" stroke-width="0.9" />
<circle cx="83.98" cy="424.78" r="1.75" fill="#fbc0b4" stroke="#f26a5e" stroke-width="0.9" />
<circle cx="84.64" cy="425.04" r="1.75" fill="#fbc0b4" stroke="#f26a5e" stroke-width="0.9" />
<circle cx="85.3" cy="425.28" r="1.75" fill="#fbc0b4" stroke="#f26a5e" stroke-width="0.9" />
<circle cx="85.96" cy="425.5" r="1.75" fill="#fbc0b4" stroke="#f26a5e" stroke-width="0.9" />
<circle cx="86.62" cy="425.7" r="1.75" fill="#fbc0b4" stroke="#f26a5e" stroke-width="0.9" />
<circle cx="87.28" cy="425.87" r="1.75" fill="#fbc0b4" stroke="#f26a5e" stroke-width="0.9" />
<circle cx="87.94" cy="426.04" r="1.75" fill="#fbc0b4" stroke="#f26a5e" stroke-width="0.9" />
<circle cx="88.6" cy="426.19" r="1.75" fill="#fbc0b4" stroke="#f26a5e" stroke-width="0.9" />
<circle cx="89.26" cy="426.33" r="1.75" fill="#fbc0b4" stroke="#f26a5e" stroke-width="0.9" />
<circle cx="89.92" cy="426.46" r="1.75" fill="#fbc0b4" stroke="#f26a5e" stroke-width="0.9" />
<circle cx="90.58" cy="426.58" r="1.75" fill="#fbc0b4" stroke="#f26a5e" stroke-width="0.9" />
<circle cx="91.24" cy="426.7" r="1.75" fill="#fbc0b4" stroke="#f26a5e" stroke-width="0.9" />
<circle cx="91.9" cy="426.8" r="1.75" fill="#fbc0b4" stroke="#f26a5e" stroke-width="0.9" />
<circle cx="92.56" cy="426.89" r="1.75" fill="#fbc0b4" stroke="#f26a5e" stroke-width="0.9" />
<circle cx="93.22" cy="426.98" r="1.75" fill="#fbc0b4" stroke="#f26a5e" stroke-width="0.9" />
<circle cx="93.88" cy="427.05" r="1.75" fill="#fbc0b4" stroke="#f26a5e" stroke-width="0.9" />
<circle cx="94.54" cy="427.12" r="1.75" fill="#fbc0b4" stroke="#f26a5e" stroke-width="0.9" />
<circle cx="95.2" cy="427.17" r="1.75" fill="#fbc0b4" stroke="#f26a5e" stroke-width="0.9" />
<circle cx="95.86" cy="427.21" r="1.75" fill="#fbc0b4" stroke="#f26a5e" stroke-width="0.9" />
<circle cx="96.52" cy="427.25" r="1.75" fill="#fbc0b4" stroke="#f26a5e" stroke-width="0.9" />
<circle cx="97.18" cy="427.27" r="1.75" fill="#fbc0b4" stroke="#f26a5e" stroke-width="0.9" />
<circle cx="97.84" cy="427.28" r="1.75" fill="#fbc0b4" stroke="#f26a5e" stroke-width="0.9" />
<circle cx="98.5" cy="427.29" r="1.75" fill="#fbc0b4" stroke="#f26a5e" stroke-width="0.9" />
<circle cx="99.16" cy="427.3" r="1.75" fill="#fbc0b4" stroke="#f26a5e" stroke-width="0.9" />
<circle cx="99.82" cy="427.3" r="1.75" fill="#fbc0b4" stroke="#f26a5e" stroke-width="0.9" />
<circle cx="100.48" cy="427.3" r="1.75" fill="#fbc0b4" stroke="#f26a5e" stroke-width="0.9" />
<circle cx="101.14" cy="427.29" r="1.75" fill="#fbc0b4" stroke="#f26a5e" stroke-width="0.9" />
<circle cx="101.8" cy="427.27" r="1.75" fill="#fbc0b4" stroke="#f26a5e" stroke-width="0.9" />
<circle cx="102.46" cy="427.25" r="1.75" fill="#fbc0b4" stroke="#f26a5e" stroke-width="0.9" />
<circle cx="103.12" cy="427.23" r="1.75" fill="#fbc0b4" stroke="#f26a5e" stroke-width="0.9" />
<circle cx="103.78" cy="427.21" r="1.75" fill="#fbc0b4" stroke="#f26a5e" stroke-width="0.9" />
<circle cx="104.44" cy="427.18" r="1.75" fill="#fbc0b4" stroke="#f26a5e" stroke-width="0.9" />
<circle cx="105.1" cy="427.16" r="1.75" fill="#fbc0b4" stroke="#f26a5e" stroke-width="0.9" />
<circle cx="105.76" cy="427.13" r="1.75" fill="#fbc0b4" stroke="#f26a5e" stroke-width="0.9" />
<circle cx="106.42" cy="427.11" r="1.75" fill="#fbc0b4" stroke="#f26a5e" stroke-width="0.9" />
<circle cx="107.08" cy="427.08" r="1.75" fill="#fbc0b4" stroke="#f26a5e" stroke-width="0.9" />
<circle cx="107.74" cy="427.06" r="1.75" fill="#fbc0b4" stroke="#f26a5e" stroke-width="0.9" />
<circle cx="108.4" cy="427.04" r="1.75" fill="#fbc0b4" stroke="#f26a5e" stroke-width="0.9" />
<circle cx="109.06" cy="427.02" r="1.75" fill="#fbc0b4" stroke="#f26a5e" stroke-width="0.9" />
<circle cx="109.72" cy="427" r="1.75" fill="#fbc0b4" stroke="#f26a5e" stroke-width="0.9" />
<circle cx="110.38" cy="426.99" r="1.75" fill="#fbc0b4" stroke="#f26a5e" stroke-width="0.9" />
<circle cx="111.04" cy="426.98" r="1.75" fill="#fbc0b4" stroke="#f26a5e" stroke-width="0.9" />
<circle cx="111.7" cy="426.97" r="1.75" fill="#fbc0b4" stroke="#f26a5e" stroke-width="0.9" />
<circle cx="112.36" cy="426.95" r="1.75" fill="#fbc0b4" stroke="#f26a5e" stroke-width="0.9" />
<circle cx="113.02" cy="426.93" r="1.75" fill="#fbc0b4" stroke="#f26a5e" stroke-width="0.9" />
<circle cx="113.68" cy="426.92" r="1.75" fill="#fbc0b4" stroke="#f26a5e" stroke-width="0.9" />
<circle cx="114.34" cy="426.91" r="1.75" fill="#fbc0b4" stroke="#f26a5e" stroke-width="0.9" />
<circle cx="115" cy="426.9" r="1.75" fill="#fbc0b4" stroke="#f26a5e" stroke-width="0.9" />
<circle cx="115.66" cy="426.89" r="1.75" fill="#fbc0b4" stroke="#f26a5e" stroke-width="0.9" />
<circle cx="116.32" cy="426.89" r="1.75" fill="#fbc0b4" stroke="#f26a5e" stroke-width="0.9" />
<circle cx="116.98" cy="426.9" r="1.75" fill="#fbc0b4" stroke="#f26a5e" stroke-width="0.9" />
<circle cx="117.64" cy="426.91" r="1.75" fill="#fbc0b4" stroke="#f26a5e" stroke-width="0.9" />
<circle cx="118.3" cy="426.93" r="1.75" fill="#fbc0b4" stroke="#f26a5e" stroke-width="0.9" />
<circle cx="118.96" cy="426.96" r="1.75" fill="#fbc0b4" stroke="#f26a5e" stroke-width="0.9" />
<circle cx="119.62" cy="427" r="1.75" fill="#fbc0b4" stroke="#f26a5e" stroke-width="0.9" />
<circle cx="120.28" cy="427.04" r="1.75" fill="#fbc0b4" stroke="#f26a5e" stroke-width="0.9" />
<circle cx="120.94" cy="427.09" r="1.75" fill="#fbc0b4" stroke="#f26a5e" stroke-width="0.9" />
<circle cx="121.6" cy="427.14" r="1.75" fill="#fbc0b4" stroke="#f26a5e" stroke-width="0.9" />
<circle cx="122.26" cy="427.2" r="1.75" fill="#fbc0b4" stroke="#f26a5e" stroke-width="0.9" />
<circle cx="122.92" cy="427.27" r="1.75" fill="#fbc0b4" stroke="#f26a5e" stroke-width="0.9" />
<circle cx="123.58" cy="427.34" r="1.75" fill="#fbc0b4" stroke="#f26a5e" stroke-width="0.9" />
<circle cx="124.24" cy="427.41" r="1.75" fill="#fbc0b4" stroke="#f26a5e" stroke-width="0.9" />
<circle cx="124.9" cy="427.49" r="1.75" fill="#fbc0b4" stroke="#f26a5e" stroke-width="0.9" />
<circle cx="125.56" cy="427.57" r="1.75" fill="#fbc0b4" stroke="#f26a5e" stroke-width="0.9" />
<circle cx="126.22" cy="427.64" r="1.75" fill="#fbc0b4" stroke="#f26a5e" stroke-width="0.9" />
<circle cx="126.88" cy="427.72" r="1.75" fill="#fbc0b4" stroke="#f26a5e" stroke-width="0.9" />
<circle cx="127.54" cy="427.8" r="1.75" fill="#fbc0b4" stroke="#f26a5e" stroke-width="0.9" />
<circle cx="128.2" cy="427.88" r="1.75" fill="#fbc0b4" stroke="#f26a5e" stroke-width="0.9" />
<circle cx="128.86" cy="427.96" r="1.75" fill="#fbc0b4" stroke="#f26a5e" stroke-width="0.9" />
<circle cx="129.52" cy="428.03" r="1.75" fill="#fbc0b4" stroke="#f26a5e" stroke-width="0.9" />
<circle cx="130.18" cy="428.11" r="1.75" fill="#fbc0b4" stroke="#f26a5e" stroke-width="0.9" />
<circle cx="130.84" cy="428.18" r="1.75" fill="#fbc0b4" stroke="#f26a5e" stroke-width="0.9" />
<circle cx="131.5" cy="428.25" r="1.75" fill="#fbc0b4" stroke="#f26a5e" stroke-width="0.9" />
<circle cx="132.16" cy="428.32" r="1.75" fill="#fbc0b4" stroke="#f26a5e" stroke-width="0.9" />
<circle cx="132.82" cy="428.38" r="1.75" fill="#fbc0b4" stroke="#f26a5e" stroke-width="0.9" />
<circle cx="133.48" cy="428.44" r="1.75" fill="#fbc0b4" stroke="#f26a5e" stroke-width="0.9" />
<circle cx="134.14" cy="428.51" r="1.75" fill="#fbc0b4" stroke="#f26a5e" stroke-width="0.9" />
<circle cx="134.8" cy="428.57" r="1.75" fill="#fbc0b4" stroke="#f26a5e" stroke-width="0.9" />
<circle cx="135.46" cy="428.63" r="1.75" fill="#fbc0b4" stroke="#f26a5e" stroke-width="0.9" />
<circle cx="136.12" cy="428.69" r="1.75" fill="#fbc0b4" stroke="#f26a5e" stroke-width="0.9" />
<circle cx="136.78" cy="428.75" r="1.75" fill="#fbc0b4" stroke="#f26a5e" stroke-width="0.9" />
<circle cx="137.44" cy="428.81" r="1.75" fill="#fbc0b4" stroke="#f26a5e" stroke-width="0.9" />
<circle cx="138.1" cy="428.87" r="1.75" fill="#fbc0b4" stroke="#f26a5e" stroke-width="0.9" />
<circle cx="138.76" cy="428.93" r="1.75" fill="#fbc0b4" stroke="#f26a5e" stroke-width="0.9" />
<circle cx="139.42" cy="428.99" r="1.75" fill="#fbc0b4" stroke="#f26a5e" stroke-width="0.9" />
<circle cx="140.08" cy="429.05" r="1.75" fill="#fbc0b4" stroke="#f26a5e" stroke-width="0.9" />
<circle cx="140.74" cy="429.11" r="1.75" fill="#fbc0b4" stroke="#f26a5e" stroke-width="0.9" />
<circle cx="141.4" cy="429.17" r="1.75" fill="#fbc0b4" stroke="#f26a5e" stroke-width="0.9" />
<circle cx="142.06" cy="429.23" r="1.75" fill="#fbc0b4" stroke="#f26a5e" stroke-width="0.9" />
<circle cx="142.72" cy="429.3" r="1.75" fill="#fbc0b4" stroke="#f26a5e" stroke-width="0.9" />
<circle cx="143.38" cy="429.36" r="1.75" fill="#fbc0b4" stroke="#f26a5e" stroke-width="0.9" />
<circle cx="144.04" cy="429.42" r="1.75" fill="#fbc0b4" stroke="#f26a5e" stroke-width="0.9" />
<circle cx="144.7" cy="429.48" r="1.75" fill="#fbc0b4" stroke="#f26a5e" stroke-width="0.9" />
<circle cx="145.36" cy="429.55" r="1.75" fill="#fbc0b4" stroke="#f26a5e" stroke-width="0.9" />
<circle cx="146.02" cy="429.61" r="1.75" fill="#fbc0b4" stroke="#f26a5e" stroke-width="0.9" />
<circle cx="146.68" cy="429.68" r="1.75" fill="#fbc0b4" stroke="#f26a5e" stroke-width="0.9" />
<circle cx="147.34" cy="429.75" r="1.75" fill="#fbc0b4" stroke="#f26a5e" stroke-width="0.9" />
<circle cx="148" cy="429.82" r="1.75" fill="#fbc0b4" stroke="#f26a5e" stroke-width="0.9" />
<circle cx="148.66" cy="429.89" r="1.75" fill="#fbc0b4" stroke="#f26a5e" stroke-width="0.9" />
<circle cx="149.32" cy="429.96" r="1.75" fill="#fbc0b4" stroke="#f26a5e" stroke-width="0.9" />
<circle cx="149.98" cy="430.04" r="1.75" fill="#fbc0b4" stroke="#f26a5e" stroke-width="0.9" />
<circle cx="150.64" cy="430.11" r="1.75" fill="#fbc0b4" stroke="#f26a5e" stroke-width="0.9" />
<circle cx="151.3" cy="430.19" r="1.75" fill="#fbc0b4" stroke="#f26a5e" stroke-width="0.9" />
<circle cx="151.96" cy="430.26" r="1.75" fill="#fbc0b4" stroke="#f26a5e" stroke-width="0.9" />
<circle cx="152.62" cy="430.34" r="1.75" fill="#fbc0b4" stroke="#f26a5e" stroke-width="0.9" />
<circle cx="153.28" cy="430.41" r="1.75" fill="#fbc0b4" stroke="#f26a5e" stroke-width="0.9" />
<circle cx="153.94" cy="430.49" r="1.75" fill="#fbc0b4" stroke="#f26a5e" stroke-width="0.9" />
<circle cx="154.6" cy="430.56" r="1.75" fill="#fbc0b4" stroke="#f26a5e" stroke-width="0.9" />
<circle cx="155.26" cy="430.63" r="1.75" fill="#fbc0b4" stroke="#f26a5e" stroke-width="0.9" />
<circle cx="155.92" cy="430.7" r="1.75" fill="#fbc0b4" stroke="#f26a5e" stroke-width="0.9" />
<circle cx="156.58" cy="430.77" r="1.75" fill="#fbc0b4" stroke="#f26a5e" stroke-width="0.9" />
<circle cx="157.24" cy="430.84" r="1.75" fill="#fbc0b4" stroke="#f26a5e" stroke-width="0.9" />
<circle cx="157.9" cy="430.9" r="1.75" fill="#fbc0b4" stroke="#f26a5e" stroke-width="0.9" />
<circle cx="158.56" cy="430.97" r="1.75" fill="#fbc0b4" stroke="#f26a5e" stroke-width="0.9" />
<circle cx="159.22" cy="431.04" r="1.75" fill="#fbc0b4" stroke="#f26a5e" stroke-width="0.9" />
<circle cx="159.88" cy="431.11" r="1.75" fill="#fbc0b4" stroke="#f26a5e" stroke-width="0.9" />
<circle cx="160.54" cy="431.18" r="1.75" fill="#fbc0b4" stroke="#f26a5e" stroke-width="0.9" />
<circle cx="161.2" cy="431.25" r="1.75" fill="#fbc0b4" stroke="#f26a5e" stroke-width="0.9" />
<circle cx="161.86" cy="431.31" r="1.75" fill="#fbc0b4" stroke="#f26a5e" stroke-width="0.9" />
<circle cx="162.52" cy="431.38" r="1.75" fill="#fbc0b4" stroke="#f26a5e" stroke-width="0.9" />
<circle cx="163.18" cy="431.45" r="1.75" fill="#fbc0b4" stroke="#f26a5e" stroke-width="0.9" />
<circle cx="163.84" cy="431.52" r="1.75" fill="#fbc0b4" stroke="#f26a5e" stroke-width="0.9" />
<rect x="22.5" y="311.5" width="143" height="122.5" fill="none" stroke="#2a2a2a" stroke-width="1" />
<line x1="33" y1="434" x2="33" y2="435.8" stroke="#333" stroke-width="0.6" />
<text x="33" y="444.8" font-size="8.2" text-anchor="middle" font-weight="normal" font-style="normal" fill="#222" stroke="#222" stroke-width="0.14" >300</text>
<line x1="54.97" y1="434" x2="54.97" y2="435.8" stroke="#333" stroke-width="0.6" />
<text x="54.97" y="444.8" font-size="8.2" text-anchor="middle" font-weight="normal" font-style="normal" fill="#222" stroke="#222" stroke-width="0.14" >350</text>
<line x1="76.93" y1="434" x2="76.93" y2="435.8" stroke="#333" stroke-width="0.6" />
<text x="76.93" y="444.8" font-size="8.2" text-anchor="middle" font-weight="normal" font-style="normal" fill="#222" stroke="#222" stroke-width="0.14" >400</text>
<line x1="98.9" y1="434" x2="98.9" y2="435.8" stroke="#333" stroke-width="0.6" />
<text x="98.9" y="444.8" font-size="8.2" text-anchor="middle" font-weight="normal" font-style="normal" fill="#222" stroke="#222" stroke-width="0.14" >450</text>
<line x1="120.87" y1="434" x2="120.87" y2="435.8" stroke="#333" stroke-width="0.6" />
<text x="120.87" y="444.8" font-size="8.2" text-anchor="middle" font-weight="normal" font-style="normal" fill="#222" stroke="#222" stroke-width="0.14" >500</text>
<line x1="142.83" y1="434" x2="142.83" y2="435.8" stroke="#333" stroke-width="0.6" />
<text x="142.83" y="444.8" font-size="8.2" text-anchor="middle" font-weight="normal" font-style="normal" fill="#222" stroke="#222" stroke-width="0.14" >550</text>
<line x1="164.8" y1="434" x2="164.8" y2="435.8" stroke="#333" stroke-width="0.6" />
<text x="164.8" y="444.8" font-size="8.2" text-anchor="middle" font-weight="normal" font-style="normal" fill="#222" stroke="#222" stroke-width="0.14" >600</text>
<line x1="43.98" y1="434" x2="43.98" y2="435" stroke="#333" stroke-width="0.6" />
<line x1="65.95" y1="434" x2="65.95" y2="435" stroke="#333" stroke-width="0.6" />
<line x1="87.92" y1="434" x2="87.92" y2="435" stroke="#333" stroke-width="0.6" />
<line x1="109.88" y1="434" x2="109.88" y2="435" stroke="#333" stroke-width="0.6" />
<line x1="131.85" y1="434" x2="131.85" y2="435" stroke="#333" stroke-width="0.6" />
<line x1="153.82" y1="434" x2="153.82" y2="435" stroke="#333" stroke-width="0.6" />
<line x1="22.02" y1="434" x2="22.02" y2="435" stroke="#333" stroke-width="0.6" />
<text x="93.5" y="458.2" font-size="8.4" text-anchor="middle" font-weight="normal" font-style="normal" fill="#222" stroke="#222" stroke-width="0.14" >Temperature (K)</text>
<text x="17.8" y="372" font-size="8.2" text-anchor="middle" font-weight="normal" font-style="normal" fill="#222" stroke="#222" stroke-width="0.14" transform="rotate(-90 17.8 372)" >TL Intensity (a.u.)</text>
<text x="1" y="315.7" font-size="14" text-anchor="start" font-weight="bold" font-style="normal" fill="#111" stroke="#111" stroke-width="0.1" >(g)</text>
<circle cx="25.3" cy="315.4" r="2" fill="#f8d040" stroke="#f5c020" stroke-width="0.4" />
<text x="28.9" y="317.3" font-size="5.25" text-anchor="start" font-weight="normal" font-style="normal" fill="#222" stroke="#222" stroke-width="0.08" >Undoped CaZnOS</text>
<circle cx="25.3" cy="322.4" r="2" fill="#f26a5e" stroke="#e85040" stroke-width="0.4" />
<text x="28.9" y="324.3" font-size="5.25" text-anchor="start" font-weight="normal" font-style="normal" fill="#222" stroke="#222" stroke-width="0.08" >CaZnOS:0.03Mn<tspan font-size="3.6" dy="-2">2+</tspan></text>
<rect x="87.2" y="314" width="73.8" height="62.3" fill="url(#gg_ins)" stroke="none" stroke-width="1" />
<path d="M88.6,374.8 C89.05,373.83 90.33,372.63 91.3,369 C92.27,365.37 93.38,358.5 94.4,353 C95.42,347.5 96.38,340.75 97.4,336 C98.42,331.25 99.82,326.58 100.5,324.5 C101.18,322.42 101.08,323.42 101.5,323.5 C101.92,323.58 102.48,323.67 103,325 C103.52,326.33 103.82,328.33 104.6,331.5 C105.38,334.67 106.67,340 107.7,344 C108.73,348 109.77,352 110.8,355.5 C111.83,359 112.88,362.42 113.9,365 C114.92,367.58 115.72,369.5 116.9,371 C118.08,372.5 118.6,373.28 121,374 C123.4,374.72 127.87,375.03 131.3,375.3 C134.73,375.57 138.18,375.53 141.6,375.6 C145.02,375.67 148.6,375.67 151.8,375.7 C155,375.73 159.3,375.78 160.8,375.8 L160.8,375.8 L88.6,375.8 Z" stroke="none" stroke-width="1" fill="url(#gg_c1)" />
<path d="M99,375.8 C99.42,375.5 100.67,375.47 101.5,374 C102.33,372.53 103.17,369.5 104,367 C104.83,364.5 105.72,360.87 106.5,359 C107.28,357.13 107.95,355.97 108.7,355.8 C109.45,355.63 110.2,356.47 111,358 C111.8,359.53 112.67,362.75 113.5,365 C114.33,367.25 115.08,369.83 116,371.5 C116.92,373.17 118,374.28 119,375 C120,375.72 121.5,375.67 122,375.8 Z" stroke="none" stroke-width="1" fill="url(#gg_c2)" />
<path d="M88.6,374 C89.05,372.95 90.33,371.48 91.3,367.7 C92.27,363.92 93.38,356.77 94.4,351.3 C95.42,345.83 96.38,339.52 97.4,334.9 C98.42,330.28 99.82,325.72 100.5,323.6 C101.18,321.48 101.08,322.17 101.5,322.2 C101.92,322.23 102.48,322.37 103,323.8 C103.52,325.23 103.82,327.58 104.6,330.8 C105.38,334.02 106.67,339.17 107.7,343.1 C108.73,347.03 109.77,350.98 110.8,354.4 C111.83,357.82 112.88,361.03 113.9,363.6 C114.92,366.17 115.72,368.37 116.9,369.8 C118.08,371.23 118.6,371.58 121,372.2 C123.4,372.82 127.87,373.15 131.3,373.5 C134.73,373.85 138.18,374.07 141.6,374.3 C145.02,374.53 148.6,374.7 151.8,374.9 C155,375.1 159.3,375.4 160.8,375.5" stroke="#3a3a4a" stroke-width="0.7" fill="none" />
<circle cx="88.6" cy="374" r="1" fill="#f8b420" stroke="none" stroke-width="1" />
<circle cx="89.68" cy="371.48" r="1" fill="#f8b420" stroke="none" stroke-width="1" />
<circle cx="90.76" cy="368.96" r="1" fill="#f8b420" stroke="none" stroke-width="1" />
<circle cx="91.61" cy="366.06" r="1" fill="#f8b420" stroke="none" stroke-width="1" />
<circle cx="92.23" cy="362.78" r="1" fill="#f8b420" stroke="none" stroke-width="1" />
<circle cx="92.85" cy="359.5" r="1" fill="#f8b420" stroke="none" stroke-width="1" />
<circle cx="93.47" cy="356.22" r="1" fill="#f8b420" stroke="none" stroke-width="1" />
<circle cx="94.09" cy="352.94" r="1" fill="#f8b420" stroke="none" stroke-width="1" />
<circle cx="94.7" cy="349.66" r="1" fill="#f8b420" stroke="none" stroke-width="1" />
<circle cx="95.3" cy="346.38" r="1" fill="#f8b420" stroke="none" stroke-width="1" />
<circle cx="95.9" cy="343.1" r="1" fill="#f8b420" stroke="none" stroke-width="1" />
<circle cx="96.5" cy="339.82" r="1" fill="#f8b420" stroke="none" stroke-width="1" />
<circle cx="97.1" cy="336.54" r="1" fill="#f8b420" stroke="none" stroke-width="1" />
<circle cx="97.71" cy="333.77" r="1" fill="#f8b420" stroke="none" stroke-width="1" />
<circle cx="98.64" cy="330.38" r="1" fill="#f8b420" stroke="none" stroke-width="1" />
<circle cx="99.57" cy="326.99" r="1" fill="#f8b420" stroke="none" stroke-width="1" />
<circle cx="100.5" cy="323.6" r="1" fill="#f8b420" stroke="none" stroke-width="1" />
<circle cx="102.1" cy="322.84" r="1" fill="#f8b420" stroke="none" stroke-width="1" />
<circle cx="103.32" cy="325.2" r="1" fill="#f8b420" stroke="none" stroke-width="1" />
<circle cx="103.96" cy="328" r="1" fill="#f8b420" stroke="none" stroke-width="1" />
<circle cx="104.6" cy="330.8" r="1" fill="#f8b420" stroke="none" stroke-width="1" />
<circle cx="105.22" cy="333.26" r="1" fill="#f8b420" stroke="none" stroke-width="1" />
<circle cx="105.84" cy="335.72" r="1" fill="#f8b420" stroke="none" stroke-width="1" />
<circle cx="106.46" cy="338.18" r="1" fill="#f8b420" stroke="none" stroke-width="1" />
<circle cx="107.08" cy="340.64" r="1" fill="#f8b420" stroke="none" stroke-width="1" />
<circle cx="107.7" cy="343.1" r="1" fill="#f8b420" stroke="none" stroke-width="1" />
<circle cx="108.63" cy="346.49" r="1" fill="#f8b420" stroke="none" stroke-width="1" />
<circle cx="109.56" cy="349.88" r="1" fill="#f8b420" stroke="none" stroke-width="1" />
<circle cx="110.49" cy="353.27" r="1" fill="#f8b420" stroke="none" stroke-width="1" />
<circle cx="111.42" cy="356.24" r="1" fill="#f8b420" stroke="none" stroke-width="1" />
<circle cx="112.35" cy="359" r="1" fill="#f8b420" stroke="none" stroke-width="1" />
<circle cx="113.28" cy="361.76" r="1" fill="#f8b420" stroke="none" stroke-width="1" />
<circle cx="114.2" cy="364.22" r="1" fill="#f8b420" stroke="none" stroke-width="1" />
<circle cx="115.4" cy="366.7" r="1" fill="#f8b420" stroke="none" stroke-width="1" />
<circle cx="116.6" cy="369.18" r="1" fill="#f8b420" stroke="none" stroke-width="1" />
<circle cx="118.54" cy="370.76" r="1" fill="#f8b420" stroke="none" stroke-width="1" />
<circle cx="121" cy="372.2" r="1" fill="#f8b420" stroke="none" stroke-width="1" />
<circle cx="124.09" cy="372.59" r="1" fill="#f8b420" stroke="none" stroke-width="1" />
<circle cx="127.18" cy="372.98" r="1" fill="#f8b420" stroke="none" stroke-width="1" />
<circle cx="130.27" cy="373.37" r="1" fill="#f8b420" stroke="none" stroke-width="1" />
<circle cx="133.36" cy="373.66" r="1" fill="#f8b420" stroke="none" stroke-width="1" />
<circle cx="136.45" cy="373.9" r="1" fill="#f8b420" stroke="none" stroke-width="1" />
<circle cx="139.54" cy="374.14" r="1" fill="#f8b420" stroke="none" stroke-width="1" />
<circle cx="142.62" cy="374.36" r="1" fill="#f8b420" stroke="none" stroke-width="1" />
<circle cx="145.68" cy="374.54" r="1" fill="#f8b420" stroke="none" stroke-width="1" />
<circle cx="148.74" cy="374.72" r="1" fill="#f8b420" stroke="none" stroke-width="1" />
<circle cx="151.8" cy="374.9" r="1" fill="#f8b420" stroke="none" stroke-width="1" />
<circle cx="154.5" cy="375.08" r="1" fill="#f8b420" stroke="none" stroke-width="1" />
<circle cx="157.2" cy="375.26" r="1" fill="#f8b420" stroke="none" stroke-width="1" />
<circle cx="159.9" cy="375.44" r="1" fill="#f8b420" stroke="none" stroke-width="1" />
<rect x="87.2" y="314" width="73.8" height="62.3" fill="none" stroke="#2a2a2a" stroke-width="0.7" />
<line x1="92.7" y1="376.3" x2="92.7" y2="377.3" stroke="#333" stroke-width="0.5" />
<text x="92.7" y="382.5" font-size="4.6" text-anchor="middle" font-weight="normal" font-style="normal" fill="#222" stroke="#222" stroke-width="0.06" >300</text>
<line x1="104.02" y1="376.3" x2="104.02" y2="377.3" stroke="#333" stroke-width="0.5" />
<text x="104.02" y="382.5" font-size="4.6" text-anchor="middle" font-weight="normal" font-style="normal" fill="#222" stroke="#222" stroke-width="0.06" >350</text>
<line x1="115.33" y1="376.3" x2="115.33" y2="377.3" stroke="#333" stroke-width="0.5" />
<text x="115.33" y="382.5" font-size="4.6" text-anchor="middle" font-weight="normal" font-style="normal" fill="#222" stroke="#222" stroke-width="0.06" >400</text>
<line x1="126.65" y1="376.3" x2="126.65" y2="377.3" stroke="#333" stroke-width="0.5" />
<text x="126.65" y="382.5" font-size="4.6" text-anchor="middle" font-weight="normal" font-style="normal" fill="#222" stroke="#222" stroke-width="0.06" >450</text>
<line x1="137.97" y1="376.3" x2="137.97" y2="377.3" stroke="#333" stroke-width="0.5" />
<text x="137.97" y="382.5" font-size="4.6" text-anchor="middle" font-weight="normal" font-style="normal" fill="#222" stroke="#222" stroke-width="0.06" >500</text>
<line x1="149.28" y1="376.3" x2="149.28" y2="377.3" stroke="#333" stroke-width="0.5" />
<text x="149.28" y="382.5" font-size="4.6" text-anchor="middle" font-weight="normal" font-style="normal" fill="#222" stroke="#222" stroke-width="0.06" >550</text>
<line x1="160.6" y1="376.3" x2="160.6" y2="377.3" stroke="#333" stroke-width="0.5" />
<text x="160.6" y="382.5" font-size="4.6" text-anchor="middle" font-weight="normal" font-style="normal" fill="#222" stroke="#222" stroke-width="0.06" >600</text>
<text x="121" y="390" font-size="4.8" text-anchor="middle" font-weight="bold" font-style="normal" fill="#333" stroke="#333" stroke-width="0.04" >Temperature (K)</text>
<text x="84.6" y="346" font-size="4.2" text-anchor="middle" font-weight="bold" font-style="normal" fill="#333" stroke="#333" stroke-width="0.03" transform="rotate(-90 84.6 346)" >TL Intensity (a.u.)</text>
<text x="89.8" y="319.4" font-size="3.9" text-anchor="start" font-weight="bold" font-style="normal" fill="#333" stroke="#333" stroke-width="0.02" >CaZnOS:0.03Mn<tspan font-size="2.6" dy="-1.5">2+</tspan></text>
<line x1="131.3" y1="317.8" x2="137.9" y2="317.8" stroke="#3a3a4a" stroke-width="0.7" />
<text x="139.5" y="319.2" font-size="3.9" text-anchor="start" font-weight="bold" font-style="normal" fill="#333" stroke="#333" stroke-width="0.02" >Experiment</text>
<circle cx="132.5" cy="321.1" r="0.8" fill="#f7b52a" stroke="none" stroke-width="1" />
<circle cx="134.6" cy="321.1" r="0.8" fill="#f7b52a" stroke="none" stroke-width="1" />
<circle cx="136.7" cy="321.1" r="0.8" fill="#f7b52a" stroke="none" stroke-width="1" />
<text x="140.3" y="322.5" font-size="3.9" text-anchor="start" font-weight="bold" font-style="normal" fill="#333" stroke="#333" stroke-width="0.02" >Fit</text>
<defs><linearGradient id="gh_bg" x1="0" y1="0" x2="0" y2="1"><stop offset="0" stop-color="#fdf7ee"/><stop offset="1" stop-color="#fdf8f0"/></linearGradient></defs>
<rect x="200.5" y="310.5" width="144" height="134" fill="url(#gh_bg)" stroke="none" stroke-width="1" />
<rect x="213.9" y="351.8" width="11.1" height="25.7" fill="#fbd04c" stroke="none" stroke-width="1" />
<rect x="225" y="326.8" width="10.8" height="50.7" fill="#f9924c" stroke="none" stroke-width="1" />
<rect x="261.8" y="353.9" width="11.1" height="23.6" fill="#fbd04c" stroke="none" stroke-width="1" />
<rect x="272.9" y="353.2" width="10.8" height="24.3" fill="#f9924c" stroke="none" stroke-width="1" />
<rect x="310.1" y="373.9" width="11.1" height="3.6" fill="#fbd04c" stroke="none" stroke-width="1" />
<rect x="321.2" y="372.9" width="10.8" height="4.6" fill="#f9924c" stroke="none" stroke-width="1" />
<rect x="213.9" y="405.1" width="11.1" height="39.4" fill="#fbb98c" stroke="none" stroke-width="1" />
<rect x="225" y="408.2" width="10.8" height="36.3" fill="#f7806e" stroke="none" stroke-width="1" />
<rect x="261.8" y="399.7" width="11.1" height="44.8" fill="#fbb98c" stroke="none" stroke-width="1" />
<rect x="272.9" y="405.7" width="10.8" height="38.8" fill="#f7806e" stroke="none" stroke-width="1" />
<rect x="310.1" y="396.1" width="11.1" height="48.4" fill="#fbb98c" stroke="none" stroke-width="1" />
<rect x="321.2" y="401.7" width="10.8" height="42.8" fill="#f7806e" stroke="none" stroke-width="1" />
<rect x="200.5" y="310.5" width="144" height="134" fill="none" stroke="#2a2a2a" stroke-width="1" />
<line x1="200.5" y1="377.5" x2="344.5" y2="377.5" stroke="#2a2a2a" stroke-width="1" />
<line x1="225" y1="377.5" x2="225" y2="376.3" stroke="#333" stroke-width="0.6" />
<line x1="225" y1="444.5" x2="225" y2="446.1" stroke="#333" stroke-width="0.6" />
<line x1="272.9" y1="377.5" x2="272.9" y2="376.3" stroke="#333" stroke-width="0.6" />
<line x1="272.9" y1="444.5" x2="272.9" y2="446.1" stroke="#333" stroke-width="0.6" />
<line x1="321.2" y1="377.5" x2="321.2" y2="376.3" stroke="#333" stroke-width="0.6" />
<line x1="321.2" y1="444.5" x2="321.2" y2="446.1" stroke="#333" stroke-width="0.6" />
<line x1="248.5" y1="444.5" x2="248.5" y2="445.5" stroke="#333" stroke-width="0.6" />
<line x1="248.5" y1="377.5" x2="248.5" y2="376.7" stroke="#333" stroke-width="0.6" />
<line x1="296.6" y1="444.5" x2="296.6" y2="445.5" stroke="#333" stroke-width="0.6" />
<line x1="296.6" y1="377.5" x2="296.6" y2="376.7" stroke="#333" stroke-width="0.6" />
<text x="211.7" y="453.6" font-size="8.2" text-anchor="start" font-weight="normal" font-style="normal" fill="#222" stroke="#222" stroke-width="0.14" >Trap</text>
<circle cx="234.2" cy="450.9" r="3.7" fill="none" stroke="#333" stroke-width="0.7" />
<text x="234.2" y="452.9" font-size="5.4" text-anchor="middle" font-weight="normal" font-style="normal" fill="#222" stroke="#222" stroke-width="0.08" >1</text>
<text x="259.6" y="453.6" font-size="8.2" text-anchor="start" font-weight="normal" font-style="normal" fill="#222" stroke="#222" stroke-width="0.14" >Trap</text>
<circle cx="282.1" cy="450.9" r="3.7" fill="none" stroke="#333" stroke-width="0.7" />
<text x="282.1" y="452.9" font-size="5.4" text-anchor="middle" font-weight="normal" font-style="normal" fill="#222" stroke="#222" stroke-width="0.08" >2</text>
<text x="307.9" y="453.6" font-size="8.2" text-anchor="start" font-weight="normal" font-style="normal" fill="#222" stroke="#222" stroke-width="0.14" >Trap</text>
<circle cx="330.4" cy="450.9" r="3.7" fill="none" stroke="#333" stroke-width="0.7" />
<text x="330.4" y="452.9" font-size="5.4" text-anchor="middle" font-weight="normal" font-style="normal" fill="#222" stroke="#222" stroke-width="0.08" >3</text>
<text x="196.2" y="342.3" font-size="5.8" text-anchor="middle" font-weight="normal" font-style="normal" fill="#222" stroke="#222" stroke-width="0.1" transform="rotate(-90 196.2 342.3)" >Trap Concentration (a.u.)</text>
<text x="196.2" y="411.2" font-size="5.8" text-anchor="middle" font-weight="normal" font-style="normal" fill="#222" stroke="#222" stroke-width="0.1" transform="rotate(-90 196.2 411.2)" >Trap Depth (a.u.)</text>
<text x="169.5" y="315.6" font-size="14" text-anchor="start" font-weight="bold" font-style="normal" fill="#111" stroke="#111" stroke-width="0.1" >(h)</text>
<rect x="203.5" y="313.8" width="4.3" height="4.2" fill="#fbd04c" stroke="none" stroke-width="1" />
<text x="211.3" y="318" font-size="6.3" text-anchor="start" font-weight="normal" font-style="normal" fill="#222" stroke="#222" stroke-width="0.12" ><tspan font-style="italic">x</tspan> = 0</text>
<rect x="203.5" y="320.9" width="4.3" height="4.2" fill="#f9924c" stroke="none" stroke-width="1" />
<text x="211.3" y="325.1" font-size="6.3" text-anchor="start" font-weight="normal" font-style="normal" fill="#222" stroke="#222" stroke-width="0.12" ><tspan font-style="italic">x</tspan> = 0.03</text>
<rect x="203.5" y="382.4" width="5.6" height="4.2" fill="#fbb98c" stroke="none" stroke-width="1" />
<text x="213.2" y="386.6" font-size="6.3" text-anchor="start" font-weight="normal" font-style="normal" fill="#222" stroke="#222" stroke-width="0.12" ><tspan font-style="italic">x</tspan> = 0</text>
<rect x="203.5" y="390" width="5.6" height="4.2" fill="#f7806e" stroke="none" stroke-width="1" />
<text x="213.2" y="394.2" font-size="6.3" text-anchor="start" font-weight="normal" font-style="normal" fill="#222" stroke="#222" stroke-width="0.12" ><tspan font-style="italic">x</tspan> = 0.03</text>
<defs><linearGradient id="gi_green" x1="0" y1="0" x2="0" y2="1"><stop offset="0" stop-color="#30c040"/><stop offset="1" stop-color="#0a8a20"/></linearGradient><linearGradient id="gi_green2" x1="0" y1="0" x2="0" y2="1"><stop offset="0" stop-color="#5ad060"/><stop offset="1" stop-color="#108a28"/></linearGradient><marker id="ar_k" markerWidth="4" markerHeight="4" refX="3" refY="2" orient="auto" markerUnits="userSpaceOnUse"><path d="M0,0 L4,2 L0,4 Z" fill="#111"/></marker><marker id="ar_b" markerWidth="4" markerHeight="4" refX="3.5" refY="2" orient="auto" markerUnits="userSpaceOnUse"><path d="M0,0 L4,2 L0,4 Z" fill="#1a6ac8"/></marker><marker id="ar_c" markerWidth="4.4" markerHeight="4.4" refX="3.8" refY="2.2" orient="auto" markerUnits="userSpaceOnUse"><path d="M0,0 L4.4,2.2 L0,4.4 Z" fill="#2a9ae0"/></marker></defs>
<path d="M352.6,322.2 C353.17,321.5 354.72,318.95 356,318 C357.28,317.05 357.37,317.23 360.3,316.5 C363.23,315.77 368.2,314.08 373.6,313.6 C379,313.12 386.33,313.28 392.7,313.6 C399.07,313.92 405.43,314.38 411.8,315.5 C418.17,316.62 425.37,318.95 430.9,320.3 C436.43,321.65 436.28,323.08 445,323.6 C453.72,324.12 470.47,323.7 483.2,323.4 C495.93,323.1 512.27,321.95 521.4,321.8 C530.53,321.65 533.9,321.97 538,322.5 C542.1,323.03 544.17,323.92 546,325 C547.83,326.08 549,327.75 549,329 C549,330.25 547.42,331.53 546,332.5 C544.58,333.47 544.6,333.83 540.5,334.8 C536.4,335.77 530.95,337.35 521.4,338.3 C511.85,339.25 495.1,340.05 483.2,340.5 C471.3,340.95 458.72,341.83 450,341 C441.28,340.17 437.27,337.05 430.9,335.5 C424.53,333.95 418.17,332.65 411.8,331.7 C405.43,330.75 399.07,330.27 392.7,329.8 C386.33,329.33 379.63,329.22 373.6,328.9 C367.57,328.58 360,329.02 356.5,327.9 C353,326.78 353.25,323.15 352.6,322.2 Z" stroke="none" stroke-width="1" fill="#f6b49a" />
<path d="M353,424.3 C353.5,423.67 354.78,421.45 356,420.5 C357.22,419.55 357.05,419.13 360.3,418.6 C363.55,418.07 370.1,417.4 375.5,417.3 C380.9,417.2 386.65,417.15 392.7,418 C398.75,418.85 405.43,420.87 411.8,422.4 C418.17,423.93 425.37,426.17 430.9,427.2 C436.43,428.23 436.28,428.57 445,428.6 C453.72,428.63 470.47,428.02 483.2,427.4 C495.93,426.78 512.27,425.22 521.4,424.9 C530.53,424.58 533.9,424.9 538,425.5 C542.1,426.1 544.17,427.23 546,428.5 C547.83,429.77 549,431.77 549,433.1 C549,434.43 547.42,435.53 546,436.5 C544.58,437.47 544.6,438.03 540.5,438.9 C536.4,439.77 530.95,440.75 521.4,441.7 C511.85,442.65 495.1,444.08 483.2,444.6 C471.3,445.12 458.72,445.32 450,444.8 C441.28,444.28 437.27,442.85 430.9,441.5 C424.53,440.15 418.17,437.97 411.8,436.7 C405.43,435.43 399.07,434.68 392.7,433.9 C386.33,433.12 379.63,432.8 373.6,432 C367.57,431.2 359.93,430.38 356.5,429.1 C353.07,427.82 353.58,425.1 353,424.3 Z" stroke="none" stroke-width="1" fill="#f6b49a" />
<text x="361.6" y="312.3" font-size="14" text-anchor="start" font-weight="bold" font-style="normal" fill="#111" stroke="#111" stroke-width="0.1" >(i)</text>
<text x="528" y="333.2" font-size="11" text-anchor="middle" font-weight="bold" font-style="normal" fill="#f1e9e6" stroke="#8a7a78" stroke-width="0.75" letter-spacing="1.8">CB</text>
<text x="528" y="436.8" font-size="11" text-anchor="middle" font-weight="bold" font-style="normal" fill="#f1e9e6" stroke="#8a7a78" stroke-width="0.75" letter-spacing="1.8">VB</text>
<line x1="364.4" y1="422.6" x2="364.4" y2="329.5" stroke="#7a2cc0" stroke-width="1.5" />
<text x="360.6" y="374.6" font-size="6.6" text-anchor="middle" font-weight="bold" font-style="normal" fill="#111" stroke="#111" stroke-width="0.09" transform="rotate(-90 360.6 374.6)" >UV Excitation</text>
<path d="M366.5,327.1 L445.4,327.1 L445.4,333.5" stroke="#111" stroke-width="1" fill="none" stroke-dasharray="2.6,1.4" marker-end="url(#ar_k)"/>
<circle cx="364.4" cy="327.1" r="2.1" fill="#1eaae8" stroke="none" stroke-width="1" />
<circle cx="445.7" cy="338.1" r="2.2" fill="#1eaae8" stroke="none" stroke-width="1" />
<line x1="393.6" y1="327.5" x2="393.6" y2="336.5" stroke="#111" stroke-width="0.8" marker-end="url(#ar_k)"/>
<circle cx="383.3" cy="340.4" r="1.9" fill="#1eaae8" stroke="none" stroke-width="1" />
<circle cx="393.6" cy="340.4" r="1.9" fill="#1eaae8" stroke="none" stroke-width="1" />
<circle cx="403.4" cy="340.4" r="1.9" fill="#1eaae8" stroke="none" stroke-width="1" />
<line x1="378.4" y1="343.9" x2="407.2" y2="343.9" stroke="#000" stroke-width="1.35" />
<text x="367.8" y="343.6" font-size="5.6" text-anchor="start" font-weight="bold" font-style="normal" fill="#111" stroke="#111" stroke-width="0.06" >V<tspan font-size="4" dy="1.5">O</tspan></text>
<circle cx="375.7" cy="357" r="2" fill="#cfe3f8" stroke="#5a9ae0" stroke-width="0.6" />
<circle cx="385.2" cy="357" r="2" fill="#cfe3f8" stroke="#5a9ae0" stroke-width="0.6" />
<circle cx="394.6" cy="357" r="2" fill="#cfe3f8" stroke="#5a9ae0" stroke-width="0.6" />
<line x1="372.4" y1="361.1" x2="400.4" y2="361.1" stroke="#000" stroke-width="1.35" />
<text x="383.2" y="369.4" font-size="5.6" text-anchor="start" font-weight="bold" font-style="normal" fill="#111" stroke="#111" stroke-width="0.06" >V<tspan font-size="4" dy="1.5">O</tspan></text>
<circle cx="409.4" cy="351.8" r="1.9" fill="#1eaae8" stroke="none" stroke-width="1" />
<circle cx="417.8" cy="351.8" r="1.9" fill="#1eaae8" stroke="none" stroke-width="1" />
<circle cx="427.2" cy="351.8" r="1.9" fill="#1eaae8" stroke="none" stroke-width="1" />
<line x1="403.3" y1="355.1" x2="432" y2="355.1" stroke="#000" stroke-width="1.35" />
<text x="427.8" y="362" font-size="5.6" text-anchor="start" font-weight="bold" font-style="normal" fill="#111" stroke="#111" stroke-width="0.06" >V<tspan font-size="4" dy="1.5">O</tspan></text>
<path d="M393.6,345.3 L401.8,349.12 L398,349.12 L398,353.8 L389.2,353.8 L389.2,349.12 L385.4,349.12 Z" stroke="none" stroke-width="1" fill="url(#gi_green)" />
<path d="M417.8,356.4 L425.8,360.36 L422,360.36 L422,365.2 L413.6,365.2 L413.6,360.36 L409.8,360.36 Z" stroke="none" stroke-width="1" fill="url(#gi_green)" />
<path d="M410.2,411 L422.3,411 L422.3,416.3 L427.3,416.3 L416.3,422.2 L405.2,416.3 L410.2,416.3 Z" stroke="none" stroke-width="1" fill="url(#gi_green2)" />
<path d="M403.4,338.1 L442,338.1" stroke="#1a6ac8" stroke-width="1" fill="none" marker-end="url(#ar_b)"/>
<path d="M418,351.5 L442,339.5" stroke="#1a6ac8" stroke-width="1" fill="none" marker-end="url(#ar_b)"/>
<text x="418.2" y="375" font-size="5.5" text-anchor="middle" font-weight="bold" font-style="normal" fill="#222" stroke="#222" stroke-width="0.06" >Mechanical</text>
<text x="418.2" y="381.2" font-size="5.5" text-anchor="middle" font-weight="bold" font-style="normal" fill="#222" stroke="#222" stroke-width="0.06" >Stimuli</text>
<path d="M445.7,409.5 L445.7,342" stroke="#2a92e0" stroke-width="1.6" fill="none" marker-end="url(#ar_c)"/>
<path d="M445.7,345 L445.7,411" stroke="#2a92e0" stroke-width="1.6" fill="none" marker-end="url(#ar_c)"/>
<text x="459.5" y="375.6" font-size="5.2" text-anchor="middle" font-weight="bold" font-style="normal" fill="#222" stroke="#222" stroke-width="0.06" >Energy</text>
<text x="459.5" y="382.4" font-size="5.2" text-anchor="middle" font-weight="bold" font-style="normal" fill="#222" stroke="#222" stroke-width="0.06" >Transfer</text>
<linearGradient id="gi_bolt" x1="0" y1="0" x2="0" y2="1"><stop offset="0" stop-color="#fbd040"/><stop offset="1" stop-color="#f0a000"/></linearGradient>
<path d="M448.4,388 L453.5,388.6 L456,390.2 L458.5,389 L461.5,390.6 L464,389.6 L471.8,390.8 L465,392.2 L462,391.6 L459.5,393 L456.5,392 L453,393.3 Z" stroke="none" stroke-width="1" fill="url(#gi_bolt)" />
<circle cx="445.3" cy="414.2" r="2.1" fill="#cfe3f8" stroke="#5a9ae0" stroke-width="0.6" />
<line x1="440" y1="417.2" x2="451" y2="417.2" stroke="#111" stroke-width="0.8" />
<path d="M445.3,430 L445.3,419" stroke="#111" stroke-width="0.8" fill="none" stroke-dasharray="1.6,1" marker-end="url(#ar_k)"/>
<circle cx="445.3" cy="431.2" r="2.1" fill="#cfe3f8" stroke="#5a9ae0" stroke-width="0.6" />
<circle cx="364.5" cy="422.6" r="2.1" fill="#cfe3f8" stroke="#5a9ae0" stroke-width="0.6" />
<path d="M367,423.3 L432,431" stroke="#111" stroke-width="1" fill="none" stroke-dasharray="2.6,1.4" marker-end="url(#ar_k)"/>
<text x="441.5" y="439.8" font-size="5.2" text-anchor="middle" font-weight="bold" font-style="normal" fill="#222" stroke="#222" stroke-width="0.06" ><tspan font-style="italic">Band</tspan> Titling</text>
<line x1="473.7" y1="350.4" x2="503.3" y2="350.4" stroke="#8a3a26" stroke-width="1.2" />
<line x1="473.7" y1="355" x2="503.3" y2="355" stroke="#8a3a26" stroke-width="1.2" />
<line x1="473.7" y1="362" x2="503.3" y2="362" stroke="#8a3a26" stroke-width="1.2" />
<line x1="473.7" y1="371" x2="503.3" y2="371" stroke="#8a3a26" stroke-width="1.2" />
<line x1="473.7" y1="383.7" x2="503.3" y2="383.7" stroke="#8a3a26" stroke-width="1.2" />
<line x1="473.7" y1="414.2" x2="503.3" y2="414.2" stroke="#8a3a26" stroke-width="1.2" />
<line x1="477.6" y1="352.3" x2="477.6" y2="414" stroke="#b890f0" stroke-width="0.9" />
<line x1="480.4" y1="364" x2="480.4" y2="414" stroke="#b890f0" stroke-width="0.9" />
<line x1="483" y1="373" x2="483" y2="414" stroke="#b890f0" stroke-width="0.9" />
<text x="506.6" y="349.6" font-size="5.2" text-anchor="start" font-weight="bold" font-style="normal" fill="#1a1a1a" stroke="#1a1a1a" stroke-width="0.06" ><tspan font-size="3.5" dy="-1.7">4</tspan><tspan dy="1.7">E(<tspan font-size="3.5" dy="-1.7">4</tspan><tspan dy="1.7">D)</tspan></text>
<text x="506.6" y="356.9" font-size="5.2" text-anchor="start" font-weight="bold" font-style="normal" fill="#1a1a1a" stroke="#1a1a1a" stroke-width="0.06" ><tspan font-size="3.5" dy="-1.7">4</tspan><tspan dy="1.7">T</tspan><tspan font-size="3.5" dy="1">2</tspan><tspan dy="-1">(<tspan font-size="3.5" dy="-1.7">4</tspan><tspan dy="1.7">D)</tspan></text>
<text x="506.6" y="364.1" font-size="5.2" text-anchor="start" font-weight="bold" font-style="normal" fill="#1a1a1a" stroke="#1a1a1a" stroke-width="0.06" >(<tspan font-size="3.5" dy="-1.7">4</tspan><tspan dy="1.7">A</tspan><tspan font-size="3.5" dy="1">1</tspan><tspan dy="-1">,<tspan font-size="3.5" dy="-1.7">4</tspan><tspan dy="1.7">E)(<tspan font-size="3.5" dy="-1.7">4</tspan><tspan dy="1.7">G)</tspan></text>
<text x="506.6" y="372.9" font-size="5.2" text-anchor="start" font-weight="bold" font-style="normal" fill="#1a1a1a" stroke="#1a1a1a" stroke-width="0.06" ><tspan font-size="3.5" dy="-1.7">4</tspan><tspan dy="1.7">T</tspan><tspan font-size="3.5" dy="1">2</tspan><tspan dy="-1">(<tspan font-size="3.5" dy="-1.7">4</tspan><tspan dy="1.7">G)</tspan></text>
<text x="506.6" y="384.1" font-size="5.2" text-anchor="start" font-weight="bold" font-style="normal" fill="#1a1a1a" stroke="#1a1a1a" stroke-width="0.06" ><tspan font-size="3.5" dy="-1.7">4</tspan><tspan dy="1.7">T</tspan><tspan font-size="3.5" dy="1">1</tspan><tspan dy="-1">(<tspan font-size="3.5" dy="-1.7">4</tspan><tspan dy="1.7">G)</tspan></text>
<text x="506.6" y="414.3" font-size="5.2" text-anchor="start" font-weight="bold" font-style="normal" fill="#1a1a1a" stroke="#1a1a1a" stroke-width="0.06" ><tspan font-size="3.5" dy="-1.7">6</tspan><tspan dy="1.7">A</tspan><tspan font-size="3.5" dy="1">1</tspan><tspan dy="-1">(<tspan font-size="3.5" dy="-1.7">6</tspan><tspan dy="1.7">S)</tspan></text>
<line x1="492.6" y1="386" x2="492.6" y2="408.5" stroke="#f04a10" stroke-width="1.1" />
<path d="M492.6,413 L490.2,407.5 L495,407.5 Z" stroke="none" stroke-width="1" fill="#f04a10" />
<text x="498.3" y="396" font-size="4.2" text-anchor="middle" font-weight="bold" font-style="normal" fill="#222" stroke="#222" stroke-width="0.03" transform="rotate(90 498.3 396)" >610 nm</text>
<path d="M504.3,394.5 C507,394.5 509,394 511,393 C513,390 514,389 515.5,392 C517,397 518,399 520,395 C521.5,390 522.5,387 524.5,392 C526,398 527,399 528.5,396 C529.5,394.5 531,394.5 532,394.5" stroke="#f04e10" stroke-width="1.6" fill="none" />
<path d="M531.5,392.2 L535.5,394.5 L531.5,396.8 Z" stroke="none" stroke-width="1" fill="#f05a10" />
<text x="520.2" y="407.4" font-size="6.6" text-anchor="middle" font-weight="bold" font-style="normal" fill="#222" stroke="#222" stroke-width="0.09" >Emission</text>
<text x="490.7" y="422.9" font-size="6.8" text-anchor="middle" font-weight="bold" font-style="normal" fill="#222" stroke="#222" stroke-width="0.1" >Mn<tspan font-size="4.4" dy="-2.6">2+</tspan></text>
</svg></body></html>
